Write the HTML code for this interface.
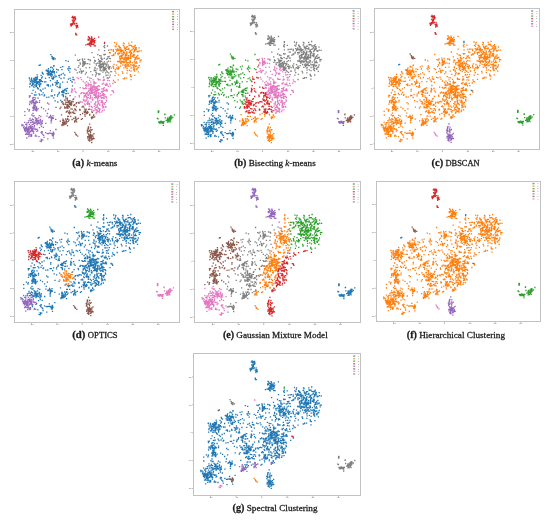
<!DOCTYPE html>
<html><head><meta charset="utf-8"><style>
html,body{margin:0;padding:0;background:#fff;width:550px;height:521px;overflow:hidden}
svg{position:absolute;left:0;top:0}
.tk{font-family:"Liberation Sans",sans-serif;font-size:2.4px;fill:#666}
.lg{font-family:"Liberation Sans",sans-serif;font-size:2.1px;fill:#7a7a7a}
.cap{font-family:"Liberation Serif",serif;font-size:8.9px;fill:#1a1a1a;stroke:#1a1a1a;stroke-width:0.26px}
</style></head><body>
<svg width="550" height="521" viewBox="0 0 550 521">
<g id="pa">
<rect x="14.5" y="9.5" width="165" height="140" fill="none" stroke="#c2c2c2" stroke-width="1"/>
<line x1="32.2" y1="150" x2="32.2" y2="151" stroke="#999" stroke-width="0.6"/>
<text x="32.2" y="152.3" class="tk" text-anchor="middle">−20</text>
<line x1="57.6" y1="150" x2="57.6" y2="151" stroke="#999" stroke-width="0.6"/>
<text x="57.6" y="152.3" class="tk" text-anchor="middle">−10</text>
<line x1="83.0" y1="150" x2="83.0" y2="151" stroke="#999" stroke-width="0.6"/>
<text x="83.0" y="152.3" class="tk" text-anchor="middle">0</text>
<line x1="108.3" y1="150" x2="108.3" y2="151" stroke="#999" stroke-width="0.6"/>
<text x="108.3" y="152.3" class="tk" text-anchor="middle">10</text>
<line x1="133.7" y1="150" x2="133.7" y2="151" stroke="#999" stroke-width="0.6"/>
<text x="133.7" y="152.3" class="tk" text-anchor="middle">20</text>
<line x1="159.0" y1="150" x2="159.0" y2="151" stroke="#999" stroke-width="0.6"/>
<text x="159.0" y="152.3" class="tk" text-anchor="middle">30</text>
<line x1="13" y1="32.6" x2="14" y2="32.6" stroke="#999" stroke-width="0.6"/>
<text x="12.7" y="33.3" class="tk" text-anchor="end">20</text>
<line x1="13" y1="60.5" x2="14" y2="60.5" stroke="#999" stroke-width="0.6"/>
<text x="12.7" y="61.2" class="tk" text-anchor="end">10</text>
<line x1="13" y1="88.4" x2="14" y2="88.4" stroke="#999" stroke-width="0.6"/>
<text x="12.7" y="89.1" class="tk" text-anchor="end">0</text>
<line x1="13" y1="116.3" x2="14" y2="116.3" stroke="#999" stroke-width="0.6"/>
<text x="12.7" y="117.0" class="tk" text-anchor="end">−10</text>
<line x1="13" y1="144.2" x2="14" y2="144.2" stroke="#999" stroke-width="0.6"/>
<text x="12.7" y="144.9" class="tk" text-anchor="end">−20</text>
<path stroke="#1f77b4" stroke-width="1.3" stroke-linecap="square" d="M40.2 65.0h0M39.2 65.4h0M53.8 57.7h0M53.0 57.9h0M53.8 58.9h0M53.5 58.0h0M52.9 59.0h0M53.6 59.5h0M52.2 58.3h0M51.8 56.4h0M55.3 58.9h0M53.5 59.1h0M50.8 54.7h0M53.1 57.8h0M52.1 56.7h0M52.7 57.9h0M39.9 83.2h0M35.9 86.7h0M34.0 81.2h0M29.7 86.8h0M39.2 84.9h0M38.2 82.6h0M36.6 81.6h0M35.2 82.4h0M41.0 83.9h0M35.7 80.6h0M33.7 86.9h0M37.6 82.5h0M34.7 79.1h0M35.7 84.8h0M34.6 81.6h0M35.2 82.6h0M30.5 81.6h0M33.0 84.8h0M33.3 83.9h0M41.1 81.4h0M33.9 82.8h0M35.9 79.4h0M37.5 88.1h0M35.0 81.7h0M32.4 83.2h0M31.7 79.1h0M40.3 79.7h0M39.6 86.7h0M36.8 83.9h0M42.5 81.7h0M33.9 78.4h0M36.0 86.5h0M39.2 79.6h0M33.0 80.8h0M36.9 81.7h0M36.6 83.1h0M34.9 82.2h0M36.6 82.0h0M37.6 87.7h0M37.9 82.4h0M30.2 83.4h0M29.3 78.2h0M38.8 84.3h0M35.4 77.4h0M34.6 80.3h0M38.1 88.8h0M36.6 80.0h0M31.9 82.1h0M35.3 79.0h0M36.3 79.0h0M39.7 85.3h0M39.6 80.9h0M37.7 81.9h0M34.6 81.3h0M31.5 78.1h0M38.6 81.7h0M36.6 85.2h0M30.0 80.0h0M36.5 83.4h0M34.6 85.2h0M36.6 78.8h0M32.7 84.6h0M37.5 76.8h0M40.5 84.0h0M40.5 81.2h0M34.9 79.0h0M44.5 81.8h0M41.3 80.4h0M36.5 77.5h0M34.6 85.1h0M31.6 85.4h0M37.1 79.3h0M34.2 81.0h0M35.7 80.7h0M33.1 81.4h0M48.6 71.2h0M50.5 75.5h0M47.6 73.7h0M49.3 71.8h0M52.3 72.7h0M53.6 72.2h0M51.4 73.3h0M49.1 74.9h0M50.3 74.9h0M50.5 71.6h0M50.4 73.8h0M52.5 71.9h0M50.5 70.3h0M51.9 71.6h0M47.0 73.6h0M52.8 70.7h0M48.4 72.3h0M48.4 74.5h0M49.0 72.3h0M51.8 72.2h0M51.5 71.8h0M48.2 70.1h0M54.3 73.1h0M51.1 73.7h0M50.9 73.8h0M54.4 71.7h0M47.5 71.7h0M47.9 75.2h0M52.3 75.1h0M51.9 78.3h0M48.5 68.7h0M51.8 74.9h0M52.2 74.6h0M50.1 74.0h0M56.2 83.8h0M53.6 76.9h0M48.8 73.0h0M53.4 78.8h0M53.5 78.4h0M52.7 79.1h0M56.7 82.9h0M55.0 77.2h0M53.0 78.9h0M51.6 76.6h0M62.9 90.5h0M64.9 89.5h0M61.6 92.1h0M62.7 92.6h0M63.4 92.2h0M64.5 89.9h0M63.0 91.6h0M63.2 92.7h0M61.8 91.6h0M64.0 92.8h0M62.1 94.8h0M66.0 90.7h0M63.4 95.4h0M64.0 92.7h0M62.7 91.8h0M62.7 91.7h0M64.1 90.9h0M48.2 84.7h0M68.7 70.3h0M72.1 82.1h0M60.3 87.6h0M69.0 66.6h0M60.0 85.8h0M65.8 93.6h0M39.7 82.5h0M44.6 95.0h0M52.7 85.0h0M66.1 88.8h0M62.0 69.6h0M47.1 85.0h0M59.6 75.3h0M43.4 74.1h0M70.2 68.7h0M54.0 65.7h0M34.8 95.1h0M39.1 93.8h0M34.1 87.1h0M45.9 81.9h0M30.0 84.3h0M53.8 97.8h0M54.3 72.6h0M73.0 79.4h0M70.0 78.4h0M32.0 85.8h0M57.1 82.0h0M36.1 94.9h0M60.7 100.4h0M50.4 80.7h0M42.3 72.3h0M68.2 93.4h0M48.8 97.2h0M51.9 89.8h0M41.3 91.0h0M53.4 69.4h0M50.7 67.6h0M61.0 78.5h0M69.8 72.1h0M53.7 66.0h0M46.8 97.4h0M37.4 77.8h0M43.2 92.9h0M72.5 85.9h0M51.2 95.9h0M37.4 83.3h0M59.9 86.7h0M32.6 84.0h0M33.1 90.4h0M41.6 78.0h0M66.4 93.6h0M68.9 68.1h0M42.4 76.8h0M56.6 72.1h0M34.4 94.9h0M67.4 82.1h0M54.9 75.1h0M60.2 84.0h0M36.5 86.5h0M68.3 61.4h0M57.5 96.1h0M45.1 88.2h0M67.8 68.9h0M57.5 83.8h0M37.2 74.9h0M63.0 94.6h0M70.7 80.4h0M72.0 81.6h0M35.5 92.2h0M56.2 76.3h0M55.8 85.1h0M59.0 87.5h0M58.8 75.4h0M64.8 75.0h0M51.7 91.4h0M59.3 92.4h0M47.2 71.1h0M64.0 78.0h0M43.0 89.2h0M60.8 67.4h0M40.3 90.0h0M65.6 96.4h0M52.6 67.8h0M59.0 93.6h0M38.1 98.1h0M62.6 82.2h0M53.3 77.6h0M41.1 75.3h0M31.7 80.5h0M33.6 79.2h0M65.9 60.6h0M62.7 66.7h0M39.8 95.1h0M45.5 78.3h0M61.3 74.5h0M38.4 88.9h0M57.2 86.7h0M57.8 102.0h0M51.1 67.1h0M67.4 88.3h0M55.2 100.9h0M57.9 94.6h0M64.9 89.4h0M48.4 86.0h0M57.2 80.6h0M46.2 70.5h0M50.5 85.8h0M29.5 77.9h0M73.8 79.5h0M46.8 70.2h0M54.6 95.0h0M49.3 77.6h0M68.4 79.1h0M58.5 82.6h0M42.0 94.6h0M55.2 82.4h0M32.0 93.3h0M52.5 84.1h0M37.8 82.8h0M73.0 77.3h0M56.6 69.4h0M63.4 96.7h0M63.2 73.5h0M58.2 70.0h0M53.2 71.3h0M44.1 95.8h0M59.3 77.2h0M52.4 95.9h0M50.1 73.3h0M42.5 73.3h0M66.6 91.0h0"/>
<path stroke="#ff7f0e" stroke-width="1.3" stroke-linecap="square" d="M110.5 61.4h0M110.4 52.8h0M115.3 69.6h0M126.8 53.0h0M121.3 50.7h0M124.6 48.2h0M121.1 49.1h0M127.3 57.7h0M134.6 49.7h0M123.8 59.8h0M125.7 54.6h0M133.4 54.6h0M121.9 50.5h0M127.9 57.2h0M121.0 51.9h0M128.7 58.4h0M124.0 58.6h0M128.8 48.5h0M125.3 57.7h0M124.2 47.0h0M125.4 59.1h0M132.9 46.8h0M137.0 51.3h0M130.4 61.1h0M130.5 56.6h0M121.9 58.6h0M123.7 45.4h0M137.9 58.9h0M133.8 52.2h0M132.4 62.6h0M132.8 55.9h0M121.7 55.2h0M117.7 48.9h0M126.9 51.8h0M125.9 55.5h0M134.3 61.4h0M126.4 61.0h0M123.4 54.6h0M130.2 50.8h0M125.4 50.5h0M127.0 62.8h0M121.3 58.2h0M120.4 47.6h0M118.2 67.7h0M141.3 60.2h0M121.5 61.9h0M124.0 62.7h0M128.0 58.6h0M130.0 52.0h0M123.5 43.1h0M123.3 45.4h0M125.2 49.0h0M126.8 60.0h0M117.0 50.2h0M120.1 62.2h0M137.1 63.1h0M123.9 67.8h0M116.4 68.1h0M119.5 57.8h0M124.8 57.3h0M116.6 51.2h0M129.1 58.2h0M133.8 57.1h0M141.2 50.9h0M118.1 66.8h0M120.1 60.6h0M125.7 48.4h0M123.9 52.5h0M123.0 62.3h0M130.3 52.0h0M120.3 58.6h0M125.5 64.4h0M125.9 55.1h0M120.6 49.4h0M119.7 53.4h0M123.4 62.2h0M123.6 54.9h0M118.3 69.2h0M129.4 70.3h0M131.2 68.0h0M124.5 62.0h0M133.7 69.6h0M128.8 62.4h0M134.3 51.3h0M128.8 49.6h0M121.7 51.6h0M125.2 57.6h0M129.1 45.2h0M139.1 65.6h0M130.9 53.6h0M125.5 60.8h0M128.8 43.1h0M131.0 79.6h0M114.0 64.4h0M128.6 55.6h0M135.1 47.1h0M127.2 68.1h0M124.8 53.1h0M126.9 52.9h0M136.3 49.2h0M131.9 46.5h0M130.5 55.6h0M119.1 52.9h0M136.3 47.6h0M119.2 67.9h0M126.9 68.7h0M128.3 49.4h0M125.7 66.3h0M132.3 56.5h0M126.5 55.6h0M122.3 71.8h0M126.2 47.5h0M123.0 62.2h0M130.4 55.4h0M121.7 56.7h0M115.1 46.1h0M131.4 52.6h0M128.6 66.2h0M130.4 56.6h0M140.1 61.8h0M123.8 62.3h0M128.8 49.6h0M126.6 55.1h0M113.2 55.1h0M124.3 53.0h0M115.3 53.6h0M125.9 57.3h0M118.7 61.5h0M118.1 54.7h0M134.7 51.0h0M122.8 65.0h0M123.6 54.1h0M127.6 64.8h0M111.6 49.9h0M119.5 47.8h0M120.5 49.8h0M128.1 49.4h0M126.9 59.6h0M121.3 57.5h0M136.9 59.0h0M122.0 55.9h0M120.1 58.6h0M131.8 50.0h0M124.8 65.3h0M122.9 58.0h0M119.4 50.0h0M122.8 73.3h0M123.5 52.4h0M122.5 55.2h0M130.3 57.9h0M139.3 58.1h0M135.4 58.6h0M130.0 45.3h0M125.3 55.9h0M131.8 53.5h0M123.3 54.5h0M124.7 59.6h0M118.0 49.3h0M128.0 57.6h0M123.7 52.0h0M120.8 56.0h0M133.7 48.3h0M135.9 63.0h0M123.2 62.5h0M116.7 43.1h0M117.9 53.3h0M124.1 52.5h0M129.3 45.5h0M121.9 53.3h0M118.7 45.8h0M119.7 56.4h0M129.9 60.8h0M119.8 50.3h0M120.2 59.9h0M113.1 66.1h0M123.0 50.4h0M128.3 64.5h0M128.3 64.6h0M127.0 66.0h0M134.1 55.7h0M135.3 57.7h0M126.7 49.3h0M124.3 62.5h0M117.7 61.5h0M128.4 58.6h0M112.0 55.7h0M130.3 50.6h0M130.4 51.3h0M131.7 42.2h0M130.6 54.6h0M136.3 65.8h0M134.2 70.5h0M133.9 66.1h0M134.7 65.7h0M136.9 69.8h0M134.1 64.6h0M136.9 68.8h0M136.4 68.9h0M133.8 66.9h0M133.1 65.1h0M136.6 66.2h0M138.6 67.3h0M134.2 68.4h0M137.8 67.9h0M133.3 67.7h0M114.6 42.7h0M118.2 79.9h0M115.1 75.6h0M134.7 59.9h0M129.8 66.2h0M121.3 63.1h0M119.2 61.9h0M135.6 48.5h0M127.5 46.9h0M130.3 74.7h0M127.0 73.2h0M130.4 76.1h0M110.2 49.9h0M122.3 50.8h0M138.1 51.5h0M133.0 49.2h0M135.8 49.9h0M115.0 71.3h0M126.6 46.9h0M131.1 71.2h0M115.9 49.3h0M113.4 51.4h0M120.2 62.2h0M119.0 46.4h0M132.1 65.5h0M126.5 53.8h0M115.4 52.7h0M137.8 55.5h0M126.7 78.1h0M131.0 45.3h0M126.2 62.2h0M130.3 62.5h0M126.7 58.3h0M125.6 57.9h0M128.3 59.7h0M131.4 76.5h0M120.5 51.5h0M113.8 55.3h0M135.3 45.3h0M116.6 65.1h0M123.3 78.8h0M118.4 68.0h0M113.5 80.3h0M134.3 69.1h0M130.7 55.5h0M113.7 54.4h0M139.4 50.8h0M125.1 65.8h0M123.0 61.5h0M137.5 51.9h0M134.2 54.6h0M130.7 58.4h0M111.3 68.2h0M133.8 54.3h0M120.8 63.7h0M115.9 73.1h0M126.5 58.7h0M140.0 60.1h0M136.7 57.0h0M120.5 49.4h0M136.3 61.6h0M113.4 50.0h0M134.8 75.4h0M130.6 57.7h0M135.5 66.6h0M139.1 47.8h0M120.4 66.1h0M136.7 56.5h0M134.3 46.4h0M125.6 67.1h0M127.3 65.2h0M118.3 50.5h0M135.7 57.8h0M124.8 78.0h0M113.6 68.4h0M138.4 71.8h0M129.4 63.1h0M139.1 65.4h0M127.1 63.0h0M111.5 71.7h0M135.3 59.3h0M116.0 46.9h0M118.4 74.8h0M121.8 61.3h0M116.5 44.7h0M129.1 52.5h0M127.0 54.8h0M121.5 58.2h0M127.3 62.6h0M130.8 64.7h0M119.0 53.1h0M125.8 64.5h0M113.3 67.1h0M121.1 49.4h0M128.3 57.1h0M134.3 46.5h0M117.5 68.8h0M119.6 46.8h0M134.9 63.0h0M138.2 58.1h0M127.3 70.7h0M134.7 71.1h0M124.1 43.7h0M124.7 78.5h0M115.3 82.3h0"/>
<path stroke="#2ca02c" stroke-width="1.3" stroke-linecap="square" d="M162.7 121.9h0M161.0 121.2h0M161.0 122.3h0M160.2 121.9h0M164.1 121.6h0M159.7 121.9h0M163.0 123.4h0M161.7 121.9h0M160.6 122.9h0M159.9 123.1h0M163.4 122.3h0M162.2 122.7h0M163.6 121.7h0M163.0 122.1h0M160.1 122.3h0M160.9 121.8h0M158.8 121.8h0M163.4 123.4h0M162.2 122.9h0M160.5 122.2h0M161.7 121.7h0M159.8 122.3h0M160.8 121.7h0M161.8 122.1h0M162.8 122.3h0M160.8 122.4h0M161.0 121.9h0M160.6 122.7h0M162.2 123.0h0M158.7 122.1h0M160.6 122.4h0M160.6 122.0h0M162.4 122.4h0M159.5 123.0h0M170.3 117.2h0M169.9 117.4h0M170.8 117.2h0M167.7 120.6h0M168.2 120.9h0M169.5 119.1h0M165.3 117.9h0M167.8 117.9h0M170.6 119.8h0M169.3 118.6h0M168.9 119.6h0M167.9 120.0h0M168.8 121.9h0M170.0 120.1h0M168.9 119.9h0M169.4 120.0h0M170.7 118.1h0M167.5 120.1h0M171.6 116.2h0M170.0 121.0h0M171.4 117.8h0M170.6 121.8h0M170.3 119.1h0M167.8 118.7h0M167.5 122.1h0M169.6 118.5h0M166.2 120.5h0M167.5 119.0h0M171.6 118.6h0M174.4 114.9h0M167.6 119.9h0M163.4 125.3h0M169.8 120.4h0M170.7 118.7h0M170.1 119.5h0M170.6 116.0h0M167.4 119.3h0M172.8 117.4h0M169.4 117.2h0M169.3 118.9h0M169.2 119.1h0M169.7 118.2h0M158.7 112.2h0M158.3 111.9h0M158.3 112.6h0M158.3 112.2h0M158.3 110.8h0M158.8 111.1h0M158.1 118.8h0M157.4 118.4h0M165.0 114.2h0M164.8 114.7h0"/>
<path stroke="#d62728" stroke-width="1.3" stroke-linecap="square" d="M75.0 18.5h0M74.7 17.0h0M74.5 16.9h0M75.1 19.9h0M74.4 17.3h0M75.6 18.6h0M75.1 16.9h0M75.0 19.0h0M73.4 17.5h0M72.7 16.5h0M72.8 17.8h0M73.5 18.5h0M75.2 17.9h0M72.0 17.4h0M75.0 18.3h0M73.2 17.5h0M70.8 23.9h0M72.5 23.9h0M71.6 25.3h0M71.2 24.5h0M71.7 24.6h0M70.6 24.7h0M72.7 23.4h0M72.3 24.7h0M71.1 26.2h0M72.2 23.6h0M71.7 25.0h0M71.5 25.1h0M71.6 25.1h0M72.8 24.1h0M74.1 21.3h0M74.3 20.1h0M73.0 21.4h0M74.3 24.0h0M72.3 20.2h0M75.3 19.1h0M73.1 21.6h0M74.9 23.4h0M73.4 21.2h0M72.7 24.2h0M73.2 21.3h0M74.1 21.8h0M73.8 20.1h0M73.8 21.2h0M74.8 23.3h0M73.3 22.9h0M76.5 26.7h0M77.1 26.6h0M75.9 25.5h0M76.7 23.4h0M77.6 25.3h0M76.4 27.9h0M76.9 25.1h0M77.4 26.7h0M77.3 25.9h0M77.9 27.1h0M76.0 34.9h0M75.7 33.5h0M75.9 33.7h0M76.8 34.9h0M91.9 40.5h0M91.5 36.9h0M89.5 43.0h0M87.5 44.3h0M88.2 44.0h0M90.0 44.1h0M92.0 38.1h0M94.2 45.8h0M91.6 41.4h0M91.4 39.5h0M93.9 40.7h0M91.6 40.0h0M90.5 38.8h0M94.2 41.7h0M93.7 42.1h0M90.3 41.2h0M90.6 42.1h0M91.0 41.3h0M89.0 40.0h0M95.0 40.3h0M89.6 42.9h0M94.5 38.3h0M91.3 40.4h0M88.2 44.0h0M91.7 42.3h0M90.2 43.2h0M90.6 41.7h0M89.5 38.9h0M94.4 40.8h0M92.3 42.0h0M90.8 40.8h0M93.0 41.3h0M91.4 42.1h0M94.1 43.8h0M92.5 40.6h0M89.0 44.5h0M93.7 41.7h0M92.8 44.1h0M93.4 44.4h0M90.8 46.0h0M89.2 44.3h0M92.7 44.3h0M95.5 45.9h0M89.4 37.7h0M93.4 39.4h0M91.7 44.2h0M88.4 36.6h0M92.2 42.2h0M90.8 42.9h0M88.6 36.8h0M91.0 38.9h0M85.9 44.8h0M91.4 44.4h0M88.2 40.1h0M88.1 39.2h0M92.3 39.7h0M92.9 44.1h0M98.7 37.2h0M94.7 42.4h0M91.6 37.0h0M90.0 45.7h0M91.3 43.1h0M104.5 43.3h0M104.6 42.3h0"/>
<path stroke="#9467bd" stroke-width="1.3" stroke-linecap="square" d="M33.4 100.6h0M35.0 102.4h0M34.1 102.3h0M31.7 100.8h0M32.9 101.5h0M34.1 102.6h0M30.1 102.8h0M30.1 101.4h0M32.8 98.5h0M33.7 102.9h0M33.1 101.8h0M32.6 100.7h0M32.8 101.5h0M33.7 100.2h0M34.1 102.9h0M33.2 101.8h0M34.9 99.3h0M34.7 103.1h0M34.2 103.4h0M31.9 102.1h0M35.1 103.5h0M34.0 99.6h0M34.9 105.0h0M36.0 103.1h0M29.6 104.5h0M33.1 97.6h0M34.4 99.7h0M30.3 101.4h0M36.7 101.9h0M34.2 106.1h0M37.5 102.4h0M32.9 100.1h0M31.8 103.5h0M34.5 102.9h0M36.0 101.1h0M35.9 110.2h0M36.7 110.9h0M36.5 108.2h0M36.4 106.8h0M34.0 109.9h0M35.9 109.4h0M34.0 108.1h0M35.3 107.1h0M33.3 108.1h0M37.1 109.5h0M25.9 129.4h0M31.1 120.1h0M27.7 131.3h0M30.8 135.2h0M32.5 130.5h0M29.4 132.1h0M26.2 129.3h0M31.6 136.0h0M27.6 129.3h0M29.0 134.0h0M28.1 134.4h0M24.5 128.8h0M27.5 132.1h0M32.2 124.3h0M24.7 130.6h0M25.7 124.3h0M32.2 131.1h0M30.1 127.8h0M32.1 128.6h0M32.4 126.4h0M25.0 130.1h0M25.5 131.7h0M29.2 126.3h0M28.5 128.3h0M31.7 127.3h0M26.5 133.5h0M36.7 136.2h0M28.4 130.2h0M34.0 129.0h0M24.5 129.8h0M29.9 126.6h0M21.9 124.6h0M30.7 126.9h0M27.7 130.2h0M30.6 128.3h0M30.1 126.4h0M26.8 126.0h0M32.5 129.3h0M25.4 128.3h0M27.4 131.8h0M22.1 125.9h0M26.8 138.0h0M31.8 129.1h0M30.9 136.4h0M27.3 128.2h0M32.8 131.1h0M30.8 127.7h0M35.5 135.2h0M30.4 131.8h0M27.5 130.9h0M30.8 128.3h0M25.4 128.3h0M25.9 128.3h0M29.2 133.2h0M35.7 129.5h0M23.6 127.7h0M28.5 122.7h0M29.5 124.3h0M29.3 129.1h0M27.0 129.2h0M26.2 127.4h0M35.2 136.1h0M33.2 131.8h0M25.6 134.3h0M28.0 129.2h0M27.1 129.8h0M26.5 129.2h0M24.1 128.2h0M36.9 129.2h0M27.3 131.2h0M30.9 125.7h0M27.4 132.5h0M29.2 129.9h0M34.1 127.2h0M28.5 127.7h0M33.9 122.9h0M25.7 127.7h0M30.7 131.5h0M33.5 124.1h0M31.1 128.5h0M25.7 131.3h0M24.7 122.4h0M26.8 124.4h0M25.7 130.7h0M29.4 134.8h0M36.7 119.6h0M35.6 120.9h0M34.7 123.6h0M35.8 118.8h0M38.5 122.5h0M37.8 122.9h0M38.4 122.8h0M39.6 123.5h0M37.9 123.5h0M34.2 122.4h0M36.6 123.1h0M34.4 125.9h0M37.3 120.3h0M33.7 122.1h0M36.9 121.3h0M37.3 121.4h0M38.2 121.3h0M37.0 124.6h0M42.3 120.7h0M36.2 121.0h0M38.7 120.4h0M36.1 122.6h0M49.9 116.9h0M50.6 115.5h0M49.3 117.5h0M51.5 117.8h0M48.8 117.5h0M52.4 118.7h0M51.2 117.0h0M52.2 117.3h0M49.7 117.1h0M53.3 118.3h0M52.9 117.5h0M52.6 117.3h0M51.1 121.0h0M52.4 117.4h0M51.2 118.4h0M53.7 132.9h0M50.1 133.2h0M52.2 133.6h0M53.8 133.9h0M53.2 132.2h0M53.3 136.0h0M53.1 133.8h0M52.4 135.6h0M51.1 133.4h0M52.8 134.4h0M51.7 133.9h0M51.9 133.7h0M41.8 131.7h0M41.9 133.3h0M41.1 132.4h0M42.4 131.8h0M42.1 131.8h0M42.8 134.5h0M42.7 139.9h0M41.7 140.3h0M41.2 141.7h0M40.1 141.2h0M41.1 141.6h0M41.3 139.5h0M40.8 116.5h0M29.2 130.0h0M47.4 113.5h0M28.7 131.2h0M48.9 104.2h0M27.5 109.2h0M47.8 138.9h0M53.5 138.2h0M24.9 115.4h0M35.9 101.6h0M37.7 130.5h0M46.9 116.1h0M28.5 120.9h0M40.9 124.8h0M39.6 100.7h0M33.9 97.3h0M47.6 103.0h0M28.5 128.3h0M33.4 115.8h0M32.3 130.7h0M43.6 108.8h0M47.2 133.6h0M45.8 123.4h0M30.1 101.6h0M34.5 125.7h0M43.7 135.3h0M33.4 131.2h0M33.8 105.0h0M48.4 133.5h0M31.8 129.7h0M50.4 130.7h0M38.2 108.6h0M48.8 133.3h0M41.5 107.5h0M45.7 132.6h0M41.5 126.4h0M33.1 116.1h0M43.3 127.3h0M39.0 136.7h0M51.3 133.3h0M27.1 134.3h0M51.4 119.7h0M39.5 102.3h0M32.7 128.1h0M51.5 120.6h0M35.2 105.6h0M31.4 120.3h0M34.1 122.5h0M33.5 133.3h0M31.6 134.7h0M35.0 128.9h0M30.4 95.8h0M29.4 95.9h0M39.5 127.6h0M32.9 107.9h0M32.0 122.4h0M34.3 107.5h0M54.0 133.9h0M33.7 131.6h0M39.3 115.6h0M26.9 129.8h0M23.1 125.2h0M27.9 132.6h0M40.9 121.9h0M35.8 110.3h0M52.6 133.9h0M48.5 109.2h0M45.6 110.9h0M24.1 126.3h0M28.9 136.5h0M29.1 126.4h0M51.2 122.9h0M36.9 131.3h0M24.8 111.7h0M29.8 120.1h0M35.9 120.4h0M27.0 122.8h0M53.7 134.7h0M36.6 106.9h0M31.0 130.6h0M35.5 97.9h0M31.3 129.8h0M44.1 137.3h0M31.2 134.5h0M29.5 97.1h0M53.0 115.6h0M34.1 115.9h0M33.6 119.9h0M42.2 122.1h0M32.5 118.9h0M30.0 118.3h0M39.9 121.1h0M30.5 122.5h0M29.0 110.9h0M32.4 121.7h0M35.7 122.9h0M39.3 123.0h0M41.2 123.8h0M33.0 113.4h0M38.7 117.9h0M41.1 122.4h0M33.5 108.7h0M40.5 120.0h0M33.0 107.4h0M29.0 111.2h0M33.0 110.4h0M29.4 109.7h0M34.2 108.1h0M31.9 115.0h0M42.2 123.6h0M35.1 108.8h0M32.9 119.7h0M35.1 117.6h0M40.4 119.4h0M33.4 107.0h0M36.9 118.5h0"/>
<path stroke="#8c564b" stroke-width="1.3" stroke-linecap="square" d="M64.5 123.9h0M64.1 123.5h0M63.0 119.1h0M65.7 123.9h0M64.3 122.8h0M66.0 121.9h0M62.7 122.4h0M66.3 120.3h0M66.3 121.6h0M61.9 124.8h0M63.8 120.5h0M63.3 124.3h0M66.3 122.0h0M64.8 123.9h0M62.8 123.3h0M64.0 121.8h0M63.1 122.8h0M64.1 121.7h0M63.2 124.6h0M64.4 124.2h0M66.3 123.7h0M68.3 121.3h0M65.6 122.2h0M67.5 125.6h0M60.3 121.1h0M65.3 124.0h0M70.5 104.9h0M69.6 107.2h0M67.9 108.4h0M60.9 107.1h0M64.8 108.2h0M67.4 102.3h0M69.3 102.2h0M65.2 100.1h0M68.0 106.7h0M71.4 104.7h0M71.5 105.2h0M67.8 106.9h0M71.5 104.0h0M67.3 104.6h0M68.4 102.3h0M71.4 103.8h0M69.6 102.5h0M69.3 106.4h0M66.8 111.5h0M69.3 110.8h0M71.2 103.0h0M66.9 106.5h0M68.3 105.3h0M67.2 99.4h0M67.4 98.1h0M69.3 102.8h0M65.8 104.4h0M69.0 100.6h0M62.5 101.7h0M61.6 102.0h0M73.2 101.8h0M70.2 100.8h0M69.1 104.1h0M67.9 106.9h0M73.7 105.7h0M68.5 102.0h0M70.0 104.3h0M70.8 105.0h0M73.7 98.8h0M67.2 107.9h0M67.0 102.6h0M67.3 100.7h0M68.5 112.9h0M71.8 101.6h0M65.3 103.8h0M71.3 102.5h0M65.9 107.9h0M70.9 103.9h0M64.5 100.2h0M65.9 98.0h0M70.5 103.1h0M69.7 111.1h0M71.9 101.5h0M70.9 108.8h0M65.7 102.1h0M82.6 113.5h0M85.6 112.0h0M88.0 112.7h0M84.5 112.7h0M84.2 111.7h0M85.9 111.9h0M84.9 114.6h0M86.5 113.5h0M86.1 113.1h0M87.2 112.5h0M87.6 111.4h0M85.1 110.9h0M91.7 118.6h0M93.2 117.7h0M92.0 117.9h0M91.4 117.3h0M92.1 116.8h0M76.4 119.5h0M75.4 118.3h0M74.6 121.7h0M74.6 121.4h0M76.9 119.1h0M74.8 120.8h0M78.3 118.4h0M75.9 120.8h0M76.6 121.9h0M75.5 120.2h0M74.7 122.0h0M75.3 116.9h0M88.0 130.0h0M92.1 129.6h0M88.2 131.6h0M91.4 130.2h0M90.3 131.5h0M87.6 130.5h0M88.3 128.3h0M90.7 127.3h0M90.6 132.4h0M88.0 128.7h0M87.8 131.4h0M89.7 131.0h0M90.2 129.1h0M88.7 126.9h0M89.7 130.7h0M87.4 132.9h0M89.6 124.2h0M88.3 127.2h0M90.4 135.8h0M87.2 130.5h0M90.5 138.1h0M92.0 139.9h0M89.2 140.5h0M89.3 137.9h0M92.9 138.8h0M89.3 136.0h0M90.1 137.3h0M92.9 134.8h0M91.7 138.6h0M91.9 138.3h0M93.5 138.4h0M92.4 138.5h0M94.0 133.6h0M93.1 136.9h0M90.4 135.5h0M87.7 136.6h0M89.8 138.4h0M88.4 140.2h0M91.4 136.9h0M89.7 135.8h0M89.0 136.3h0M90.9 137.0h0M88.5 136.9h0M89.4 137.7h0M94.1 138.6h0M90.4 134.2h0M88.5 134.0h0M92.2 135.9h0M91.0 136.1h0M91.1 140.2h0M89.8 136.7h0M89.6 139.1h0M89.2 135.1h0M88.6 134.6h0M91.7 142.5h0M89.2 139.3h0M91.3 135.2h0M90.5 136.9h0M89.7 141.2h0M87.7 138.1h0M75.6 133.8h0M76.5 135.2h0M76.2 134.7h0M74.8 132.4h0M77.8 136.1h0M74.7 109.0h0M72.9 112.5h0M79.0 103.3h0M87.4 113.0h0M78.3 102.5h0M80.1 110.0h0M80.4 114.6h0M74.9 113.3h0M67.6 108.0h0M74.9 105.1h0M67.1 122.2h0M73.6 113.0h0M65.7 119.0h0M85.3 110.7h0M89.8 114.4h0M72.3 112.1h0M69.0 120.0h0M62.0 125.6h0M67.7 118.6h0M84.5 109.2h0M67.4 111.1h0M63.3 103.1h0M89.7 115.0h0M72.3 109.2h0M67.7 116.5h0M73.7 118.5h0M71.8 103.8h0M76.4 106.6h0M67.5 119.3h0M56.0 107.4h0M69.5 113.8h0M61.5 114.8h0M63.7 104.6h0M73.9 110.9h0M86.1 112.7h0M82.4 118.7h0M68.7 112.4h0M64.8 122.7h0M63.8 125.1h0M62.7 103.8h0M70.7 116.4h0M88.5 109.4h0M74.3 104.6h0M70.8 112.9h0M79.7 110.2h0M75.8 117.4h0M72.1 119.5h0M62.5 124.6h0M62.8 120.5h0M64.7 106.8h0M64.8 107.4h0M86.1 113.0h0M89.7 109.3h0M76.5 102.7h0M76.0 110.7h0M60.0 108.5h0M55.9 129.5h0M81.4 119.4h0M70.0 95.7h0M80.0 102.1h0M66.2 112.1h0M75.6 109.3h0M79.7 109.3h0M73.1 99.5h0M55.8 119.3h0M76.1 103.6h0M91.8 111.8h0M87.1 113.3h0M66.9 106.0h0M70.0 112.7h0M85.1 116.2h0M68.4 116.4h0M83.1 106.2h0M86.0 109.5h0M83.8 107.1h0M85.8 110.0h0M82.2 107.0h0M86.1 109.1h0M92.4 112.3h0M94.7 116.9h0M93.7 115.7h0M93.6 115.0h0M92.7 117.0h0"/>
<path stroke="#e377c2" stroke-width="1.3" stroke-linecap="square" d="M113.0 91.0h0M112.0 90.7h0M98.0 78.7h0M102.7 84.2h0M96.9 88.4h0M91.9 91.8h0M94.0 87.0h0M92.9 87.8h0M94.4 89.8h0M96.4 91.1h0M90.1 90.5h0M95.8 90.6h0M96.1 88.3h0M91.5 91.7h0M91.3 84.6h0M96.1 87.9h0M93.0 86.3h0M90.7 86.9h0M92.9 90.4h0M88.4 91.2h0M91.0 87.1h0M95.3 89.4h0M90.2 93.7h0M91.7 90.1h0M94.2 92.7h0M92.7 91.8h0M92.0 92.1h0M92.0 88.7h0M98.1 90.3h0M94.0 94.6h0M94.6 87.7h0M95.4 86.8h0M96.3 92.3h0M92.4 88.1h0M94.1 89.6h0M91.5 90.8h0M89.0 88.5h0M92.8 88.9h0M94.4 86.7h0M95.1 89.1h0M92.2 86.4h0M91.0 90.3h0M91.5 89.7h0M96.2 91.9h0M97.3 88.8h0M91.2 91.9h0M94.4 92.1h0M93.7 92.3h0M95.7 91.2h0M95.4 96.0h0M93.9 94.9h0M98.1 90.1h0M102.2 92.7h0M98.0 92.8h0M91.3 106.5h0M90.9 85.2h0M88.7 91.4h0M104.5 94.7h0M97.8 86.9h0M94.6 97.7h0M102.5 88.9h0M95.9 95.4h0M87.0 93.3h0M91.2 78.4h0M95.9 96.9h0M90.2 84.8h0M100.8 95.1h0M98.2 102.5h0M89.8 98.6h0M91.3 93.0h0M92.2 93.4h0M98.8 94.2h0M91.8 91.6h0M94.5 87.6h0M89.9 93.1h0M89.5 92.6h0M89.3 106.3h0M99.9 96.3h0M92.3 107.5h0M94.4 92.8h0M94.3 95.4h0M100.4 93.3h0M104.2 87.7h0M96.4 86.9h0M102.6 91.3h0M92.3 99.4h0M99.5 86.2h0M90.7 84.4h0M93.4 92.7h0M90.7 89.0h0M90.5 88.6h0M95.5 103.2h0M82.0 92.7h0M90.3 96.6h0M87.4 92.5h0M86.9 97.9h0M93.2 92.4h0M94.7 91.8h0M84.1 97.2h0M94.2 92.4h0M98.0 101.3h0M86.6 88.4h0M101.1 102.6h0M88.6 85.8h0M89.1 90.2h0M83.9 93.6h0M85.6 85.6h0M97.7 89.0h0M92.2 97.5h0M97.1 91.2h0M92.9 88.1h0M102.2 97.6h0M86.6 93.4h0M96.5 96.5h0M102.7 102.3h0M89.7 92.8h0M85.6 95.0h0M93.5 110.8h0M93.2 79.9h0M88.9 94.1h0M85.7 87.8h0M90.6 95.6h0M91.7 87.7h0M97.0 89.9h0M89.9 84.5h0M88.3 97.6h0M83.7 92.9h0M96.6 91.0h0M93.9 86.2h0M99.8 100.5h0M93.9 82.1h0M86.9 99.7h0M102.0 95.3h0M99.5 89.5h0M91.6 93.4h0M95.0 83.5h0M97.8 101.9h0M86.3 84.7h0M94.6 89.2h0M114.2 81.8h0M89.5 108.8h0M94.2 81.6h0M94.0 83.8h0M95.0 108.4h0M83.7 100.6h0M95.6 105.0h0M82.9 87.8h0M100.2 79.8h0M83.6 88.6h0M75.1 96.8h0M84.4 100.3h0M100.1 109.2h0M100.8 97.2h0M99.9 104.9h0M98.2 98.1h0M96.0 82.8h0M83.2 81.5h0M74.4 79.8h0M88.8 104.1h0M91.2 109.6h0M76.1 92.5h0M102.3 100.8h0M91.2 102.1h0M77.2 77.9h0M88.1 83.1h0M105.8 90.9h0M85.3 104.8h0M92.8 100.2h0M74.6 89.0h0M75.1 91.3h0M88.4 84.3h0M106.0 85.3h0M98.4 85.7h0M94.4 104.0h0M72.0 92.2h0M99.1 79.7h0M99.6 110.5h0M91.0 88.5h0M72.1 89.8h0M109.3 80.6h0M89.4 106.4h0M99.5 109.9h0M89.7 78.2h0M81.5 79.6h0M98.7 95.5h0M71.8 90.7h0M104.5 104.3h0M103.9 79.5h0M88.1 103.0h0M88.2 101.2h0M85.6 95.9h0M71.9 88.8h0M93.9 82.9h0M89.7 80.3h0M98.1 108.1h0M78.6 78.5h0M106.8 83.5h0M93.8 85.6h0M94.5 82.9h0M90.4 84.3h0M90.8 82.1h0M80.7 77.7h0M105.6 84.8h0M101.9 88.9h0M72.6 90.0h0M86.7 85.7h0M84.9 88.6h0M96.2 93.2h0M86.2 100.5h0M104.4 90.7h0M92.8 86.2h0M87.4 104.3h0M71.4 92.0h0M84.7 95.7h0M86.9 86.0h0M96.3 112.3h0M104.0 103.1h0M103.6 83.2h0M79.4 96.8h0M80.2 87.6h0M103.4 98.1h0M85.2 101.6h0M75.0 82.9h0M98.3 79.8h0M86.6 81.6h0M89.6 104.6h0M106.8 84.9h0M85.1 83.0h0M104.4 80.0h0M79.2 95.5h0M84.4 93.4h0M88.4 95.4h0M83.3 99.2h0M97.6 98.8h0M93.1 99.1h0M87.3 94.9h0M87.8 97.5h0M98.4 108.1h0M84.6 100.2h0M90.4 95.4h0M87.7 97.5h0M95.0 94.1h0M98.5 96.6h0M85.9 93.8h0M97.0 107.2h0M80.9 101.8h0M87.0 103.2h0M84.7 104.0h0M87.8 101.8h0M89.5 103.6h0M80.9 93.5h0M98.1 96.9h0M86.4 96.7h0M91.9 110.0h0M87.3 98.1h0M86.3 92.9h0M81.3 93.3h0M82.3 102.2h0M83.6 93.1h0M95.5 94.7h0M84.3 96.0h0M97.5 95.9h0M95.4 97.9h0M90.4 98.0h0M106.2 89.7h0M103.5 88.6h0M97.1 86.6h0M102.3 106.1h0M103.8 107.5h0M98.5 89.7h0M106.6 97.8h0M101.9 111.8h0M105.6 106.5h0M101.5 91.4h0M103.9 96.9h0M103.2 91.1h0M106.7 89.3h0M94.9 110.2h0M102.3 102.4h0M96.4 94.2h0M96.2 97.6h0M102.3 106.2h0M103.2 94.8h0M97.7 107.2h0M107.2 91.1h0M98.8 92.7h0M107.2 85.0h0M106.0 107.3h0M97.6 104.7h0M98.2 103.4h0M99.0 111.7h0M99.5 108.7h0M101.3 95.6h0M107.1 90.3h0M105.4 102.6h0M99.1 109.0h0M104.2 110.0h0M99.2 103.9h0M94.2 106.4h0M98.0 111.5h0M105.2 96.9h0M95.9 107.7h0M96.1 113.5h0M96.7 110.0h0M99.8 112.3h0M97.1 112.0h0M97.2 97.8h0M102.1 101.0h0M102.7 105.2h0M102.6 107.9h0M99.8 105.2h0M106.3 100.1h0M106.0 96.7h0M97.4 110.4h0M95.8 102.0h0M101.7 102.1h0M102.6 103.8h0M95.8 96.5h0M97.8 100.5h0M102.3 110.3h0M104.1 98.6h0M102.8 94.2h0M101.6 100.7h0M101.5 98.3h0M96.0 109.7h0M106.5 101.2h0M103.6 95.4h0M97.0 105.8h0M103.6 106.4h0M109.8 83.8h0M103.2 80.5h0M110.9 94.9h0M105.2 84.5h0M103.8 89.5h0M107.6 80.3h0M112.9 83.5h0M106.9 90.4h0M113.6 92.6h0M108.3 86.3h0M104.9 94.8h0M102.2 83.9h0M103.6 93.7h0M110.4 86.0h0M113.2 91.6h0"/>
<path stroke="#7f7f7f" stroke-width="1.3" stroke-linecap="square" d="M85.0 63.0h0M83.3 61.8h0M83.8 62.3h0M83.6 65.2h0M84.5 64.4h0M84.5 63.7h0M83.7 63.2h0M85.1 62.0h0M85.9 63.7h0M82.8 62.9h0M82.9 63.9h0M82.8 65.3h0M82.7 60.2h0M82.8 60.6h0M83.9 65.2h0M84.9 61.6h0M82.8 66.3h0M84.4 63.6h0M105.6 72.9h0M106.6 64.9h0M103.0 66.6h0M99.3 60.7h0M101.8 61.1h0M101.4 64.7h0M101.2 63.8h0M103.3 68.0h0M99.8 61.6h0M95.4 61.2h0M103.7 64.6h0M97.8 63.1h0M101.7 66.2h0M99.4 63.5h0M94.7 60.4h0M107.8 56.8h0M100.3 65.2h0M100.2 61.6h0M101.4 64.4h0M101.3 57.9h0M101.1 61.4h0M99.5 65.2h0M104.1 67.5h0M99.7 67.6h0M106.1 68.4h0M106.9 63.9h0M101.0 67.3h0M96.4 65.1h0M99.6 63.1h0M95.0 61.3h0M101.5 67.5h0M105.4 64.1h0M100.9 61.5h0M103.2 63.5h0M103.9 70.5h0M101.5 59.2h0M98.4 59.3h0M97.1 68.9h0M102.5 59.1h0M104.1 68.8h0M100.3 62.1h0M100.3 65.4h0M104.1 68.5h0M106.2 68.5h0M109.3 69.2h0M96.2 63.7h0M104.5 61.9h0M107.2 62.1h0M99.0 74.6h0M106.1 66.1h0M107.3 72.0h0M104.7 47.5h0M100.1 61.4h0M98.7 66.0h0M108.5 61.2h0M101.1 56.0h0M104.2 67.6h0M100.0 70.1h0M100.9 58.2h0M103.9 70.0h0M100.3 66.9h0M99.9 74.2h0M102.9 63.7h0M106.4 70.8h0M108.8 66.9h0M100.4 60.9h0M105.4 68.6h0M109.4 67.5h0M107.9 75.1h0M103.9 54.3h0M97.8 54.6h0M110.3 58.7h0M108.7 68.7h0M110.8 71.6h0M102.7 63.2h0M103.5 65.8h0M100.7 64.4h0M104.3 58.3h0M104.0 70.4h0M102.9 70.0h0M96.0 72.3h0M100.4 68.9h0M103.9 46.6h0M99.7 66.1h0M110.1 66.6h0M104.3 54.8h0M109.6 77.2h0M103.3 63.1h0M95.8 70.7h0M108.8 68.4h0M98.7 73.9h0M97.6 63.1h0M104.4 70.7h0M105.0 67.3h0M99.7 55.6h0M109.1 56.4h0M75.3 55.1h0M84.7 59.1h0M104.6 45.4h0M83.0 61.3h0M107.9 67.0h0M95.0 67.5h0M86.1 67.8h0M88.5 59.7h0M94.5 70.6h0M80.4 64.1h0M106.1 75.1h0M74.8 69.2h0M102.9 72.2h0M101.2 70.9h0M104.8 63.5h0M99.7 73.9h0M107.5 46.0h0M94.2 70.2h0M96.9 73.4h0M108.4 65.2h0M86.4 72.5h0M82.4 58.8h0M78.2 67.3h0M79.4 72.0h0M87.7 63.7h0M108.7 72.9h0M90.3 60.5h0M110.3 75.1h0M107.4 58.6h0M100.2 65.7h0M85.4 74.2h0M80.3 69.2h0M108.5 50.2h0M105.4 54.4h0M93.9 57.4h0M96.1 74.5h0M79.8 59.7h0M95.0 68.5h0M90.8 71.7h0M95.6 76.1h0M76.2 70.2h0M92.0 52.7h0M104.6 50.6h0M105.0 69.5h0M78.8 60.7h0M95.0 68.2h0M106.5 59.3h0M81.8 72.9h0M94.2 62.8h0M105.7 69.4h0M92.5 74.9h0M87.8 77.2h0M81.4 73.1h0M85.1 63.1h0M108.2 57.1h0M81.1 71.0h0M105.3 64.1h0M109.5 52.7h0M82.8 71.3h0M90.1 59.9h0M89.6 67.7h0M88.2 59.4h0M80.1 62.9h0M81.4 71.7h0M109.5 58.3h0M77.5 60.2h0M106.1 75.5h0M100.0 65.7h0M100.0 74.2h0M79.0 65.6h0M77.3 72.9h0M99.0 61.6h0M89.8 64.1h0M83.5 70.8h0M98.8 49.8h0M102.4 64.6h0M103.6 77.1h0M107.3 78.0h0M108.4 78.2h0"/>
<rect x="172.1" y="10.9" width="2" height="1.4" fill="#1f77b4" fill-opacity="0.75"/>
<text x="177.5" y="12.3" class="lg" text-anchor="middle">0</text>
<rect x="172.1" y="13.4" width="2" height="1.4" fill="#ff7f0e" fill-opacity="0.75"/>
<text x="177.5" y="14.9" class="lg" text-anchor="middle">1</text>
<rect x="172.1" y="16.0" width="2" height="1.4" fill="#2ca02c" fill-opacity="0.75"/>
<text x="177.5" y="17.4" class="lg" text-anchor="middle">2</text>
<rect x="172.1" y="18.6" width="2" height="1.4" fill="#d62728" fill-opacity="0.75"/>
<text x="177.5" y="20.0" class="lg" text-anchor="middle">3</text>
<rect x="172.1" y="21.1" width="2" height="1.4" fill="#9467bd" fill-opacity="0.75"/>
<text x="177.5" y="22.5" class="lg" text-anchor="middle">4</text>
<rect x="172.1" y="23.7" width="2" height="1.4" fill="#8c564b" fill-opacity="0.75"/>
<text x="177.5" y="25.1" class="lg" text-anchor="middle">5</text>
<rect x="172.1" y="26.2" width="2" height="1.4" fill="#e377c2" fill-opacity="0.75"/>
<text x="177.5" y="27.6" class="lg" text-anchor="middle">6</text>
<rect x="172.1" y="28.7" width="2" height="1.4" fill="#7f7f7f" fill-opacity="0.75"/>
<text x="177.5" y="30.2" class="lg" text-anchor="middle">7</text>
</g>
<g id="pb">
<rect x="194.5" y="8.5" width="166" height="141" fill="none" stroke="#c2c2c2" stroke-width="1"/>
<line x1="211.5" y1="150" x2="211.5" y2="151" stroke="#999" stroke-width="0.6"/>
<text x="211.5" y="152.3" class="tk" text-anchor="middle">−20</text>
<line x1="237.0" y1="150" x2="237.0" y2="151" stroke="#999" stroke-width="0.6"/>
<text x="237.0" y="152.3" class="tk" text-anchor="middle">−10</text>
<line x1="262.5" y1="150" x2="262.5" y2="151" stroke="#999" stroke-width="0.6"/>
<text x="262.5" y="152.3" class="tk" text-anchor="middle">0</text>
<line x1="288.0" y1="150" x2="288.0" y2="151" stroke="#999" stroke-width="0.6"/>
<text x="288.0" y="152.3" class="tk" text-anchor="middle">10</text>
<line x1="313.5" y1="150" x2="313.5" y2="151" stroke="#999" stroke-width="0.6"/>
<text x="313.5" y="152.3" class="tk" text-anchor="middle">20</text>
<line x1="339.0" y1="150" x2="339.0" y2="151" stroke="#999" stroke-width="0.6"/>
<text x="339.0" y="152.3" class="tk" text-anchor="middle">30</text>
<line x1="193" y1="31.7" x2="194" y2="31.7" stroke="#999" stroke-width="0.6"/>
<text x="192.7" y="32.4" class="tk" text-anchor="end">20</text>
<line x1="193" y1="59.6" x2="194" y2="59.6" stroke="#999" stroke-width="0.6"/>
<text x="192.7" y="60.3" class="tk" text-anchor="end">10</text>
<line x1="193" y1="87.5" x2="194" y2="87.5" stroke="#999" stroke-width="0.6"/>
<text x="192.7" y="88.2" class="tk" text-anchor="end">0</text>
<line x1="193" y1="115.4" x2="194" y2="115.4" stroke="#999" stroke-width="0.6"/>
<text x="192.7" y="116.1" class="tk" text-anchor="end">−10</text>
<line x1="193" y1="143.3" x2="194" y2="143.3" stroke="#999" stroke-width="0.6"/>
<text x="192.7" y="144.0" class="tk" text-anchor="end">−20</text>
<path stroke="#1f77b4" stroke-width="1.3" stroke-linecap="square" d="M212.8 100.3h0M214.5 102.2h0M213.6 102.1h0M211.2 100.5h0M212.4 101.3h0M213.6 102.4h0M209.6 102.6h0M209.6 101.2h0M212.2 98.3h0M213.2 102.7h0M212.6 101.6h0M212.0 100.5h0M212.3 101.3h0M213.2 100.0h0M213.6 102.7h0M212.6 101.6h0M214.4 99.1h0M214.1 102.9h0M213.7 103.2h0M211.3 101.9h0M214.6 103.3h0M213.5 99.4h0M214.3 104.8h0M215.5 102.9h0M209.1 104.3h0M212.6 97.4h0M213.9 99.4h0M209.7 101.2h0M216.2 101.7h0M213.7 105.9h0M217.0 102.2h0M212.4 99.9h0M211.2 103.3h0M214.0 102.7h0M215.5 100.9h0M215.4 110.1h0M216.2 110.8h0M216.0 108.0h0M215.9 106.6h0M213.5 109.8h0M215.4 109.3h0M213.4 107.9h0M214.8 106.9h0M212.8 108.0h0M216.6 109.4h0M205.4 129.4h0M210.5 120.1h0M207.2 131.3h0M210.3 135.3h0M212.0 130.5h0M208.8 132.2h0M205.6 129.3h0M211.1 136.1h0M207.1 129.3h0M208.4 134.0h0M207.5 134.5h0M204.0 128.8h0M206.9 132.1h0M211.6 124.3h0M204.2 130.6h0M205.1 124.3h0M211.6 131.2h0M209.5 127.9h0M211.6 128.7h0M211.8 126.4h0M204.4 130.2h0M205.0 131.8h0M208.7 126.3h0M207.9 128.3h0M211.2 127.3h0M206.0 133.6h0M216.2 136.3h0M207.9 130.2h0M213.5 129.0h0M203.9 129.9h0M209.4 126.6h0M201.4 124.6h0M210.2 126.9h0M207.1 130.2h0M210.0 128.3h0M209.6 126.4h0M206.3 126.0h0M212.0 129.4h0M204.8 128.3h0M206.8 131.9h0M201.6 125.9h0M206.2 138.1h0M211.3 129.1h0M210.4 136.5h0M206.8 128.2h0M212.3 131.2h0M210.2 127.7h0M215.0 135.3h0M209.8 131.8h0M206.9 130.9h0M210.3 128.3h0M204.8 128.3h0M205.4 128.3h0M208.6 133.3h0M215.2 129.5h0M203.1 127.8h0M208.0 122.7h0M209.0 124.3h0M208.8 129.1h0M206.5 129.2h0M205.6 127.4h0M214.7 136.2h0M212.7 131.9h0M205.1 134.4h0M207.4 129.2h0M206.5 129.8h0M206.0 129.2h0M203.5 128.2h0M216.4 129.2h0M206.7 131.3h0M210.4 125.7h0M206.9 132.6h0M208.7 129.9h0M213.6 127.2h0M208.0 127.7h0M213.3 122.8h0M205.1 127.7h0M210.2 131.5h0M213.0 124.1h0M210.5 128.5h0M205.1 131.3h0M204.1 122.4h0M206.2 124.4h0M205.2 130.7h0M208.9 134.9h0M216.2 119.6h0M215.1 120.8h0M214.2 123.5h0M215.3 118.7h0M218.0 122.4h0M217.3 122.9h0M217.9 122.7h0M219.1 123.5h0M217.4 123.5h0M213.7 122.3h0M216.1 123.1h0M213.9 125.9h0M216.8 120.2h0M213.2 122.1h0M216.4 121.2h0M216.8 121.4h0M217.7 121.2h0M216.5 124.6h0M221.8 120.6h0M215.7 121.0h0M218.2 120.4h0M215.6 122.6h0M229.5 116.8h0M230.2 115.4h0M228.8 117.5h0M231.1 117.7h0M228.4 117.4h0M232.0 118.6h0M230.8 116.9h0M231.8 117.3h0M229.2 117.0h0M232.9 118.2h0M232.5 117.4h0M232.2 117.2h0M230.6 120.9h0M231.9 117.4h0M230.7 118.3h0M233.2 133.0h0M229.7 133.2h0M231.8 133.7h0M233.4 134.0h0M232.7 132.3h0M232.8 136.1h0M232.7 133.9h0M232.0 135.7h0M230.7 133.4h0M232.3 134.5h0M231.2 133.9h0M231.4 133.7h0M221.3 131.8h0M221.4 133.4h0M220.6 132.5h0M222.0 131.8h0M221.6 131.8h0M222.3 134.5h0M222.2 140.1h0M221.2 140.4h0M220.7 141.8h0M219.6 141.3h0M220.6 141.7h0M220.8 139.6h0M220.3 116.4h0M208.7 130.0h0M226.9 113.3h0M208.1 131.2h0M228.5 104.0h0M206.9 109.1h0M227.4 139.0h0M233.1 138.3h0M204.3 115.3h0M215.4 101.4h0M217.2 130.5h0M226.5 116.0h0M208.0 120.9h0M220.4 124.8h0M219.1 100.4h0M213.4 97.1h0M227.1 102.8h0M207.9 128.4h0M212.9 115.8h0M211.7 130.8h0M223.1 108.6h0M226.8 133.6h0M225.3 123.4h0M209.5 101.4h0M213.9 125.7h0M223.2 135.4h0M212.8 131.3h0M213.3 104.8h0M228.0 133.6h0M211.3 129.7h0M230.0 130.7h0M217.7 108.5h0M228.4 133.3h0M221.0 107.4h0M225.2 132.7h0M235.6 107.2h0M221.0 126.4h0M212.6 116.0h0M222.8 127.3h0M218.5 136.8h0M230.8 133.3h0M206.5 134.3h0M231.0 119.6h0M219.0 102.1h0M212.2 128.1h0M231.0 120.5h0M214.7 105.4h0M210.9 120.2h0M213.5 122.5h0M212.9 133.4h0M211.1 134.7h0M214.5 128.9h0M208.8 95.6h0M219.0 127.6h0M212.3 107.7h0M211.5 122.4h0M213.8 107.4h0M233.5 134.0h0M213.2 131.6h0M218.8 115.5h0M206.3 129.9h0M202.5 125.2h0M235.4 129.6h0M207.4 132.7h0M220.4 121.9h0M215.3 110.2h0M232.2 134.0h0M228.0 109.1h0M225.2 110.8h0M203.5 126.3h0M208.3 136.6h0M208.5 126.4h0M230.8 122.9h0M216.4 131.3h0M204.2 111.6h0M209.3 120.1h0M215.4 120.3h0M206.4 122.8h0M235.4 119.2h0M233.3 134.8h0M216.1 106.7h0M210.4 130.7h0M215.0 97.7h0M210.8 129.8h0M223.7 137.4h0M210.7 134.6h0M209.0 96.9h0M232.6 115.5h0M213.6 115.8h0M213.1 119.8h0M221.7 122.1h0M211.9 118.8h0M209.5 118.2h0M219.4 121.1h0M209.9 122.5h0M208.5 110.8h0M211.9 121.7h0M215.2 122.9h0M218.8 123.0h0M220.7 123.8h0M212.5 113.3h0M218.2 117.8h0M220.6 122.3h0M213.0 108.6h0M220.0 119.9h0M212.5 107.3h0M208.4 111.1h0M212.5 110.3h0M208.9 109.6h0M213.7 108.0h0M211.4 114.9h0M221.7 123.6h0M214.6 108.7h0M212.4 119.7h0M214.6 117.6h0M219.9 119.3h0M212.8 106.8h0M216.4 118.5h0"/>
<path stroke="#ff7f0e" stroke-width="1.3" stroke-linecap="square" d="M244.2 123.9h0M243.7 123.5h0M242.6 119.0h0M245.3 123.9h0M243.9 122.8h0M245.6 121.9h0M242.3 122.3h0M245.9 120.3h0M245.9 121.6h0M241.5 124.8h0M243.4 120.4h0M242.9 124.2h0M245.9 121.9h0M244.4 123.9h0M242.4 123.3h0M243.6 121.7h0M242.7 122.8h0M243.7 121.7h0M242.8 124.6h0M244.0 124.2h0M245.9 123.7h0M248.0 121.3h0M245.2 122.1h0M247.2 125.6h0M239.9 121.0h0M244.9 124.0h0M262.3 113.4h0M264.6 114.5h0M266.2 113.4h0M271.5 118.6h0M272.9 117.6h0M271.8 117.9h0M271.2 117.2h0M271.8 116.8h0M256.0 119.5h0M255.1 118.2h0M254.2 121.7h0M254.3 121.3h0M256.6 119.0h0M254.5 120.7h0M258.0 118.3h0M255.5 120.7h0M256.3 121.9h0M255.2 120.1h0M254.4 122.0h0M255.0 116.8h0M267.7 130.1h0M271.8 129.6h0M267.9 131.7h0M271.1 130.2h0M270.0 131.5h0M267.3 130.5h0M268.0 128.4h0M270.4 127.3h0M270.3 132.5h0M267.7 128.7h0M267.5 131.4h0M269.4 131.0h0M269.9 129.1h0M268.4 126.9h0M269.5 130.7h0M267.1 132.9h0M269.3 124.2h0M268.0 127.2h0M270.1 135.9h0M266.9 130.5h0M270.2 138.2h0M271.7 140.1h0M269.0 140.6h0M269.1 138.0h0M272.6 138.9h0M269.0 136.1h0M269.9 137.4h0M272.6 134.9h0M271.4 138.7h0M271.6 138.4h0M273.2 138.5h0M272.1 138.6h0M273.7 133.7h0M272.8 137.0h0M270.2 135.5h0M267.5 136.7h0M269.5 138.5h0M268.1 140.4h0M271.1 137.0h0M269.4 135.9h0M268.7 136.4h0M270.7 137.1h0M268.2 137.0h0M269.1 137.8h0M273.8 138.7h0M270.1 134.2h0M268.2 134.1h0M271.9 136.0h0M270.8 136.2h0M270.8 140.3h0M269.5 136.8h0M269.3 139.2h0M268.9 135.2h0M268.3 134.7h0M271.4 142.6h0M268.9 139.4h0M271.1 135.3h0M270.2 137.0h0M269.5 141.3h0M267.4 138.2h0M255.3 133.9h0M256.2 135.2h0M255.9 134.8h0M254.5 132.5h0M257.4 136.2h0M260.0 114.5h0M246.7 122.2h0M245.3 118.9h0M269.5 114.3h0M248.7 120.0h0M241.6 125.6h0M247.3 118.6h0M269.5 114.9h0M247.4 116.4h0M253.4 118.5h0M247.1 119.2h0M249.1 113.7h0M241.1 114.7h0M262.1 118.6h0M244.4 122.7h0M243.4 125.1h0M250.4 116.3h0M255.4 117.3h0M251.7 119.4h0M242.1 124.6h0M242.4 120.5h0M261.1 119.4h0M266.8 113.2h0M264.8 116.1h0M248.1 116.3h0M275.9 113.4h0M274.5 116.9h0M273.5 115.6h0M273.3 114.9h0M272.4 117.0h0"/>
<path stroke="#2ca02c" stroke-width="1.3" stroke-linecap="square" d="M219.7 64.5h0M218.7 64.9h0M233.3 57.1h0M232.5 57.3h0M233.3 58.3h0M233.1 57.4h0M232.5 58.4h0M233.2 59.0h0M231.7 57.8h0M231.3 55.8h0M234.9 58.4h0M233.0 58.5h0M230.4 54.1h0M232.7 57.2h0M231.6 56.1h0M232.3 57.3h0M219.5 82.9h0M215.4 86.3h0M213.5 80.8h0M209.2 86.5h0M218.7 84.6h0M217.7 82.2h0M216.1 81.2h0M214.7 82.1h0M220.6 83.5h0M215.2 80.2h0M213.2 86.6h0M217.1 82.1h0M214.2 78.7h0M215.2 84.4h0M214.1 81.2h0M214.6 82.2h0M210.0 81.2h0M212.5 84.5h0M212.8 83.6h0M220.6 81.0h0M213.3 82.5h0M215.4 79.0h0M217.0 87.8h0M214.5 81.3h0M211.8 82.8h0M211.1 78.7h0M219.8 79.3h0M219.1 86.3h0M216.3 83.5h0M222.1 81.3h0M213.4 78.0h0M215.5 86.2h0M218.7 79.2h0M212.5 80.4h0M216.4 81.3h0M216.1 82.8h0M214.4 81.8h0M216.1 81.7h0M217.1 87.3h0M217.4 82.1h0M209.6 83.0h0M208.7 77.8h0M218.3 84.0h0M214.9 76.9h0M214.1 79.9h0M217.6 88.5h0M216.1 79.6h0M211.4 81.7h0M214.8 78.6h0M215.8 78.6h0M219.2 85.0h0M219.1 80.5h0M217.2 81.5h0M214.1 80.9h0M211.0 77.7h0M218.1 81.3h0M216.1 84.8h0M209.5 79.6h0M216.0 83.0h0M214.1 84.9h0M216.1 78.4h0M212.2 84.2h0M217.0 76.4h0M220.0 83.6h0M220.0 80.8h0M214.4 78.6h0M224.1 81.4h0M220.8 80.0h0M216.0 77.1h0M214.1 84.8h0M211.1 85.0h0M216.5 78.9h0M213.7 80.6h0M215.2 80.3h0M212.6 81.0h0M228.1 70.7h0M230.1 75.1h0M227.1 73.3h0M228.9 71.3h0M231.9 72.3h0M233.2 71.7h0M230.9 72.8h0M228.6 74.5h0M229.8 74.5h0M230.1 71.1h0M230.0 73.4h0M232.1 71.5h0M230.1 69.8h0M231.5 71.1h0M226.5 73.2h0M232.4 70.2h0M228.0 71.8h0M227.9 74.1h0M228.5 71.8h0M231.3 71.8h0M231.0 71.3h0M227.7 69.6h0M233.9 72.7h0M230.7 73.2h0M230.5 73.4h0M234.0 71.2h0M227.0 71.3h0M227.5 74.8h0M231.8 74.7h0M231.4 77.9h0M228.0 68.2h0M231.3 74.5h0M231.7 74.2h0M229.7 73.5h0M235.8 83.4h0M233.1 76.5h0M228.3 72.6h0M233.0 78.4h0M233.1 78.0h0M232.3 78.7h0M236.3 82.6h0M234.6 76.8h0M232.6 78.5h0M231.2 76.2h0M240.5 107.0h0M244.8 99.9h0M242.1 101.5h0M241.2 101.8h0M244.1 100.0h0M245.5 97.8h0M242.5 90.2h0M244.5 89.2h0M241.2 91.8h0M242.3 92.3h0M243.0 91.9h0M244.1 89.5h0M242.6 91.3h0M242.8 92.4h0M241.4 91.3h0M243.7 92.5h0M241.7 94.6h0M245.6 90.4h0M243.0 95.1h0M243.6 92.4h0M242.3 91.5h0M242.3 91.5h0M255.0 54.5h0M243.7 90.6h0M227.7 84.3h0M248.3 69.8h0M239.9 87.3h0M248.6 66.1h0M239.6 85.5h0M245.5 93.3h0M219.2 82.1h0M224.1 94.7h0M232.3 84.7h0M254.5 68.7h0M245.7 88.5h0M241.6 69.1h0M226.7 84.7h0M239.2 74.8h0M222.9 73.6h0M249.9 68.2h0M233.5 65.2h0M214.3 94.8h0M218.6 93.5h0M213.6 86.7h0M225.5 81.5h0M209.5 84.0h0M233.3 97.6h0M233.9 72.2h0M249.7 77.9h0M211.5 85.5h0M236.7 81.7h0M215.6 94.6h0M240.2 100.1h0M230.0 80.3h0M221.8 71.8h0M228.4 97.0h0M231.4 89.5h0M220.8 90.7h0M232.9 68.9h0M242.9 102.9h0M230.3 67.1h0M240.6 78.1h0M249.4 71.6h0M233.3 65.5h0M226.4 97.2h0M216.9 77.4h0M222.7 92.6h0M230.8 95.7h0M216.9 82.9h0M239.5 86.4h0M212.1 83.6h0M212.6 90.1h0M221.1 77.6h0M243.3 104.4h0M246.0 93.4h0M248.5 67.6h0M222.0 76.4h0M236.2 71.6h0M213.8 94.7h0M242.3 103.6h0M247.0 81.7h0M234.5 74.6h0M239.8 83.6h0M216.0 86.2h0M247.9 60.8h0M237.1 95.9h0M224.7 87.8h0M247.4 68.5h0M237.1 83.4h0M216.7 74.5h0M242.6 94.3h0M250.3 80.0h0M215.0 91.9h0M235.8 75.9h0M235.3 84.7h0M238.6 87.2h0M238.4 75.0h0M244.4 74.6h0M231.3 91.1h0M238.9 92.1h0M226.7 70.6h0M243.7 77.6h0M222.5 88.9h0M240.4 66.9h0M219.8 89.7h0M245.2 96.1h0M209.9 95.5h0M232.1 67.3h0M238.6 93.3h0M217.6 97.8h0M242.2 81.8h0M232.8 77.2h0M220.6 74.9h0M211.2 80.2h0M213.1 78.8h0M245.6 60.1h0M242.3 66.2h0M219.3 94.8h0M225.0 77.9h0M240.9 74.0h0M217.9 88.6h0M239.6 108.3h0M236.8 86.4h0M237.4 101.8h0M230.7 66.6h0M247.0 88.0h0M234.8 100.7h0M237.4 94.4h0M244.5 89.1h0M228.0 85.6h0M236.8 80.3h0M225.8 70.1h0M230.1 85.5h0M209.0 77.5h0M226.3 69.7h0M234.2 94.8h0M228.9 77.2h0M248.1 78.7h0M238.0 82.2h0M221.5 94.4h0M257.2 59.7h0M234.8 82.0h0M211.5 93.0h0M232.1 83.7h0M217.3 82.4h0M236.2 69.0h0M243.0 96.5h0M242.8 73.0h0M237.8 69.5h0M232.8 70.8h0M223.6 95.6h0M238.9 76.8h0M232.0 95.7h0M229.6 72.8h0M222.0 72.8h0M246.3 90.7h0"/>
<path stroke="#d62728" stroke-width="1.3" stroke-linecap="square" d="M250.1 104.7h0M249.2 107.0h0M247.5 108.2h0M244.4 108.0h0M247.0 102.1h0M248.9 102.0h0M247.7 106.5h0M251.0 104.5h0M251.1 105.0h0M247.4 106.8h0M251.1 103.8h0M247.0 104.4h0M248.0 102.1h0M251.0 103.7h0M249.2 102.3h0M248.9 106.2h0M246.4 111.4h0M248.9 110.6h0M250.8 102.8h0M246.5 106.3h0M247.9 105.1h0M246.8 99.1h0M247.0 97.8h0M248.9 102.6h0M245.4 104.2h0M248.6 100.3h0M252.9 101.6h0M249.8 100.5h0M248.7 103.9h0M247.5 106.8h0M253.4 105.6h0M248.1 101.8h0M249.6 104.1h0M250.4 104.8h0M253.3 98.6h0M246.8 107.8h0M246.6 102.4h0M246.9 100.5h0M248.1 112.8h0M251.4 101.4h0M244.9 103.6h0M251.0 102.3h0M245.5 107.8h0M250.5 103.7h0M250.2 102.9h0M249.3 110.9h0M251.5 101.2h0M250.5 108.6h0M245.3 101.9h0M271.0 106.3h0M269.5 98.4h0M269.0 106.2h0M272.1 107.4h0M261.7 92.4h0M266.6 97.7h0M263.8 97.0h0M263.6 93.3h0M266.3 93.1h0M265.3 94.7h0M273.2 110.7h0M268.0 97.4h0M263.4 92.7h0M266.6 99.5h0M265.3 111.9h0M267.7 112.6h0M264.2 112.6h0M263.9 111.5h0M265.6 111.8h0M265.8 113.0h0M266.9 112.4h0M267.4 111.3h0M264.8 110.8h0M269.3 108.7h0M254.3 108.9h0M252.6 112.3h0M263.4 100.3h0M262.6 87.5h0M251.8 81.7h0M263.3 88.3h0M258.6 103.1h0M254.7 96.5h0M264.1 100.1h0M267.1 112.9h0M258.0 102.3h0M259.8 109.9h0M254.6 113.2h0M247.2 107.9h0M254.6 104.9h0M254.0 79.4h0M268.5 103.9h0M270.9 109.5h0M255.8 92.2h0M252.6 79.0h0M253.3 112.9h0M270.9 101.9h0M256.8 77.5h0M265.0 110.5h0M265.0 104.6h0M247.8 93.1h0M254.2 88.6h0M251.9 112.0h0M254.7 91.0h0M264.2 109.1h0M247.0 111.0h0M251.9 109.0h0M251.6 91.9h0M251.5 103.6h0M256.0 106.4h0M252.2 85.6h0M257.9 66.8h0M251.8 89.5h0M269.1 106.3h0M253.6 110.7h0M265.8 112.6h0M251.5 90.4h0M248.3 112.3h0M267.8 102.8h0M267.9 101.0h0M265.3 95.6h0M251.5 88.5h0M268.2 109.3h0M253.9 104.4h0M255.9 69.7h0M250.4 112.8h0M251.6 81.2h0M259.4 110.1h0M258.2 78.0h0M258.4 60.2h0M252.2 89.7h0M244.3 106.7h0M244.4 107.3h0M265.8 112.9h0M269.4 109.2h0M265.9 100.3h0M256.2 102.6h0M267.1 104.1h0M255.7 110.6h0M251.1 91.7h0M264.4 95.5h0M249.6 95.4h0M259.1 96.5h0M253.5 79.1h0M259.7 101.9h0M245.8 111.9h0M255.2 109.2h0M259.8 87.2h0M259.4 109.2h0M252.8 99.3h0M252.6 76.9h0M264.9 101.4h0M254.6 82.5h0M258.7 65.1h0M256.9 72.4h0M269.3 104.4h0M255.8 103.4h0M271.5 111.7h0M246.5 105.8h0M249.6 112.6h0M258.9 95.2h0M264.1 93.1h0M263.0 99.0h0M267.0 94.6h0M262.8 106.0h0M267.5 97.3h0M264.3 99.9h0M267.4 97.2h0M265.6 93.5h0M260.6 101.6h0M266.7 103.0h0M265.7 109.4h0M263.5 106.9h0M264.4 103.8h0M267.5 101.6h0M269.3 103.4h0M260.6 93.2h0M266.1 96.4h0M271.6 109.9h0M267.0 97.9h0M266.0 92.6h0M261.0 93.0h0M265.5 109.9h0M262.0 102.0h0M263.2 92.8h0M261.9 106.8h0M263.9 95.7h0M265.8 108.9h0M272.1 112.2h0"/>
<path stroke="#9467bd" stroke-width="1.3" stroke-linecap="square" d="M342.7 121.8h0M341.1 121.2h0M341.0 122.3h0M340.2 121.9h0M344.1 121.6h0M339.7 121.8h0M343.1 123.4h0M341.8 121.9h0M340.6 122.8h0M339.9 123.1h0M343.4 122.3h0M342.2 122.7h0M343.6 121.7h0M343.0 122.1h0M340.1 122.3h0M340.9 121.7h0M338.9 121.7h0M343.5 123.3h0M342.2 122.9h0M340.5 122.2h0M341.7 121.7h0M339.8 122.3h0M340.8 121.7h0M341.8 122.1h0M342.8 122.3h0M340.8 122.3h0M341.0 121.9h0M340.7 122.7h0M342.2 123.0h0M338.7 122.0h0M340.6 122.4h0M340.6 122.0h0M342.4 122.4h0M339.5 123.0h0M338.8 112.0h0M338.3 111.8h0M338.3 112.5h0M338.4 112.1h0M338.3 110.7h0M338.8 111.0h0M338.2 118.8h0M337.4 118.4h0"/>
<path stroke="#8c564b" stroke-width="1.3" stroke-linecap="square" d="M350.4 117.1h0M350.0 117.3h0M350.9 117.1h0M347.7 120.6h0M348.3 120.9h0M349.6 119.1h0M345.3 117.8h0M347.8 117.8h0M350.6 119.7h0M349.4 118.6h0M348.9 119.6h0M348.0 120.0h0M348.9 121.9h0M350.1 120.1h0M349.0 119.9h0M349.4 120.0h0M350.8 118.0h0M347.6 120.0h0M351.6 116.1h0M350.1 120.9h0M351.4 117.7h0M350.7 121.8h0M350.4 119.0h0M347.8 118.7h0M347.6 122.1h0M349.7 118.5h0M346.3 120.5h0M347.6 118.9h0M351.7 118.5h0M354.4 114.8h0M347.6 119.8h0M343.4 125.3h0M349.8 120.4h0M350.7 118.6h0M350.2 119.4h0M350.6 115.9h0M347.4 119.2h0M352.9 117.3h0M349.5 117.1h0M349.4 118.9h0M349.3 119.1h0M349.8 118.1h0M345.0 114.1h0M344.8 114.6h0"/>
<path stroke="#e377c2" stroke-width="1.3" stroke-linecap="square" d="M292.8 90.7h0M291.8 90.4h0M264.7 62.5h0M262.9 61.3h0M263.5 61.7h0M263.3 64.6h0M264.2 63.8h0M264.1 63.2h0M263.4 62.6h0M264.8 61.4h0M265.6 63.1h0M262.5 62.3h0M262.6 63.3h0M262.5 64.8h0M262.4 59.7h0M262.5 60.1h0M263.6 64.7h0M264.6 61.1h0M262.5 65.7h0M264.1 63.1h0M285.4 72.5h0M279.5 67.1h0M276.8 68.5h0M278.7 74.2h0M277.8 78.3h0M279.7 69.6h0M282.5 83.9h0M279.7 73.8h0M287.7 74.7h0M282.6 69.5h0M275.7 71.8h0M280.2 68.4h0M289.4 76.7h0M275.6 70.3h0M278.4 73.4h0M276.6 88.1h0M271.7 91.6h0M273.8 86.7h0M272.6 87.5h0M274.1 89.5h0M276.1 90.8h0M269.8 90.2h0M275.5 90.3h0M275.8 87.9h0M271.3 91.4h0M271.0 84.2h0M275.8 87.5h0M272.7 86.0h0M270.4 86.6h0M272.6 90.1h0M268.1 90.9h0M270.7 86.8h0M275.0 89.0h0M269.9 93.5h0M271.5 89.8h0M273.9 92.5h0M272.4 91.5h0M271.7 91.8h0M271.7 88.4h0M277.8 89.9h0M273.7 94.4h0M274.3 87.3h0M275.2 86.5h0M276.1 92.0h0M272.1 87.8h0M273.9 89.2h0M271.2 90.5h0M268.7 88.2h0M272.5 88.6h0M274.2 86.4h0M274.8 88.8h0M272.0 86.1h0M270.7 90.0h0M271.2 89.4h0M275.9 91.6h0M277.1 88.5h0M270.9 91.6h0M274.2 91.8h0M273.5 92.0h0M275.4 90.9h0M275.1 95.7h0M273.6 94.6h0M277.8 89.8h0M281.9 92.4h0M277.8 92.5h0M270.6 84.8h0M268.4 91.1h0M284.3 94.5h0M277.5 86.6h0M274.3 97.5h0M282.3 88.6h0M275.7 95.1h0M266.7 93.0h0M270.9 78.0h0M275.7 96.6h0M269.9 84.4h0M280.5 94.9h0M278.0 102.3h0M271.0 92.7h0M271.9 93.1h0M278.5 93.9h0M271.5 91.3h0M274.2 87.3h0M269.6 92.8h0M269.2 92.3h0M279.7 96.0h0M274.1 92.6h0M274.0 95.1h0M280.1 93.0h0M284.0 87.4h0M276.2 86.6h0M282.4 91.0h0M272.0 99.1h0M279.3 85.9h0M270.4 84.0h0M273.1 92.5h0M270.4 88.7h0M270.2 88.3h0M275.3 103.0h0M270.0 96.3h0M267.1 92.2h0M272.9 92.1h0M274.4 91.5h0M273.9 92.1h0M277.8 101.1h0M266.3 88.0h0M280.9 102.4h0M268.3 85.4h0M268.8 89.9h0M265.3 85.2h0M277.4 88.7h0M272.0 97.2h0M276.8 90.9h0M272.6 87.7h0M282.0 97.4h0M276.3 96.2h0M282.5 102.1h0M269.4 92.5h0M272.9 79.5h0M268.6 93.9h0M265.4 87.5h0M270.3 95.3h0M271.4 87.3h0M276.7 89.6h0M269.6 84.1h0M276.3 90.7h0M273.7 85.9h0M279.6 100.3h0M273.7 81.7h0M281.8 95.1h0M279.2 89.2h0M271.3 93.1h0M274.7 83.2h0M277.5 101.7h0M266.0 84.3h0M274.3 88.9h0M294.0 81.4h0M264.4 58.6h0M262.7 60.7h0M273.9 81.2h0M273.8 83.4h0M274.8 108.2h0M274.7 67.0h0M265.8 67.4h0M275.4 104.8h0M268.2 59.1h0M274.2 70.1h0M280.0 79.4h0M260.1 63.6h0M285.9 74.7h0M279.8 109.1h0M280.6 96.9h0M282.7 71.8h0M279.6 104.7h0M278.0 97.9h0M281.0 70.5h0M275.8 82.5h0M262.8 81.1h0M282.1 100.6h0M267.8 82.8h0M279.5 73.5h0M285.6 90.6h0M272.5 100.0h0M273.9 69.7h0M276.7 72.9h0M268.1 84.0h0M285.8 84.9h0M266.1 72.1h0M262.1 58.3h0M278.2 85.4h0M274.2 103.9h0M278.8 79.3h0M279.3 110.4h0M270.7 88.2h0M259.1 71.5h0M289.1 80.2h0M267.4 63.2h0M279.2 109.7h0M269.4 77.8h0M261.2 79.2h0M278.5 95.2h0M293.3 79.9h0M284.3 104.1h0M283.6 79.1h0M265.1 73.8h0M260.0 68.7h0M273.6 82.6h0M275.9 74.1h0M269.4 79.9h0M259.4 59.1h0M274.7 68.0h0M270.5 71.3h0M275.3 75.6h0M277.8 108.0h0M286.6 83.1h0M274.7 67.7h0M273.6 85.2h0M274.2 82.5h0M270.1 83.9h0M270.6 81.8h0M260.4 77.3h0M285.3 84.5h0M281.7 88.6h0M261.5 72.5h0M266.4 85.3h0M272.2 74.4h0M264.6 88.3h0M275.9 93.0h0M267.5 76.8h0M261.1 72.6h0M264.8 62.6h0M284.2 90.4h0M272.6 85.8h0M260.8 70.5h0M262.5 70.8h0M266.6 85.6h0M276.0 112.2h0M283.8 103.0h0M269.3 67.2h0M267.9 58.9h0M283.4 82.8h0M259.8 62.3h0M261.1 71.3h0M285.9 75.1h0M279.7 73.7h0M283.2 97.9h0M269.5 63.5h0M278.0 79.4h0M266.3 81.3h0M263.2 70.4h0M286.6 84.6h0M264.8 82.6h0M284.1 79.6h0M283.3 76.7h0M268.1 95.1h0M277.3 98.6h0M272.8 98.8h0M278.1 107.9h0M270.1 95.1h0M274.8 93.8h0M278.2 96.4h0M276.7 107.0h0M277.8 96.7h0M275.3 94.4h0M277.3 95.6h0M275.2 97.6h0M270.1 97.7h0M286.0 89.4h0M283.3 88.3h0M276.9 86.2h0M282.1 105.9h0M283.6 107.4h0M278.3 89.4h0M286.4 97.6h0M281.6 111.6h0M285.3 106.3h0M281.3 91.1h0M283.6 96.7h0M283.0 90.8h0M286.5 89.0h0M274.6 110.1h0M282.1 102.2h0M276.2 94.0h0M275.9 97.4h0M282.1 106.0h0M283.0 94.5h0M277.4 107.0h0M287.0 90.8h0M278.6 92.4h0M287.0 84.6h0M285.8 107.2h0M277.4 104.6h0M277.9 103.2h0M278.8 111.6h0M279.2 108.5h0M281.0 95.3h0M286.9 90.0h0M285.1 102.4h0M278.9 108.9h0M284.0 109.9h0M279.0 103.7h0M274.0 106.2h0M277.7 111.4h0M285.0 96.7h0M275.7 107.6h0M276.5 109.9h0M279.6 112.2h0M276.8 111.9h0M276.9 97.6h0M281.9 100.8h0M282.5 105.0h0M282.4 107.7h0M279.5 105.0h0M286.1 99.9h0M285.8 96.5h0M277.1 110.3h0M275.5 101.8h0M281.5 101.9h0M282.4 103.6h0M275.5 96.3h0M277.6 100.3h0M282.1 110.2h0M283.9 98.4h0M282.6 94.0h0M281.4 100.5h0M281.3 98.0h0M275.7 109.6h0M286.3 101.0h0M283.3 95.1h0M276.7 105.7h0M283.4 106.3h0M289.6 83.5h0M283.0 80.1h0M290.7 94.7h0M285.0 84.1h0M283.5 89.2h0M287.4 79.9h0M292.7 83.1h0M286.7 90.1h0M295.1 81.9h0M287.1 77.5h0M293.4 92.3h0M288.1 85.9h0M284.6 94.5h0M288.2 77.8h0M282.0 83.5h0M283.4 93.4h0M290.2 85.7h0M293.0 91.3h0"/>
<path stroke="#7f7f7f" stroke-width="1.3" stroke-linecap="square" d="M254.7 17.6h0M254.3 16.1h0M254.1 15.9h0M254.7 19.0h0M254.1 16.4h0M255.3 17.7h0M254.8 16.0h0M254.6 18.1h0M253.1 16.6h0M252.4 15.5h0M252.5 16.9h0M253.1 17.6h0M254.9 17.0h0M251.6 16.5h0M254.6 17.4h0M252.8 16.6h0M250.5 23.1h0M252.1 23.1h0M251.2 24.4h0M250.8 23.6h0M251.3 23.8h0M250.3 23.8h0M252.3 22.5h0M251.9 23.8h0M250.7 25.3h0M251.9 22.8h0M251.3 24.2h0M251.1 24.3h0M251.2 24.3h0M252.4 23.2h0M253.7 20.4h0M253.9 19.2h0M252.6 20.5h0M253.9 23.1h0M251.9 19.3h0M254.9 18.2h0M252.7 20.7h0M254.6 22.5h0M253.0 20.3h0M252.3 23.3h0M252.9 20.4h0M253.8 20.9h0M253.5 19.2h0M253.4 20.3h0M254.5 22.4h0M253.0 22.0h0M256.2 25.8h0M256.8 25.8h0M255.5 24.6h0M256.3 22.6h0M257.2 24.4h0M256.1 27.1h0M256.5 24.2h0M257.0 25.8h0M257.0 25.0h0M257.6 26.2h0M255.7 34.1h0M255.4 32.7h0M255.6 32.9h0M256.5 34.1h0M271.6 39.8h0M271.2 36.1h0M269.2 42.3h0M267.2 43.6h0M267.9 43.3h0M269.7 43.4h0M271.7 37.3h0M274.0 45.1h0M271.3 40.6h0M271.1 38.8h0M273.7 39.9h0M271.3 39.3h0M270.2 38.0h0M274.0 40.9h0M273.4 41.4h0M270.1 40.5h0M270.3 41.4h0M270.7 40.6h0M268.7 39.2h0M274.8 39.6h0M269.3 42.2h0M274.3 37.6h0M271.0 39.7h0M267.9 43.3h0M271.4 41.5h0M269.9 42.5h0M270.4 41.0h0M269.2 38.2h0M274.1 40.0h0M272.0 41.3h0M270.6 40.0h0M272.7 40.6h0M271.1 41.4h0M273.8 43.1h0M272.2 39.9h0M268.7 43.8h0M273.4 41.0h0M272.5 43.4h0M273.1 43.7h0M270.5 45.3h0M268.9 43.6h0M272.4 43.6h0M275.2 45.2h0M269.1 36.9h0M273.1 38.7h0M271.4 43.5h0M268.1 35.9h0M272.0 41.5h0M270.5 42.2h0M268.3 36.0h0M270.8 38.2h0M265.6 44.1h0M271.1 43.7h0M267.9 39.4h0M267.8 38.5h0M272.0 38.9h0M272.6 43.4h0M278.5 36.5h0M274.5 41.7h0M271.3 36.2h0M269.7 45.0h0M271.1 42.4h0M284.3 42.6h0M284.4 41.6h0M286.3 64.4h0M282.7 66.0h0M279.1 60.2h0M281.6 60.6h0M281.2 64.2h0M290.3 60.9h0M280.9 63.3h0M283.1 67.5h0M279.5 61.0h0M275.1 60.6h0M283.4 64.0h0M277.5 62.6h0M281.5 65.6h0M279.1 63.0h0M274.5 59.8h0M287.6 56.2h0M280.1 64.6h0M280.0 61.0h0M281.2 63.9h0M281.1 57.3h0M280.8 60.9h0M279.3 64.7h0M283.8 67.0h0M285.9 67.9h0M286.7 63.4h0M280.7 66.8h0M276.2 64.6h0M279.4 62.6h0M274.7 60.8h0M281.3 67.0h0M285.2 63.6h0M280.7 61.0h0M282.9 63.0h0M283.7 70.0h0M281.3 58.6h0M278.1 58.8h0M282.3 58.6h0M283.9 68.3h0M280.0 61.5h0M280.1 64.9h0M283.8 68.0h0M286.0 68.0h0M289.1 68.7h0M276.0 63.2h0M284.3 61.4h0M287.0 61.6h0M285.9 65.6h0M287.1 71.5h0M284.4 46.9h0M279.8 60.9h0M278.5 65.5h0M288.3 60.7h0M280.9 55.4h0M284.0 67.1h0M280.7 57.6h0M283.7 69.5h0M280.0 66.4h0M282.7 63.2h0M286.2 70.3h0M288.6 66.4h0M280.2 60.3h0M285.2 68.2h0M289.2 67.0h0M283.6 53.7h0M277.6 54.0h0M290.1 58.1h0M288.5 68.2h0M290.7 71.1h0M282.4 62.7h0M283.3 65.3h0M280.5 63.9h0M290.2 52.1h0M284.1 57.7h0M283.7 70.0h0M283.7 46.0h0M279.5 65.6h0M289.9 66.1h0M284.1 54.2h0M283.0 62.5h0M295.1 69.1h0M288.6 67.9h0M277.3 62.6h0M284.2 70.3h0M284.8 66.8h0M279.5 55.0h0M306.7 52.4h0M301.2 50.0h0M304.4 47.6h0M301.0 48.5h0M307.1 57.1h0M314.5 49.1h0M303.7 59.2h0M305.5 54.0h0M313.3 53.9h0M301.8 49.8h0M307.8 56.7h0M300.9 51.2h0M308.6 57.8h0M303.8 58.0h0M308.7 47.9h0M305.2 57.1h0M304.1 46.4h0M305.3 58.5h0M312.8 46.2h0M316.9 50.6h0M310.3 60.6h0M310.4 56.0h0M301.7 58.0h0M303.5 44.8h0M317.8 58.3h0M313.7 51.5h0M312.3 62.1h0M312.7 55.3h0M301.6 54.6h0M297.6 48.2h0M306.8 51.2h0M305.7 54.9h0M314.2 60.8h0M306.2 60.5h0M303.3 53.9h0M310.1 50.1h0M305.3 49.8h0M306.9 62.2h0M301.2 57.6h0M300.2 46.9h0M298.1 67.2h0M321.2 59.6h0M301.4 61.4h0M303.9 62.1h0M307.9 58.1h0M309.9 51.3h0M303.4 42.4h0M303.2 44.8h0M305.1 48.4h0M306.7 59.4h0M296.9 49.5h0M299.9 61.7h0M317.0 62.5h0M303.8 67.3h0M296.3 67.6h0M299.4 57.2h0M304.6 56.7h0M296.5 50.5h0M309.0 57.6h0M313.7 56.5h0M321.1 50.3h0M297.9 66.2h0M299.9 60.0h0M305.6 47.7h0M303.8 51.9h0M302.9 61.8h0M310.2 51.4h0M300.2 58.1h0M305.4 63.9h0M305.8 54.5h0M300.5 48.8h0M299.6 52.8h0M303.3 61.7h0M303.4 54.3h0M298.2 68.7h0M309.3 69.8h0M311.1 67.5h0M304.4 61.5h0M313.6 69.1h0M308.7 61.8h0M314.2 50.6h0M308.7 48.9h0M301.6 50.9h0M305.1 57.0h0M309.0 44.5h0M319.0 65.1h0M310.8 53.0h0M305.4 60.3h0M308.7 42.4h0M310.9 79.2h0M293.8 63.8h0M308.4 55.0h0M315.0 46.4h0M307.1 67.6h0M304.7 52.5h0M306.8 52.3h0M316.2 48.6h0M311.8 45.8h0M310.4 55.0h0M288.9 55.8h0M299.0 52.3h0M316.2 46.9h0M299.0 67.4h0M306.8 68.2h0M308.1 48.8h0M305.6 65.7h0M312.2 55.9h0M306.3 55.0h0M302.2 71.4h0M306.1 46.8h0M302.9 61.7h0M310.2 54.8h0M301.6 56.1h0M294.9 45.4h0M311.3 52.0h0M308.5 65.7h0M310.3 56.0h0M320.1 61.2h0M303.7 61.7h0M308.7 49.0h0M306.5 54.5h0M293.0 54.5h0M304.1 52.3h0M295.1 53.0h0M305.7 56.7h0M298.5 60.9h0M298.0 54.1h0M314.6 50.3h0M302.6 64.5h0M303.5 53.5h0M307.5 64.3h0M291.4 49.2h0M299.4 47.2h0M300.4 49.1h0M308.0 48.7h0M306.8 59.1h0M301.2 56.9h0M316.8 58.4h0M301.8 55.3h0M300.0 58.0h0M311.7 49.3h0M304.6 64.8h0M302.7 57.4h0M299.3 49.3h0M302.6 72.9h0M303.4 51.7h0M302.4 54.6h0M310.2 57.3h0M319.2 57.5h0M315.3 58.0h0M309.9 44.6h0M305.2 55.3h0M311.7 52.8h0M303.2 53.9h0M304.5 59.0h0M297.8 48.6h0M307.9 57.0h0M303.6 51.4h0M300.6 55.4h0M313.6 47.6h0M315.8 62.5h0M303.1 62.0h0M296.6 42.3h0M297.7 52.7h0M303.9 51.8h0M309.2 44.8h0M301.8 52.6h0M298.6 45.2h0M299.5 55.8h0M309.8 60.3h0M299.6 49.7h0M300.1 59.4h0M292.9 65.5h0M302.9 49.7h0M308.2 63.9h0M308.2 64.1h0M306.9 65.5h0M314.0 55.1h0M315.3 57.2h0M306.6 48.7h0M304.1 61.9h0M297.6 60.9h0M308.2 58.0h0M291.8 55.1h0M310.2 49.9h0M310.3 50.7h0M311.6 41.5h0M310.5 54.0h0M316.3 65.3h0M314.1 70.1h0M313.8 65.6h0M314.6 65.1h0M316.8 69.3h0M314.0 64.1h0M316.8 68.3h0M316.3 68.4h0M313.7 66.4h0M313.0 64.6h0M316.5 65.7h0M318.5 66.8h0M314.1 67.9h0M317.8 67.4h0M313.2 67.2h0M294.5 42.0h0M298.0 79.5h0M284.4 44.7h0M294.9 75.2h0M287.7 66.4h0M314.6 59.4h0M309.6 65.7h0M301.1 62.5h0M299.1 61.4h0M315.5 47.8h0M307.4 46.2h0M310.2 74.3h0M306.9 72.8h0M310.3 75.6h0M290.0 49.3h0M302.2 50.2h0M318.0 50.9h0M312.9 48.5h0M315.7 49.3h0M294.9 70.8h0M306.5 46.2h0M284.6 63.0h0M311.0 70.7h0M295.7 48.6h0M293.2 50.7h0M300.1 61.6h0M298.8 45.7h0M312.0 65.0h0M306.4 53.2h0M295.2 52.1h0M287.3 45.3h0M317.7 54.9h0M288.2 64.7h0M306.5 77.6h0M310.9 44.6h0M306.1 61.7h0M310.2 61.9h0M306.6 57.7h0M305.5 57.4h0M308.2 59.1h0M311.3 76.1h0M300.3 50.9h0M288.5 72.4h0M293.6 54.7h0M315.2 44.6h0M270.0 60.0h0M296.5 64.6h0M290.1 74.7h0M303.2 78.4h0M298.2 67.5h0M287.2 58.1h0M314.2 68.6h0M310.6 54.9h0M293.6 53.8h0M319.3 50.2h0M305.0 65.2h0M302.9 61.0h0M317.4 51.3h0M280.0 65.2h0M314.1 54.0h0M310.6 57.8h0M291.1 67.7h0M313.8 53.7h0M288.2 49.5h0M300.7 63.2h0M295.7 72.7h0M285.2 53.8h0M273.7 56.8h0M306.4 58.2h0M319.9 59.5h0M316.6 56.4h0M300.3 48.8h0M316.2 61.1h0M293.2 49.4h0M271.8 52.1h0M314.7 75.0h0M284.4 49.9h0M284.8 69.0h0M310.5 57.1h0M286.3 58.7h0M315.5 66.1h0M319.0 47.1h0M300.2 65.6h0M273.9 62.3h0M316.6 55.9h0M314.2 45.7h0M285.5 68.9h0M305.5 66.6h0M307.1 64.7h0M298.1 49.8h0M315.6 57.2h0M288.0 56.5h0M304.7 77.6h0M293.4 67.9h0M318.3 71.3h0M309.2 62.6h0M319.0 64.9h0M285.0 63.6h0M306.9 62.5h0M289.3 52.1h0M291.3 71.2h0M315.2 58.8h0M295.8 46.2h0M269.8 59.3h0M298.3 74.3h0M301.7 60.8h0M296.3 44.0h0M309.0 51.9h0M306.8 54.2h0M289.3 57.8h0M301.4 57.6h0M307.2 62.0h0M310.7 64.2h0M298.9 52.5h0M279.7 65.2h0M305.7 64.0h0M293.1 66.6h0M300.9 48.8h0M308.2 56.5h0M314.2 45.8h0M297.4 68.3h0M278.7 61.0h0M299.4 46.1h0M314.8 62.5h0M278.6 49.1h0M318.1 57.5h0M307.1 70.2h0M282.2 64.0h0M314.6 70.6h0M303.9 43.0h0M304.5 78.1h0"/>
<rect x="352.6" y="10.2" width="2" height="1.4" fill="#1f77b4" fill-opacity="0.75"/>
<text x="358.0" y="11.7" class="lg" text-anchor="middle">0</text>
<rect x="352.6" y="12.8" width="2" height="1.4" fill="#ff7f0e" fill-opacity="0.75"/>
<text x="358.0" y="14.2" class="lg" text-anchor="middle">1</text>
<rect x="352.6" y="15.3" width="2" height="1.4" fill="#2ca02c" fill-opacity="0.75"/>
<text x="358.0" y="16.8" class="lg" text-anchor="middle">2</text>
<rect x="352.6" y="17.9" width="2" height="1.4" fill="#d62728" fill-opacity="0.75"/>
<text x="358.0" y="19.3" class="lg" text-anchor="middle">3</text>
<rect x="352.6" y="20.4" width="2" height="1.4" fill="#9467bd" fill-opacity="0.75"/>
<text x="358.0" y="21.9" class="lg" text-anchor="middle">4</text>
<rect x="352.6" y="22.9" width="2" height="1.4" fill="#8c564b" fill-opacity="0.75"/>
<text x="358.0" y="24.4" class="lg" text-anchor="middle">5</text>
<rect x="352.6" y="25.5" width="2" height="1.4" fill="#e377c2" fill-opacity="0.75"/>
<text x="358.0" y="26.9" class="lg" text-anchor="middle">6</text>
<rect x="352.6" y="28.1" width="2" height="1.4" fill="#7f7f7f" fill-opacity="0.75"/>
<text x="358.0" y="29.5" class="lg" text-anchor="middle">7</text>
</g>
<g id="pc">
<rect x="374.5" y="8.5" width="165" height="141" fill="none" stroke="#c2c2c2" stroke-width="1"/>
<line x1="391.4" y1="150" x2="391.4" y2="151" stroke="#999" stroke-width="0.6"/>
<text x="391.4" y="152.3" class="tk" text-anchor="middle">−20</text>
<line x1="416.8" y1="150" x2="416.8" y2="151" stroke="#999" stroke-width="0.6"/>
<text x="416.8" y="152.3" class="tk" text-anchor="middle">−10</text>
<line x1="442.3" y1="150" x2="442.3" y2="151" stroke="#999" stroke-width="0.6"/>
<text x="442.3" y="152.3" class="tk" text-anchor="middle">0</text>
<line x1="467.8" y1="150" x2="467.8" y2="151" stroke="#999" stroke-width="0.6"/>
<text x="467.8" y="152.3" class="tk" text-anchor="middle">10</text>
<line x1="493.2" y1="150" x2="493.2" y2="151" stroke="#999" stroke-width="0.6"/>
<text x="493.2" y="152.3" class="tk" text-anchor="middle">20</text>
<line x1="518.6" y1="150" x2="518.6" y2="151" stroke="#999" stroke-width="0.6"/>
<text x="518.6" y="152.3" class="tk" text-anchor="middle">30</text>
<line x1="373" y1="32.2" x2="374" y2="32.2" stroke="#999" stroke-width="0.6"/>
<text x="372.7" y="32.9" class="tk" text-anchor="end">20</text>
<line x1="373" y1="60.1" x2="374" y2="60.1" stroke="#999" stroke-width="0.6"/>
<text x="372.7" y="60.8" class="tk" text-anchor="end">10</text>
<line x1="373" y1="88.0" x2="374" y2="88.0" stroke="#999" stroke-width="0.6"/>
<text x="372.7" y="88.7" class="tk" text-anchor="end">0</text>
<line x1="373" y1="115.9" x2="374" y2="115.9" stroke="#999" stroke-width="0.6"/>
<text x="372.7" y="116.6" class="tk" text-anchor="end">−10</text>
<line x1="373" y1="143.8" x2="374" y2="143.8" stroke="#999" stroke-width="0.6"/>
<text x="372.7" y="144.5" class="tk" text-anchor="end">−20</text>
<path stroke="#1f77b4" stroke-width="1.3" stroke-linecap="square" d="M463.9 42.5h0M464.0 41.5h0M399.6 64.4h0M398.6 64.8h0M472.3 90.6h0M471.3 90.3h0"/>
<path stroke="#ff7f0e" stroke-width="1.3" stroke-linecap="square" d="M451.3 39.8h0M450.9 36.1h0M448.8 42.2h0M446.8 43.5h0M447.6 43.3h0M449.4 43.3h0M451.4 37.3h0M453.6 45.0h0M451.0 40.6h0M450.8 38.8h0M453.3 39.9h0M451.0 39.2h0M449.8 38.0h0M453.6 40.9h0M453.0 41.3h0M449.7 40.5h0M450.0 41.3h0M450.3 40.5h0M448.3 39.2h0M454.4 39.6h0M449.0 42.2h0M453.9 37.5h0M450.7 39.7h0M447.6 43.2h0M451.1 41.5h0M449.6 42.5h0M450.0 40.9h0M448.9 38.1h0M453.8 40.0h0M451.7 41.2h0M450.2 40.0h0M452.4 40.5h0M450.8 41.4h0M453.5 43.1h0M451.9 39.8h0M448.3 43.8h0M453.0 40.9h0M452.2 43.3h0M452.8 43.7h0M450.2 45.2h0M448.6 43.5h0M452.1 43.6h0M454.9 45.2h0M448.8 36.9h0M452.7 38.7h0M451.1 43.5h0M447.8 35.8h0M451.6 41.4h0M450.1 42.2h0M448.0 35.9h0M450.4 38.1h0M445.2 44.0h0M450.8 43.6h0M447.5 39.4h0M447.5 38.5h0M451.7 38.9h0M452.2 43.4h0M458.1 36.4h0M454.1 41.6h0M451.0 36.2h0M449.4 45.0h0M450.7 42.3h0M399.3 82.8h0M395.3 86.2h0M393.4 80.7h0M389.1 86.4h0M398.6 84.5h0M397.6 82.1h0M396.0 81.1h0M394.6 82.0h0M400.4 83.4h0M395.1 80.1h0M393.1 86.4h0M397.0 82.0h0M394.1 78.6h0M395.1 84.3h0M394.0 81.1h0M394.5 82.1h0M389.9 81.1h0M392.4 84.4h0M392.7 83.5h0M400.5 80.9h0M393.3 82.4h0M395.3 78.9h0M396.9 87.6h0M394.4 81.2h0M391.7 82.7h0M391.1 78.6h0M399.7 79.2h0M399.0 86.2h0M396.2 83.4h0M401.9 81.2h0M393.3 77.9h0M395.4 86.1h0M398.6 79.1h0M392.4 80.3h0M396.3 81.2h0M396.0 82.7h0M394.3 81.7h0M396.0 81.6h0M397.0 87.2h0M397.3 82.0h0M389.6 82.9h0M388.7 77.7h0M398.2 83.8h0M394.8 76.8h0M394.0 79.8h0M397.5 88.3h0M396.0 79.5h0M391.3 81.6h0M394.7 78.5h0M395.7 78.5h0M399.1 84.9h0M399.0 80.4h0M397.0 81.4h0M394.0 80.8h0M390.9 77.6h0M398.0 81.2h0M396.0 84.7h0M389.4 79.5h0M395.9 82.9h0M394.0 84.8h0M396.0 78.3h0M392.1 84.1h0M396.9 76.3h0M399.9 83.5h0M399.9 80.7h0M394.3 78.5h0M403.9 81.3h0M400.7 79.9h0M395.9 77.0h0M394.0 84.7h0M391.0 84.9h0M396.4 78.8h0M393.6 80.5h0M395.1 80.2h0M392.5 80.9h0M407.9 70.6h0M409.9 75.0h0M406.9 73.2h0M408.7 71.2h0M411.7 72.2h0M413.0 71.6h0M410.8 72.7h0M408.5 74.4h0M409.7 74.4h0M409.9 71.0h0M409.8 73.3h0M411.9 71.4h0M409.9 69.8h0M411.3 71.0h0M406.4 73.1h0M412.2 70.2h0M407.8 71.7h0M407.7 74.0h0M408.4 71.8h0M411.2 71.7h0M410.9 71.3h0M407.6 69.5h0M413.7 72.6h0M410.5 73.1h0M410.3 73.3h0M413.8 71.1h0M406.9 71.2h0M407.3 74.7h0M411.7 74.6h0M411.2 77.8h0M407.9 68.2h0M411.2 74.4h0M411.6 74.1h0M409.5 73.4h0M415.6 83.3h0M413.0 76.4h0M408.1 72.5h0M412.8 78.3h0M412.9 77.9h0M412.1 78.6h0M416.1 82.5h0M414.4 76.7h0M412.4 78.4h0M411.0 76.1h0M392.8 100.2h0M394.4 102.1h0M393.5 101.9h0M391.1 100.4h0M392.3 101.2h0M393.5 102.3h0M389.5 102.4h0M389.5 101.1h0M392.2 98.1h0M393.1 102.6h0M392.5 101.5h0M392.0 100.3h0M392.2 101.2h0M393.1 99.9h0M393.5 102.6h0M392.5 101.4h0M394.3 99.0h0M394.1 102.8h0M393.6 103.1h0M391.3 101.8h0M394.5 103.2h0M393.4 99.3h0M394.2 104.6h0M395.4 102.8h0M389.0 104.2h0M392.5 97.2h0M393.8 99.3h0M389.7 101.0h0M396.1 101.6h0M393.6 105.8h0M396.9 102.1h0M392.3 99.8h0M391.2 103.2h0M393.9 102.5h0M395.4 100.8h0M395.3 110.0h0M396.1 110.6h0M395.9 107.9h0M395.8 106.5h0M393.4 109.7h0M395.3 109.1h0M393.4 107.8h0M394.7 106.8h0M392.7 107.8h0M396.5 109.3h0M385.3 129.2h0M390.5 119.9h0M387.1 131.1h0M390.2 135.1h0M391.9 130.4h0M388.7 132.0h0M385.6 129.2h0M391.0 136.0h0M387.0 129.1h0M388.4 133.9h0M387.5 134.3h0M383.9 128.7h0M386.8 132.0h0M391.6 124.2h0M384.1 130.4h0M385.1 124.1h0M391.5 131.0h0M389.5 127.7h0M391.5 128.5h0M391.8 126.2h0M384.4 130.0h0M384.9 131.6h0M388.6 126.2h0M387.9 128.1h0M391.1 127.1h0M385.9 133.4h0M396.1 136.1h0M387.8 130.0h0M393.4 128.9h0M383.9 129.7h0M389.3 126.5h0M381.3 124.4h0M390.1 126.7h0M387.1 130.0h0M390.0 128.2h0M389.5 126.3h0M386.2 125.8h0M391.9 129.2h0M384.8 128.1h0M386.8 131.7h0M381.5 125.8h0M386.2 137.9h0M391.2 128.9h0M390.3 136.3h0M386.7 128.1h0M392.2 131.0h0M390.2 127.6h0M394.9 135.1h0M389.8 131.6h0M386.9 130.8h0M390.2 128.1h0M384.8 128.2h0M385.3 128.1h0M388.6 133.1h0M395.1 129.4h0M383.0 127.6h0M387.9 122.5h0M388.9 124.2h0M388.7 128.9h0M386.4 129.1h0M385.5 127.2h0M394.6 136.0h0M392.6 131.7h0M385.0 134.2h0M387.4 129.1h0M386.5 129.6h0M385.9 129.0h0M383.5 128.0h0M396.3 129.1h0M386.7 131.1h0M390.3 125.5h0M386.8 132.4h0M388.6 129.7h0M393.5 127.0h0M387.9 127.5h0M393.3 122.7h0M385.1 127.5h0M390.1 131.4h0M392.9 123.9h0M390.5 128.3h0M385.1 131.1h0M384.1 122.2h0M386.2 124.2h0M385.1 130.6h0M388.8 134.7h0M396.1 119.4h0M395.0 120.7h0M394.1 123.4h0M395.2 118.5h0M397.9 122.3h0M397.2 122.7h0M397.8 122.6h0M399.0 123.3h0M397.3 123.3h0M393.6 122.2h0M396.0 122.9h0M393.8 125.8h0M396.7 120.1h0M393.1 121.9h0M396.3 121.1h0M396.7 121.2h0M397.6 121.1h0M396.4 124.5h0M401.6 120.5h0M395.6 120.8h0M398.1 120.2h0M395.5 122.4h0M409.3 116.7h0M410.0 115.3h0M408.7 117.3h0M410.9 117.6h0M408.2 117.2h0M411.8 118.5h0M410.6 116.7h0M411.6 117.1h0M409.1 116.8h0M412.7 118.1h0M412.3 117.2h0M412.0 117.1h0M410.5 120.8h0M411.8 117.2h0M410.6 118.2h0M413.1 132.8h0M409.5 133.1h0M411.6 133.5h0M413.2 133.8h0M412.6 132.1h0M412.6 135.9h0M412.5 133.7h0M411.8 135.5h0M410.5 133.3h0M412.2 134.3h0M411.1 133.8h0M411.3 133.5h0M401.2 131.6h0M401.3 133.2h0M400.5 132.3h0M401.8 131.6h0M401.4 131.7h0M402.2 134.4h0M402.1 139.9h0M401.1 140.2h0M400.6 141.6h0M399.4 141.2h0M400.5 141.5h0M400.6 139.4h0M423.9 123.8h0M423.5 123.3h0M422.4 118.9h0M425.1 123.7h0M423.7 122.6h0M425.4 121.7h0M422.1 122.2h0M425.7 120.1h0M425.7 121.4h0M421.3 124.6h0M423.2 120.3h0M422.7 124.1h0M425.7 121.8h0M424.2 123.7h0M422.2 123.1h0M423.3 121.6h0M422.5 122.6h0M423.5 121.5h0M422.6 124.4h0M423.8 124.0h0M425.7 123.5h0M427.7 121.1h0M424.9 122.0h0M426.9 125.4h0M419.7 120.9h0M424.7 123.8h0M429.9 104.6h0M429.0 106.9h0M427.3 108.1h0M420.3 106.8h0M424.2 107.9h0M426.8 102.0h0M428.7 101.9h0M424.6 99.8h0M427.4 106.4h0M430.8 104.3h0M430.9 104.9h0M427.2 106.6h0M430.9 103.7h0M426.7 104.3h0M427.8 101.9h0M430.8 103.5h0M429.0 102.2h0M428.6 106.1h0M426.2 111.3h0M428.7 110.5h0M430.6 102.7h0M426.3 106.2h0M427.7 105.0h0M426.6 99.0h0M426.8 97.7h0M428.7 102.5h0M425.2 104.1h0M428.4 100.2h0M421.9 101.4h0M421.0 101.7h0M432.6 101.4h0M429.6 100.4h0M428.5 103.8h0M427.3 106.6h0M433.1 105.4h0M427.9 101.7h0M429.4 104.0h0M430.2 104.7h0M433.1 98.5h0M426.6 107.6h0M426.4 102.3h0M426.6 100.4h0M427.9 112.6h0M431.2 101.3h0M424.7 103.5h0M430.7 102.2h0M425.3 107.6h0M430.3 103.6h0M423.9 99.8h0M425.3 97.7h0M429.9 102.8h0M429.0 110.8h0M431.3 101.1h0M430.3 108.5h0M425.1 101.7h0M422.3 90.1h0M424.3 89.1h0M421.0 91.7h0M422.1 92.2h0M422.8 91.7h0M423.9 89.4h0M422.4 91.1h0M422.6 92.3h0M421.2 91.2h0M423.4 92.4h0M421.5 94.4h0M425.4 90.2h0M422.8 95.0h0M423.4 92.3h0M422.1 91.4h0M422.1 91.3h0M444.4 62.4h0M442.6 61.2h0M443.2 61.7h0M443.0 64.6h0M443.8 63.8h0M443.8 63.1h0M443.1 62.5h0M444.4 61.4h0M445.3 63.1h0M442.2 62.3h0M442.3 63.2h0M442.2 64.7h0M442.1 59.6h0M442.2 60.0h0M443.2 64.6h0M444.3 61.0h0M442.2 65.7h0M443.8 63.0h0M465.0 72.4h0M465.9 64.3h0M462.3 66.0h0M458.7 60.1h0M461.2 60.5h0M460.8 64.1h0M469.9 60.8h0M460.5 63.2h0M462.7 67.5h0M459.1 60.9h0M454.8 60.6h0M463.0 64.0h0M457.1 62.5h0M461.1 65.6h0M458.7 62.9h0M454.1 59.8h0M467.1 56.1h0M459.7 64.6h0M459.6 61.0h0M460.8 63.8h0M460.7 57.2h0M460.4 60.8h0M458.9 64.6h0M463.4 66.9h0M459.1 67.0h0M465.5 67.8h0M466.3 63.3h0M460.3 66.7h0M455.8 64.5h0M459.0 62.5h0M454.4 60.7h0M460.9 66.9h0M464.8 63.5h0M460.3 60.9h0M462.5 62.9h0M463.3 69.9h0M460.9 58.6h0M457.7 58.7h0M456.5 68.4h0M461.9 58.5h0M463.5 68.2h0M459.6 61.4h0M459.7 64.8h0M463.4 67.9h0M465.6 67.9h0M468.6 68.6h0M455.6 63.1h0M463.9 61.3h0M466.6 61.5h0M458.3 74.1h0M465.5 65.5h0M466.7 71.4h0M464.0 46.8h0M459.5 60.8h0M458.1 65.4h0M467.9 60.6h0M457.4 78.2h0M460.5 55.4h0M463.6 67.0h0M459.3 69.5h0M460.3 57.5h0M463.3 69.4h0M459.6 66.3h0M462.1 83.8h0M459.3 73.7h0M462.3 63.1h0M465.7 70.3h0M468.2 66.3h0M459.8 60.2h0M464.8 68.1h0M468.8 66.9h0M467.3 74.6h0M463.2 53.6h0M457.2 53.9h0M469.7 58.1h0M468.0 68.1h0M470.2 71.0h0M462.0 62.6h0M462.9 65.2h0M460.1 63.8h0M469.7 52.1h0M463.7 57.7h0M463.3 69.9h0M462.2 69.4h0M455.3 71.7h0M459.8 68.4h0M463.3 45.9h0M459.1 65.5h0M469.5 66.0h0M463.7 54.1h0M468.9 76.6h0M462.6 62.5h0M455.2 70.2h0M474.7 69.0h0M468.2 67.8h0M458.1 73.4h0M456.9 62.5h0M463.8 70.2h0M464.4 66.7h0M459.1 55.0h0M486.1 52.3h0M480.7 50.0h0M483.9 47.5h0M480.5 48.4h0M486.6 57.0h0M493.9 49.0h0M483.2 59.1h0M485.0 53.9h0M492.7 53.9h0M481.3 49.8h0M487.2 56.6h0M480.4 51.2h0M488.0 57.7h0M483.3 57.9h0M488.2 47.8h0M484.7 57.0h0M483.6 46.3h0M484.8 58.5h0M492.2 46.1h0M496.4 50.6h0M489.7 60.5h0M489.8 55.9h0M481.3 57.9h0M483.0 44.7h0M497.2 58.3h0M493.2 51.5h0M491.8 62.0h0M492.1 55.2h0M481.1 54.6h0M477.1 48.2h0M486.3 51.1h0M485.2 54.8h0M493.6 60.8h0M485.7 60.4h0M482.8 53.9h0M489.5 50.1h0M484.8 49.8h0M486.4 62.2h0M480.7 57.6h0M479.8 46.8h0M477.6 67.1h0M500.6 59.6h0M480.9 61.3h0M483.4 62.1h0M487.4 58.0h0M489.4 51.3h0M482.9 42.4h0M482.7 44.7h0M484.6 48.3h0M486.1 59.3h0M476.4 49.5h0M479.5 61.6h0M496.4 62.4h0M483.3 67.2h0M475.8 67.5h0M478.9 57.1h0M484.1 56.6h0M476.0 50.5h0M488.5 57.5h0M493.2 56.4h0M500.5 50.2h0M477.5 66.2h0M479.5 59.9h0M485.1 47.7h0M483.3 51.8h0M482.4 61.7h0M489.7 51.3h0M479.7 58.0h0M484.9 63.8h0M485.3 54.5h0M480.0 48.7h0M479.1 52.7h0M482.8 61.6h0M482.9 54.3h0M477.7 68.6h0M488.7 69.8h0M490.6 67.4h0M483.9 61.4h0M493.0 69.0h0M488.2 61.8h0M493.7 50.6h0M488.2 48.9h0M481.1 50.9h0M484.6 57.0h0M488.5 44.5h0M498.5 65.0h0M490.3 52.9h0M484.9 60.2h0M488.2 42.4h0M490.4 79.1h0M473.4 63.8h0M487.9 54.9h0M494.5 46.3h0M486.6 67.5h0M484.2 52.5h0M486.3 52.2h0M495.7 48.5h0M491.2 45.8h0M489.9 55.0h0M468.5 55.8h0M478.5 52.2h0M495.6 46.8h0M478.5 67.4h0M486.3 68.2h0M487.6 48.7h0M485.1 65.7h0M491.7 55.8h0M485.8 54.9h0M481.7 71.3h0M485.5 46.7h0M482.4 61.6h0M489.7 54.7h0M481.1 56.0h0M474.5 45.4h0M490.8 52.0h0M488.0 65.6h0M489.8 56.0h0M499.5 61.2h0M483.2 61.7h0M488.2 48.9h0M486.0 54.5h0M472.6 54.4h0M483.6 52.3h0M474.7 53.0h0M485.2 56.6h0M478.0 60.9h0M477.5 54.0h0M494.1 50.2h0M482.1 64.4h0M483.0 53.4h0M487.0 64.2h0M471.0 49.2h0M478.9 47.1h0M479.9 49.1h0M487.5 48.7h0M486.3 59.0h0M480.7 56.8h0M496.2 58.4h0M481.3 55.3h0M479.5 58.0h0M491.1 49.3h0M484.1 64.7h0M482.2 57.3h0M478.8 49.3h0M482.1 72.8h0M482.9 51.7h0M481.9 54.5h0M489.7 57.3h0M498.7 57.5h0M494.8 58.0h0M489.4 44.5h0M484.7 55.3h0M491.1 52.8h0M482.7 53.8h0M484.0 59.0h0M477.4 48.5h0M487.4 56.9h0M483.1 51.3h0M480.2 55.3h0M493.1 47.5h0M495.2 62.4h0M482.6 61.9h0M476.1 42.3h0M477.2 52.6h0M483.4 51.8h0M488.7 44.7h0M481.3 52.6h0M478.1 45.1h0M479.1 55.7h0M489.3 60.2h0M479.1 49.6h0M479.6 59.3h0M472.5 65.5h0M482.4 49.7h0M487.7 63.9h0M487.7 64.0h0M486.4 65.4h0M493.5 55.0h0M494.7 57.1h0M486.1 48.6h0M483.7 61.9h0M477.1 60.9h0M487.7 58.0h0M471.4 55.0h0M489.6 49.8h0M489.8 50.6h0M491.1 41.4h0M489.9 54.0h0M495.7 65.2h0M493.6 70.0h0M493.3 65.5h0M494.1 65.1h0M496.3 69.2h0M493.4 64.0h0M496.3 68.3h0M495.7 68.3h0M493.2 66.3h0M492.4 64.5h0M496.0 65.6h0M497.9 66.7h0M493.5 67.8h0M497.2 67.3h0M492.7 67.2h0M456.3 88.0h0M451.3 91.4h0M453.4 86.6h0M452.2 87.4h0M453.8 89.4h0M455.7 90.7h0M449.5 90.0h0M455.2 90.1h0M455.5 87.8h0M450.9 91.2h0M450.6 84.1h0M455.5 87.4h0M452.4 85.9h0M450.1 86.4h0M452.3 90.0h0M447.8 90.8h0M450.4 86.6h0M454.7 88.9h0M449.6 93.3h0M451.1 89.7h0M453.6 92.3h0M452.1 91.4h0M451.4 91.7h0M451.3 88.3h0M457.5 89.8h0M453.4 94.3h0M453.9 87.2h0M454.8 86.4h0M455.7 91.9h0M451.8 87.7h0M453.5 89.1h0M450.9 90.4h0M448.4 88.1h0M452.2 88.5h0M453.8 86.3h0M454.5 88.7h0M451.6 86.0h0M450.4 89.9h0M450.9 89.2h0M455.5 91.5h0M456.7 88.4h0M450.6 91.4h0M453.8 91.7h0M453.1 91.8h0M455.0 90.7h0M454.8 95.6h0M453.3 94.5h0M457.4 89.7h0M461.5 92.3h0M457.4 92.4h0M450.6 106.2h0M450.3 84.7h0M448.1 90.9h0M463.9 94.3h0M457.1 86.5h0M453.9 97.4h0M461.9 88.5h0M455.3 95.0h0M446.4 92.9h0M450.6 77.9h0M455.3 96.5h0M449.6 84.3h0M460.1 94.7h0M457.6 102.2h0M449.1 98.3h0M450.7 92.6h0M451.5 93.0h0M458.1 93.8h0M451.2 91.2h0M453.9 87.2h0M449.2 92.7h0M448.9 92.2h0M448.6 106.0h0M459.3 95.9h0M451.7 107.2h0M453.8 92.4h0M453.7 95.0h0M459.8 92.9h0M463.5 87.3h0M455.8 86.5h0M462.0 90.9h0M451.7 99.0h0M458.9 85.8h0M450.1 83.9h0M452.8 92.3h0M450.1 88.6h0M449.9 88.1h0M454.9 102.9h0M441.4 92.2h0M449.7 96.2h0M446.8 92.0h0M446.3 97.5h0M452.5 92.0h0M454.0 91.4h0M443.5 96.9h0M453.6 92.0h0M457.4 100.9h0M446.0 87.9h0M460.5 102.2h0M447.9 85.3h0M448.5 89.8h0M443.3 93.2h0M445.0 85.1h0M457.0 88.6h0M451.6 97.1h0M456.5 90.8h0M452.2 87.6h0M461.6 97.2h0M445.9 93.0h0M455.9 96.1h0M462.1 101.9h0M449.0 92.4h0M445.0 94.6h0M452.8 110.6h0M452.5 79.4h0M448.3 93.7h0M445.1 87.4h0M450.0 95.2h0M451.1 87.2h0M456.3 89.5h0M449.3 84.0h0M447.7 97.2h0M443.1 92.5h0M455.9 90.5h0M453.3 85.7h0M459.2 100.2h0M453.3 81.6h0M446.2 99.3h0M461.4 94.9h0M458.9 89.0h0M451.0 93.0h0M454.3 83.1h0M457.2 101.6h0M445.7 84.2h0M453.9 88.7h0M442.0 113.3h0M445.0 111.7h0M447.3 112.5h0M443.9 112.4h0M443.6 111.4h0M445.3 111.6h0M444.3 114.3h0M445.8 113.3h0M445.4 112.9h0M446.5 112.3h0M447.0 111.2h0M444.5 110.6h0M451.1 118.4h0M452.6 117.5h0M451.4 117.7h0M450.8 117.0h0M451.4 116.6h0M435.7 119.3h0M434.8 118.1h0M433.9 121.5h0M434.0 121.2h0M436.3 118.9h0M434.2 120.6h0M437.7 118.2h0M435.2 120.6h0M436.0 121.7h0M434.9 120.0h0M434.1 121.8h0M434.7 116.7h0M434.7 54.4h0M474.0 42.0h0M473.5 81.3h0M448.9 108.5h0M477.5 79.4h0M444.1 58.5h0M400.2 116.2h0M464.0 44.7h0M474.4 75.1h0M442.4 60.7h0M453.5 81.1h0M467.2 66.4h0M388.6 129.9h0M453.4 83.3h0M423.5 90.5h0M407.6 84.2h0M428.0 69.7h0M454.4 108.1h0M454.4 66.9h0M494.0 59.3h0M489.1 65.6h0M434.1 108.7h0M406.8 113.2h0M388.1 131.1h0M432.3 112.2h0M445.5 67.3h0M480.6 62.4h0M443.0 100.2h0M408.3 103.8h0M478.6 61.3h0M455.0 104.7h0M447.9 59.0h0M453.8 70.0h0M442.3 87.4h0M459.6 79.3h0M431.5 81.6h0M386.9 108.9h0M419.7 87.1h0M495.0 47.7h0M407.2 138.8h0M428.4 66.0h0M443.0 88.2h0M486.9 46.1h0M438.3 103.0h0M439.8 63.5h0M419.4 85.4h0M434.4 96.4h0M412.9 138.2h0M384.3 115.1h0M465.5 74.6h0M425.2 93.2h0M489.7 74.2h0M486.3 72.7h0M395.3 101.2h0M399.1 82.0h0M397.1 130.4h0M443.8 99.9h0M489.8 75.6h0M459.4 109.0h0M460.2 96.8h0M469.6 49.2h0M406.3 115.9h0M404.0 94.6h0M412.1 84.6h0M434.2 68.6h0M446.8 112.7h0M481.7 50.1h0M437.7 102.2h0M387.9 120.7h0M425.5 88.4h0M421.4 69.0h0M406.5 84.6h0M400.3 124.6h0M497.4 50.8h0M492.4 48.5h0M462.3 71.7h0M459.2 104.6h0M419.0 74.7h0M457.6 97.8h0M439.5 109.7h0M439.7 114.3h0M402.8 73.6h0M460.6 70.4h0M455.4 82.4h0M399.0 100.3h0M495.2 49.2h0M442.5 81.0h0M429.6 68.1h0M413.4 65.1h0M393.3 97.0h0M434.3 113.0h0M427.0 107.7h0M434.3 104.8h0M394.2 94.7h0M398.5 93.4h0M433.7 79.3h0M448.1 103.8h0M450.5 109.4h0M393.5 86.6h0M474.4 70.7h0M405.3 81.4h0M389.4 83.9h0M426.5 122.0h0M407.0 102.7h0M413.2 97.5h0M413.7 72.1h0M486.0 46.2h0M387.9 128.2h0M464.2 62.9h0M490.4 70.6h0M475.2 48.6h0M435.5 92.1h0M432.4 78.9h0M429.4 77.8h0M472.7 50.7h0M433.0 112.7h0M391.4 85.3h0M479.6 61.6h0M461.7 100.5h0M450.5 101.7h0M436.6 77.4h0M425.1 118.8h0M447.5 82.7h0M416.5 81.6h0M392.8 115.6h0M444.7 110.4h0M478.3 45.7h0M395.5 94.5h0M391.7 130.6h0M402.9 108.5h0M459.1 73.4h0M406.6 133.4h0M420.0 100.0h0M449.2 114.1h0M465.2 90.4h0M444.7 104.5h0M405.2 123.2h0M491.5 64.9h0M452.1 99.9h0M389.5 101.3h0M409.8 80.2h0M401.6 71.7h0M485.9 53.1h0M427.6 93.0h0M434.0 88.5h0M431.7 111.9h0M434.5 90.9h0M474.7 52.0h0M428.4 119.8h0M421.4 125.5h0M466.8 45.2h0M427.0 118.4h0M443.9 109.0h0M453.6 69.7h0M408.2 96.8h0M497.2 54.8h0M411.2 89.4h0M456.3 72.8h0M393.9 125.5h0M400.7 90.6h0M447.8 83.9h0M467.8 64.6h0M403.1 135.2h0M392.8 131.1h0M426.8 110.9h0M465.4 84.8h0M445.8 72.0h0M412.7 68.8h0M486.0 77.5h0M393.2 104.7h0M422.7 102.7h0M490.4 44.5h0M407.8 133.4h0M441.8 58.2h0M449.1 114.8h0M457.8 85.3h0M391.2 129.5h0M453.8 103.7h0M431.7 108.9h0M410.1 67.0h0M485.6 61.6h0M427.1 116.2h0M420.4 78.0h0M489.6 61.9h0M409.8 130.6h0M431.3 91.8h0M397.6 108.3h0M458.5 79.2h0M429.2 71.5h0M458.9 110.2h0M413.1 65.4h0M408.2 133.2h0M433.1 118.3h0M400.9 107.2h0M486.1 57.7h0M431.2 103.5h0M406.2 97.0h0M396.8 77.3h0M435.7 106.3h0M485.0 57.3h0M402.6 92.5h0M431.9 85.5h0M437.6 66.7h0M487.7 59.1h0M426.8 119.1h0M450.4 88.1h0M405.1 132.5h0M438.8 71.4h0M431.5 89.4h0M490.7 76.0h0M415.4 107.1h0M428.9 113.5h0M468.7 80.1h0M410.6 95.5h0M396.8 82.8h0M419.3 86.3h0M479.8 50.8h0M447.0 63.1h0M392.0 83.5h0M392.5 90.0h0M468.1 72.3h0M401.0 77.5h0M400.9 126.2h0M392.5 115.8h0M420.9 114.6h0M473.1 54.6h0M448.8 106.1h0M423.1 104.2h0M494.6 44.6h0M449.7 59.9h0M476.0 64.5h0M469.6 74.6h0M458.9 109.6h0M433.3 110.6h0M449.0 77.7h0M482.7 78.3h0M440.9 79.1h0M425.8 93.2h0M402.7 127.1h0M445.4 112.4h0M398.4 136.6h0M477.7 67.4h0M458.1 95.1h0M472.9 79.8h0M410.7 133.2h0M431.2 90.3h0M463.9 104.0h0M441.8 118.5h0M428.3 67.5h0M466.8 58.0h0M386.5 134.2h0M493.7 68.5h0M428.0 112.1h0M424.1 122.5h0M490.1 54.9h0M463.2 79.0h0M401.8 76.3h0M447.5 102.6h0M423.2 125.0h0M447.6 100.9h0M410.8 119.4h0M416.0 71.5h0M398.9 101.9h0M473.1 53.7h0M445.0 95.5h0M393.8 94.6h0M498.8 50.1h0M422.0 103.5h0M484.5 65.2h0M430.1 116.2h0M482.4 60.9h0M496.9 51.2h0M459.6 65.1h0M493.6 54.0h0M490.0 57.7h0M392.1 128.0h0M470.7 67.6h0M493.2 53.6h0M426.8 81.6h0M444.8 73.7h0M410.8 120.4h0M414.3 74.5h0M439.7 68.7h0M467.8 49.5h0M419.6 83.5h0M431.3 88.3h0M480.2 63.1h0M475.3 72.6h0M464.8 53.7h0M453.3 56.8h0M395.9 86.1h0M427.7 60.8h0M416.9 95.8h0M453.2 82.5h0M485.8 58.1h0M404.5 87.7h0M455.5 74.0h0M499.4 59.4h0M447.8 109.2h0M427.2 68.4h0M449.1 79.8h0M439.1 59.0h0M496.1 56.4h0M394.6 105.3h0M479.8 48.7h0M454.4 67.9h0M390.8 120.1h0M416.9 83.3h0M396.6 74.4h0M450.2 71.2h0M495.7 61.0h0M422.4 94.2h0M454.9 75.6h0M433.6 104.3h0M435.6 69.6h0M430.1 79.9h0M430.2 112.7h0M393.5 122.4h0M431.3 81.1h0M394.9 91.8h0M472.7 49.3h0M415.6 75.8h0M415.2 84.6h0M451.4 52.0h0M494.2 74.9h0M457.4 107.8h0M418.4 87.0h0M418.2 74.9h0M439.1 110.0h0M392.8 133.2h0M464.0 49.9h0M424.2 74.5h0M435.1 117.1h0M391.0 134.6h0M438.0 77.9h0M464.4 68.9h0M466.1 83.0h0M438.1 60.1h0M431.5 119.3h0M490.0 57.0h0M454.4 67.6h0M411.1 91.0h0M453.2 85.1h0M453.8 82.4h0M418.7 92.0h0M465.8 58.6h0M494.9 66.0h0M498.5 47.0h0M449.7 83.8h0M450.2 81.6h0M440.1 77.2h0M406.6 70.5h0M423.4 77.5h0M402.4 88.8h0M394.4 128.7h0M420.2 66.8h0M399.7 89.5h0M464.9 84.4h0M461.3 88.5h0M441.2 72.4h0M431.9 89.6h0M421.9 124.4h0M422.1 120.3h0M424.1 106.5h0M479.8 65.5h0M453.6 62.2h0M425.0 96.0h0M496.0 55.8h0M389.8 95.4h0M493.7 45.7h0M424.1 107.1h0M446.0 85.2h0M445.5 112.7h0M388.8 95.5h0M398.9 127.4h0M392.3 107.6h0M465.1 68.8h0M451.8 74.3h0M411.9 67.2h0M391.4 122.2h0M444.3 88.2h0M455.6 92.8h0M418.4 93.2h0M397.5 97.7h0M485.0 66.5h0M447.2 76.7h0M422.0 81.7h0M412.7 77.1h0M400.5 74.8h0M486.6 64.6h0M393.7 107.2h0M440.8 72.5h0M391.1 80.1h0M413.3 133.8h0M393.1 131.5h0M477.7 49.7h0M444.5 62.5h0M393.0 78.7h0M425.3 60.0h0M422.1 66.1h0M495.0 57.1h0M449.0 109.1h0M399.2 94.7h0M404.9 77.8h0M445.5 100.1h0M420.7 73.9h0M463.8 90.3h0M467.6 56.4h0M398.7 115.3h0M484.2 77.5h0M473.0 67.8h0M497.7 71.2h0M386.3 129.7h0M452.2 85.7h0M397.8 88.5h0M435.9 102.4h0M446.8 104.0h0M382.5 125.0h0M488.7 62.5h0M440.5 70.4h0M435.4 110.5h0M419.4 108.2h0M498.5 64.8h0M416.6 86.3h0M464.6 63.5h0M486.4 62.4h0M417.2 101.7h0M468.8 52.0h0M415.2 129.4h0M430.8 91.6h0M410.5 66.5h0M387.3 132.5h0M442.2 70.7h0M400.3 121.7h0M470.8 71.1h0M494.7 58.7h0M444.0 95.3h0M440.8 119.2h0M475.4 46.1h0M446.3 85.5h0M429.4 95.3h0M455.7 112.1h0M395.2 110.0h0M463.4 102.8h0M426.7 87.9h0M412.0 133.8h0M449.4 59.2h0M414.6 100.6h0M477.8 74.3h0M449.0 67.1h0M407.9 108.9h0M405.0 110.6h0M447.6 58.8h0M417.2 94.2h0M383.5 126.1h0M463.0 82.7h0M481.2 60.7h0M438.8 96.4h0M475.8 44.0h0M424.3 89.0h0M407.8 85.5h0M416.6 80.2h0M405.6 70.0h0M488.5 51.9h0M409.9 85.4h0M388.9 77.4h0M388.3 136.4h0M439.5 62.3h0M433.2 79.0h0M486.3 54.1h0M406.2 69.6h0M388.5 126.3h0M439.4 101.8h0M414.0 94.7h0M440.8 71.2h0M408.7 77.1h0M468.8 57.7h0M427.8 78.6h0M410.6 122.7h0M417.8 82.1h0M396.3 131.2h0M425.6 111.8h0M384.2 111.4h0M435.0 109.1h0M401.4 94.2h0M480.9 57.5h0M436.9 59.6h0M439.6 87.1h0M465.4 75.0h0M439.1 109.1h0M414.6 81.9h0M486.7 61.9h0M490.2 64.1h0M391.4 92.9h0M478.4 52.4h0M459.3 65.1h0M485.2 63.9h0M432.5 99.2h0M411.9 83.6h0M389.2 119.9h0M472.7 66.6h0M397.2 82.3h0M480.4 48.7h0M432.4 76.8h0M487.6 56.4h0M459.3 73.6h0M416.0 68.9h0M395.3 120.2h0M386.4 122.6h0M415.2 119.1h0M462.8 97.8h0M444.6 101.3h0M422.8 96.3h0M434.3 82.4h0M413.1 134.6h0M493.7 45.7h0M438.4 65.0h0M396.0 106.6h0M390.4 130.5h0M476.9 68.2h0M394.9 97.6h0M436.6 72.3h0M458.3 61.0h0M422.6 72.9h0M449.2 63.5h0M457.6 79.3h0M446.0 81.2h0M390.7 129.6h0M417.6 69.4h0M412.6 70.7h0M479.0 46.0h0M403.5 137.2h0M442.9 70.3h0M403.5 95.4h0M494.3 62.4h0M449.0 104.3h0M466.2 84.5h0M418.7 76.7h0M390.6 134.4h0M411.8 95.5h0M388.9 96.8h0M458.2 49.1h0M497.6 57.5h0M412.4 115.4h0M409.5 72.7h0M486.6 70.1h0M444.5 82.5h0M461.8 64.0h0M401.9 72.7h0M435.5 103.2h0M494.1 70.5h0M463.7 79.5h0M462.9 76.6h0M451.2 111.5h0M426.0 90.6h0M446.5 113.1h0M426.3 105.7h0M429.4 112.5h0M444.5 116.0h0M483.4 43.0h0M427.8 116.1h0M484.0 78.0h0M438.6 95.1h0M393.5 115.7h0M393.0 119.7h0M401.6 121.9h0M391.9 118.7h0M389.4 118.0h0M399.3 120.9h0M389.9 122.3h0M388.4 110.7h0M391.8 121.5h0M395.1 122.8h0M398.7 122.9h0M400.6 123.6h0M392.4 113.1h0M398.1 117.7h0M400.4 122.2h0M392.9 108.4h0M399.9 119.7h0M392.4 107.1h0M388.4 111.0h0M392.4 110.1h0M388.8 109.4h0M393.6 107.8h0M391.3 114.8h0M401.6 123.4h0M394.5 108.5h0M392.3 119.5h0M394.5 117.4h0M399.8 119.2h0M392.8 106.7h0M396.3 118.3h0M443.8 93.0h0M447.8 95.0h0M442.7 98.9h0M457.0 98.5h0M452.5 98.7h0M446.7 94.5h0M442.5 105.9h0M447.2 97.1h0M457.8 107.8h0M444.0 99.8h0M449.8 95.0h0M447.1 97.1h0M454.4 93.7h0M457.8 96.2h0M445.3 93.4h0M456.3 106.9h0M440.3 101.5h0M446.4 102.9h0M445.4 109.2h0M443.1 106.8h0M444.1 103.7h0M447.1 101.5h0M448.9 103.3h0M440.3 93.1h0M457.4 96.6h0M445.8 96.3h0M451.3 109.7h0M446.7 97.8h0M445.6 92.5h0M440.7 92.9h0M445.2 109.7h0M441.7 101.9h0M442.9 92.7h0M454.9 94.3h0M441.6 106.7h0M443.6 95.6h0M456.9 95.5h0M454.8 97.5h0M449.7 97.6h0M445.4 108.8h0M465.6 89.2h0M462.9 88.2h0M456.5 86.1h0M461.7 105.8h0M463.2 107.2h0M457.9 89.3h0M466.0 97.5h0M461.2 111.5h0M464.9 106.2h0M460.9 91.0h0M463.2 96.5h0M462.6 90.7h0M466.1 88.9h0M454.3 110.0h0M461.7 102.1h0M455.8 93.9h0M455.5 97.2h0M461.7 105.9h0M462.6 94.4h0M457.0 106.9h0M466.6 90.6h0M458.2 92.3h0M466.6 84.5h0M465.4 107.0h0M457.0 104.4h0M457.5 103.1h0M458.4 111.5h0M458.9 108.4h0M460.6 95.2h0M466.5 89.9h0M464.7 102.3h0M458.5 108.7h0M463.6 109.8h0M458.6 103.6h0M453.6 106.1h0M457.3 111.3h0M464.5 96.6h0M455.3 107.4h0M455.5 113.2h0M456.1 109.8h0M459.2 112.1h0M456.4 111.8h0M456.5 97.4h0M461.5 100.6h0M462.1 104.9h0M462.0 107.6h0M459.1 104.9h0M465.7 99.7h0M465.4 96.4h0M451.8 112.0h0M456.8 110.2h0M454.1 116.7h0M455.1 101.6h0M461.1 101.8h0M462.0 103.5h0M455.1 96.1h0M453.1 115.4h0M457.2 100.2h0M452.9 114.8h0M461.7 110.1h0M463.5 98.3h0M462.2 93.9h0M461.0 100.4h0M460.9 97.9h0M455.4 109.4h0M465.9 100.9h0M452.0 116.8h0M462.9 95.0h0M456.3 105.5h0M463.0 106.1h0M469.2 83.4h0M462.6 80.0h0M470.2 94.5h0M464.6 84.0h0M463.1 89.1h0M467.0 79.8h0M472.3 83.0h0M466.2 90.0h0M474.7 81.8h0M466.7 77.4h0M472.9 92.2h0M467.6 85.8h0M464.2 94.4h0M467.8 77.7h0M461.6 83.4h0M463.0 93.3h0M469.8 85.6h0M472.5 91.2h0"/>
<path stroke="#2ca02c" stroke-width="1.3" stroke-linecap="square" d="M522.1 121.7h0M520.4 121.1h0M520.4 122.1h0M519.5 121.7h0M523.4 121.4h0M519.0 121.7h0M522.4 123.3h0M521.1 121.7h0M520.0 122.7h0M519.2 122.9h0M522.7 122.1h0M521.6 122.5h0M522.9 121.5h0M522.4 121.9h0M519.4 122.2h0M520.3 121.6h0M518.2 121.6h0M522.8 123.2h0M521.6 122.8h0M519.8 122.1h0M521.0 121.5h0M519.1 122.2h0M520.1 121.5h0M521.2 122.0h0M522.1 122.1h0M520.1 122.2h0M520.3 121.7h0M520.0 122.5h0M521.6 122.8h0M518.1 121.9h0M520.0 122.2h0M519.9 121.8h0M521.8 122.2h0M518.9 122.8h0M529.7 117.0h0M529.3 117.2h0M530.2 117.0h0M527.0 120.4h0M527.6 120.7h0M528.9 118.9h0M524.7 117.6h0M527.1 117.7h0M529.9 119.6h0M528.7 118.4h0M528.2 119.4h0M527.3 119.8h0M528.2 121.7h0M529.4 119.9h0M528.3 119.7h0M528.7 119.8h0M530.1 117.8h0M526.9 119.9h0M530.9 116.0h0M529.4 120.8h0M530.7 117.6h0M530.0 121.6h0M529.7 118.9h0M527.1 118.5h0M526.9 121.9h0M529.0 118.3h0M525.6 120.3h0M526.9 118.8h0M531.0 118.4h0M533.7 114.6h0M527.0 119.7h0M522.8 125.1h0M529.1 120.2h0M530.0 118.5h0M529.5 119.3h0M529.9 115.8h0M526.7 119.1h0M532.2 117.1h0M528.8 117.0h0M528.7 118.7h0M528.6 118.9h0M529.1 118.0h0M518.1 111.9h0M517.7 111.6h0M517.6 112.4h0M517.7 111.9h0M517.7 110.5h0M518.1 110.9h0M517.5 118.6h0M516.8 118.2h0M524.3 114.0h0M524.1 114.4h0"/>
<path stroke="#d62728" stroke-width="1.3" stroke-linecap="square" d="M434.4 17.6h0M434.1 16.0h0M433.9 15.9h0M434.5 18.9h0M433.8 16.4h0M435.0 17.7h0M434.5 16.0h0M434.4 18.1h0M432.8 16.6h0M432.1 15.5h0M432.2 16.9h0M432.9 17.6h0M434.6 17.0h0M431.4 16.5h0M434.3 17.3h0M432.6 16.6h0M430.2 23.1h0M431.8 23.1h0M431.0 24.4h0M430.5 23.6h0M431.1 23.8h0M430.0 23.8h0M432.1 22.5h0M431.7 23.8h0M430.5 25.3h0M431.6 22.7h0M431.1 24.2h0M430.8 24.2h0M430.9 24.2h0M432.2 23.2h0M433.4 20.4h0M433.7 19.2h0M432.4 20.5h0M433.7 23.1h0M431.7 19.3h0M434.6 18.1h0M432.5 20.7h0M434.3 22.5h0M432.7 20.3h0M432.1 23.3h0M432.6 20.4h0M433.5 20.9h0M433.2 19.2h0M433.2 20.3h0M434.2 22.4h0M432.7 22.0h0M435.9 25.8h0M436.5 25.7h0M435.2 24.6h0M436.1 22.5h0M436.9 24.4h0M435.8 27.1h0M436.2 24.2h0M436.8 25.8h0M436.7 25.0h0M437.3 26.2h0M435.4 34.1h0M435.1 32.7h0M435.3 32.9h0M436.2 34.1h0"/>
<path stroke="#9467bd" stroke-width="1.3" stroke-linecap="square" d="M447.3 129.9h0M451.4 129.5h0M447.6 131.5h0M450.8 130.1h0M449.7 131.3h0M447.0 130.4h0M447.7 128.2h0M450.0 127.2h0M449.9 132.3h0M447.4 128.5h0M447.1 131.2h0M449.1 130.8h0M449.6 129.0h0M448.1 126.7h0M449.1 130.5h0M446.8 132.8h0M449.0 124.0h0M447.7 127.0h0M449.7 135.7h0M446.6 130.4h0M449.9 138.0h0M451.4 139.9h0M448.6 140.4h0M448.7 137.9h0M452.3 138.7h0M448.7 135.9h0M449.5 137.2h0M452.2 134.7h0M451.1 138.5h0M451.2 138.2h0M452.9 138.3h0M451.8 138.4h0M453.3 133.5h0M452.5 136.8h0M449.8 135.4h0M447.1 136.5h0M449.1 138.3h0M447.8 140.2h0M450.8 136.8h0M449.1 135.7h0M448.4 136.2h0M450.3 136.9h0M447.9 136.8h0M448.8 137.6h0M453.5 138.6h0M449.8 134.1h0M447.9 133.9h0M451.5 135.8h0M450.4 136.1h0M450.5 140.1h0M449.1 136.6h0M448.9 139.0h0M448.6 135.0h0M447.9 134.5h0M451.1 142.4h0M448.6 139.2h0M450.7 135.1h0M449.8 136.8h0M449.1 141.2h0M447.1 138.1h0"/>
<path stroke="#8c564b" stroke-width="1.3" stroke-linecap="square" d="M413.2 57.0h0M412.4 57.2h0M413.2 58.2h0M412.9 57.3h0M412.3 58.4h0M413.0 58.9h0M411.6 57.7h0M411.2 55.7h0M414.7 58.3h0M412.9 58.4h0M410.2 54.0h0M412.5 57.1h0M411.5 56.0h0M412.1 57.2h0"/>
<path stroke="#e377c2" stroke-width="1.3" stroke-linecap="square" d="M435.0 133.7h0M435.9 135.1h0M435.6 134.6h0M434.2 132.3h0M437.2 136.1h0"/>
<rect x="531.2" y="10.3" width="2" height="1.4" fill="#1f77b4" fill-opacity="0.75"/>
<text x="536.6" y="11.8" class="lg" text-anchor="middle">−1</text>
<rect x="531.2" y="12.9" width="2" height="1.4" fill="#ff7f0e" fill-opacity="0.75"/>
<text x="536.6" y="14.3" class="lg" text-anchor="middle">0</text>
<rect x="531.2" y="15.4" width="2" height="1.4" fill="#2ca02c" fill-opacity="0.75"/>
<text x="536.6" y="16.9" class="lg" text-anchor="middle">1</text>
<rect x="531.2" y="17.9" width="2" height="1.4" fill="#d62728" fill-opacity="0.75"/>
<text x="536.6" y="19.4" class="lg" text-anchor="middle">2</text>
<rect x="531.2" y="20.5" width="2" height="1.4" fill="#9467bd" fill-opacity="0.75"/>
<text x="536.6" y="21.9" class="lg" text-anchor="middle">3</text>
<rect x="531.2" y="23.1" width="2" height="1.4" fill="#8c564b" fill-opacity="0.75"/>
<text x="536.6" y="24.5" class="lg" text-anchor="middle">4</text>
<rect x="531.2" y="25.6" width="2" height="1.4" fill="#e377c2" fill-opacity="0.75"/>
<text x="536.6" y="27.0" class="lg" text-anchor="middle">5</text>
</g>
<g id="pd">
<rect x="14.5" y="181.5" width="165" height="141" fill="none" stroke="#c2c2c2" stroke-width="1"/>
<line x1="31.4" y1="323" x2="31.4" y2="324" stroke="#999" stroke-width="0.6"/>
<text x="31.4" y="325.3" class="tk" text-anchor="middle">−20</text>
<line x1="56.8" y1="323" x2="56.8" y2="324" stroke="#999" stroke-width="0.6"/>
<text x="56.8" y="325.3" class="tk" text-anchor="middle">−10</text>
<line x1="82.2" y1="323" x2="82.2" y2="324" stroke="#999" stroke-width="0.6"/>
<text x="82.2" y="325.3" class="tk" text-anchor="middle">0</text>
<line x1="107.5" y1="323" x2="107.5" y2="324" stroke="#999" stroke-width="0.6"/>
<text x="107.5" y="325.3" class="tk" text-anchor="middle">10</text>
<line x1="132.8" y1="323" x2="132.8" y2="324" stroke="#999" stroke-width="0.6"/>
<text x="132.8" y="325.3" class="tk" text-anchor="middle">20</text>
<line x1="158.2" y1="323" x2="158.2" y2="324" stroke="#999" stroke-width="0.6"/>
<text x="158.2" y="325.3" class="tk" text-anchor="middle">30</text>
<line x1="13" y1="204.9" x2="14" y2="204.9" stroke="#999" stroke-width="0.6"/>
<text x="12.7" y="205.6" class="tk" text-anchor="end">20</text>
<line x1="13" y1="232.8" x2="14" y2="232.8" stroke="#999" stroke-width="0.6"/>
<text x="12.7" y="233.5" class="tk" text-anchor="end">10</text>
<line x1="13" y1="260.7" x2="14" y2="260.7" stroke="#999" stroke-width="0.6"/>
<text x="12.7" y="261.4" class="tk" text-anchor="end">0</text>
<line x1="13" y1="288.6" x2="14" y2="288.6" stroke="#999" stroke-width="0.6"/>
<text x="12.7" y="289.3" class="tk" text-anchor="end">−10</text>
<line x1="13" y1="316.5" x2="14" y2="316.5" stroke="#999" stroke-width="0.6"/>
<text x="12.7" y="317.2" class="tk" text-anchor="end">−20</text>
<path stroke="#1f77b4" stroke-width="1.3" stroke-linecap="square" d="M75.1 207.1h0M74.7 205.7h0M74.9 205.9h0M75.9 207.1h0M103.6 215.6h0M103.7 214.6h0M39.2 237.5h0M38.2 238.0h0M112.0 263.8h0M111.0 263.5h0M52.8 230.1h0M52.0 230.3h0M52.7 231.3h0M52.5 230.4h0M51.9 231.5h0M52.6 232.0h0M51.2 230.8h0M50.8 228.8h0M54.3 231.4h0M52.4 231.5h0M49.8 227.1h0M52.1 230.2h0M51.0 229.1h0M51.7 230.3h0M47.5 243.8h0M49.5 248.1h0M46.5 246.3h0M48.3 244.4h0M51.3 245.3h0M52.6 244.8h0M50.3 245.9h0M48.1 247.5h0M49.3 247.5h0M49.5 244.2h0M49.4 246.4h0M51.5 244.5h0M49.5 242.9h0M50.9 244.2h0M46.0 246.2h0M51.8 243.3h0M47.4 244.8h0M47.3 247.1h0M48.0 244.9h0M50.7 244.8h0M50.4 244.4h0M47.1 242.7h0M53.3 245.7h0M50.1 246.3h0M49.9 246.4h0M53.4 244.3h0M46.5 244.3h0M46.9 247.8h0M51.2 247.7h0M50.8 251.0h0M47.4 241.3h0M50.7 247.5h0M51.2 247.2h0M49.1 246.6h0M55.2 256.5h0M52.5 249.6h0M47.7 245.6h0M52.4 251.5h0M52.5 251.1h0M51.7 251.8h0M55.7 255.6h0M54.0 249.8h0M52.0 251.6h0M50.6 249.3h0M32.3 273.4h0M34.0 275.3h0M33.1 275.1h0M30.6 273.6h0M31.8 274.4h0M33.0 275.5h0M29.0 275.6h0M29.1 274.3h0M31.7 271.3h0M32.7 275.8h0M32.0 274.6h0M31.5 273.5h0M31.8 274.4h0M32.7 273.1h0M33.0 275.8h0M32.1 274.6h0M33.8 272.2h0M33.6 276.0h0M33.1 276.3h0M30.8 275.0h0M34.0 276.4h0M33.0 272.5h0M33.8 277.8h0M35.0 276.0h0M28.5 277.4h0M32.1 270.4h0M33.4 272.5h0M29.2 274.2h0M35.6 274.8h0M33.1 279.0h0M36.4 275.3h0M31.8 273.0h0M30.7 276.4h0M33.4 275.7h0M34.9 274.0h0M34.9 283.2h0M35.6 283.9h0M35.4 281.1h0M35.4 279.7h0M33.0 282.9h0M34.9 282.3h0M32.9 281.0h0M34.2 280.0h0M32.2 281.0h0M36.0 282.5h0M35.6 292.7h0M34.5 293.9h0M33.6 296.6h0M34.8 291.8h0M37.4 295.5h0M36.8 296.0h0M37.3 295.8h0M38.5 296.6h0M36.8 296.6h0M33.1 295.4h0M35.5 296.2h0M33.3 299.0h0M36.3 293.3h0M32.6 295.2h0M35.9 294.3h0M36.2 294.5h0M37.2 294.3h0M36.0 297.7h0M41.2 293.7h0M35.1 294.1h0M37.6 293.4h0M35.1 295.7h0M48.9 289.9h0M49.6 288.5h0M48.2 290.5h0M50.5 290.8h0M47.8 290.5h0M51.4 291.7h0M50.2 290.0h0M51.2 290.3h0M48.6 290.1h0M52.3 291.3h0M51.9 290.5h0M51.6 290.3h0M50.1 294.0h0M51.4 290.4h0M50.2 291.4h0M52.6 306.1h0M49.1 306.3h0M51.2 306.8h0M52.8 307.0h0M52.2 305.3h0M52.2 309.2h0M52.1 307.0h0M51.4 308.8h0M50.1 306.5h0M51.7 307.6h0M50.7 307.0h0M50.8 306.8h0M40.8 304.8h0M40.8 306.5h0M40.1 305.6h0M41.4 304.9h0M41.0 304.9h0M41.8 307.6h0M41.7 313.2h0M40.6 313.5h0M40.1 314.9h0M39.0 314.4h0M40.0 314.8h0M40.2 312.7h0M63.5 297.0h0M63.1 296.6h0M62.0 292.1h0M64.7 296.9h0M63.3 295.9h0M65.0 295.0h0M61.7 295.4h0M65.3 293.4h0M65.3 294.7h0M60.9 297.9h0M62.8 293.5h0M62.3 297.3h0M65.3 295.0h0M63.8 297.0h0M61.8 296.3h0M62.9 294.8h0M62.1 295.9h0M63.1 294.8h0M62.2 297.6h0M63.4 297.3h0M65.3 296.7h0M67.3 294.3h0M64.5 295.2h0M66.5 298.6h0M59.3 294.1h0M64.3 297.1h0M61.9 263.3h0M63.9 262.3h0M60.6 264.9h0M61.7 265.4h0M62.4 264.9h0M63.5 262.6h0M62.0 264.3h0M62.2 265.4h0M60.8 264.4h0M63.0 265.6h0M61.1 267.6h0M65.0 263.4h0M62.4 268.2h0M63.0 265.4h0M61.7 264.5h0M61.7 264.5h0M84.1 235.5h0M82.3 234.3h0M82.9 234.8h0M82.7 237.7h0M83.5 236.9h0M83.5 236.2h0M82.8 235.7h0M84.1 234.5h0M85.0 236.2h0M81.8 235.4h0M81.9 236.4h0M81.9 237.8h0M81.8 232.7h0M81.8 233.1h0M82.9 237.7h0M83.9 234.1h0M81.8 238.8h0M83.4 236.1h0M104.7 245.5h0M105.6 237.4h0M102.0 239.1h0M98.3 233.2h0M100.9 233.6h0M100.4 237.3h0M109.6 233.9h0M100.2 236.3h0M102.3 240.6h0M98.8 234.0h0M94.4 233.7h0M102.7 237.1h0M96.8 235.6h0M100.8 238.7h0M98.4 236.0h0M93.8 232.9h0M106.8 229.2h0M99.4 237.7h0M99.3 234.1h0M100.5 236.9h0M100.4 230.3h0M100.1 233.9h0M98.6 237.7h0M103.1 240.1h0M98.8 240.2h0M105.2 240.9h0M106.0 236.4h0M100.0 239.8h0M95.5 237.7h0M98.7 235.6h0M94.1 233.8h0M100.6 240.0h0M104.5 236.6h0M100.0 234.0h0M102.2 236.0h0M103.0 243.1h0M100.6 231.7h0M97.4 231.8h0M96.1 241.5h0M101.5 231.6h0M103.2 241.3h0M99.3 234.5h0M99.4 237.9h0M103.1 241.1h0M105.3 241.1h0M108.3 241.8h0M95.3 236.2h0M103.6 234.4h0M106.3 234.6h0M98.0 247.3h0M105.2 238.7h0M106.4 244.6h0M103.7 219.9h0M99.1 233.9h0M97.7 238.5h0M107.6 233.7h0M97.1 251.3h0M100.2 228.5h0M103.3 240.1h0M99.0 242.7h0M100.0 230.6h0M103.0 242.5h0M99.3 239.4h0M101.8 256.9h0M99.0 246.8h0M102.0 236.2h0M105.4 243.4h0M107.9 239.4h0M99.5 233.3h0M104.5 241.2h0M108.5 240.1h0M107.0 247.8h0M102.9 226.7h0M96.9 227.0h0M109.4 231.2h0M107.7 241.2h0M109.9 244.2h0M101.7 235.7h0M102.6 238.3h0M99.8 236.9h0M109.4 225.2h0M103.4 230.8h0M103.0 243.0h0M101.9 242.5h0M95.0 244.9h0M99.5 241.5h0M103.0 219.0h0M98.8 238.7h0M109.2 239.1h0M103.3 227.2h0M108.6 249.8h0M102.3 235.6h0M94.9 243.3h0M114.4 242.1h0M107.9 240.9h0M97.7 246.5h0M96.6 235.6h0M103.4 243.3h0M104.1 239.8h0M98.8 228.1h0M125.9 225.4h0M120.4 223.1h0M123.7 220.6h0M120.2 221.5h0M126.4 230.1h0M133.7 222.1h0M122.9 232.2h0M124.8 227.0h0M132.5 227.0h0M121.0 222.9h0M127.0 229.7h0M120.1 224.3h0M127.8 230.8h0M123.1 231.0h0M127.9 220.9h0M124.4 230.1h0M123.3 219.4h0M124.5 231.6h0M132.0 219.2h0M136.1 223.7h0M129.5 233.6h0M129.6 229.0h0M121.0 231.0h0M122.8 217.8h0M137.0 231.4h0M132.9 224.6h0M131.5 235.1h0M131.9 228.3h0M120.8 227.7h0M116.8 221.2h0M126.0 224.2h0M125.0 227.9h0M133.4 233.9h0M125.5 233.5h0M122.5 227.0h0M129.3 223.2h0M124.5 222.8h0M126.1 235.3h0M120.4 230.7h0M119.5 219.9h0M117.3 240.3h0M140.4 232.7h0M120.6 234.4h0M123.1 235.2h0M127.1 231.1h0M129.1 224.4h0M122.6 215.4h0M122.4 217.8h0M124.3 221.4h0M125.9 232.4h0M116.1 222.5h0M119.2 234.7h0M136.2 235.6h0M123.0 240.4h0M115.5 240.6h0M118.6 230.2h0M123.9 229.7h0M115.7 223.6h0M128.2 230.6h0M132.9 229.5h0M140.3 223.3h0M117.2 239.3h0M119.2 233.0h0M124.8 220.7h0M123.0 224.9h0M122.1 234.8h0M129.4 224.4h0M119.4 231.1h0M124.6 236.9h0M125.0 227.6h0M119.7 221.8h0M118.8 225.8h0M122.5 234.7h0M122.7 227.4h0M117.4 241.8h0M128.5 242.9h0M130.3 240.5h0M123.6 234.5h0M132.8 242.2h0M127.9 234.9h0M133.4 223.7h0M127.9 222.0h0M120.8 224.0h0M124.3 230.1h0M128.2 217.6h0M138.2 238.2h0M130.0 226.0h0M124.6 233.3h0M127.9 215.4h0M130.1 252.3h0M113.1 236.9h0M127.7 228.0h0M134.3 219.4h0M126.3 240.6h0M123.9 225.5h0M126.0 225.3h0M135.4 221.6h0M131.0 218.8h0M129.6 228.1h0M108.2 228.9h0M118.2 225.3h0M135.4 219.9h0M118.2 240.5h0M126.0 241.3h0M127.4 221.8h0M124.8 238.8h0M131.4 228.9h0M125.6 228.0h0M121.4 244.4h0M125.3 219.8h0M122.1 234.7h0M129.5 227.8h0M120.8 229.1h0M114.2 218.4h0M130.5 225.0h0M127.7 238.7h0M129.5 229.1h0M139.3 234.3h0M122.9 234.8h0M127.9 222.0h0M125.7 227.6h0M112.3 227.5h0M123.4 225.4h0M114.4 226.1h0M125.0 229.7h0M117.7 234.0h0M117.2 227.1h0M133.8 223.3h0M121.9 237.5h0M122.7 226.5h0M126.7 237.3h0M110.7 222.2h0M118.6 220.2h0M119.6 222.2h0M127.2 221.8h0M126.0 232.1h0M120.4 229.9h0M136.0 231.5h0M121.0 228.4h0M119.2 231.1h0M130.9 222.4h0M123.9 237.8h0M122.0 230.4h0M118.5 222.4h0M121.9 245.9h0M122.6 224.8h0M121.6 227.6h0M129.4 230.4h0M138.4 230.6h0M134.5 231.1h0M129.1 217.6h0M124.4 228.4h0M130.9 225.9h0M122.4 226.9h0M123.8 232.1h0M117.1 221.6h0M127.1 230.0h0M122.8 224.4h0M119.9 228.4h0M132.8 220.6h0M135.0 235.5h0M122.3 235.0h0M115.8 215.4h0M117.0 225.7h0M123.1 224.9h0M128.4 217.8h0M121.0 225.7h0M117.8 218.2h0M118.8 228.8h0M129.0 233.3h0M118.9 222.7h0M119.3 232.4h0M112.2 238.6h0M122.1 222.8h0M127.4 237.0h0M127.4 237.1h0M126.1 238.5h0M133.2 228.1h0M134.5 230.2h0M125.8 221.7h0M123.4 235.0h0M116.8 234.0h0M127.5 231.1h0M111.1 228.1h0M129.4 222.9h0M129.5 223.7h0M130.8 214.5h0M129.7 227.0h0M135.5 238.3h0M133.3 243.1h0M133.0 238.7h0M133.8 238.2h0M136.0 242.3h0M133.2 237.1h0M136.0 241.4h0M135.5 241.5h0M133.0 239.5h0M132.2 237.6h0M135.7 238.7h0M137.7 239.8h0M133.3 240.9h0M137.0 240.5h0M132.4 240.3h0M95.9 261.1h0M91.0 264.6h0M93.1 259.7h0M91.9 260.5h0M93.4 262.5h0M95.4 263.9h0M89.2 263.2h0M94.8 263.3h0M95.1 261.0h0M90.6 264.4h0M90.3 257.3h0M95.1 260.6h0M92.1 259.0h0M89.7 259.6h0M91.9 263.1h0M87.5 264.0h0M90.0 259.8h0M94.3 262.1h0M89.2 266.5h0M90.8 262.8h0M93.2 265.5h0M91.7 264.6h0M91.1 264.9h0M91.0 261.4h0M97.1 263.0h0M93.0 267.4h0M93.6 260.4h0M94.5 259.5h0M95.4 265.1h0M91.4 260.8h0M93.2 262.3h0M90.5 263.6h0M88.1 261.3h0M91.8 261.6h0M93.5 259.4h0M94.1 261.9h0M91.3 259.1h0M90.0 263.1h0M90.5 262.4h0M95.2 264.7h0M96.4 261.6h0M90.3 264.6h0M93.5 264.9h0M92.8 265.0h0M94.7 263.9h0M94.4 268.8h0M92.9 267.7h0M97.1 262.8h0M101.2 265.5h0M97.1 265.6h0M90.3 279.4h0M90.0 257.9h0M87.7 264.1h0M103.5 267.5h0M96.8 259.7h0M93.6 270.6h0M101.6 261.6h0M95.0 268.2h0M86.0 266.1h0M90.2 251.0h0M95.0 269.7h0M89.2 257.5h0M99.8 267.9h0M97.3 275.4h0M88.8 271.5h0M90.3 265.8h0M91.2 266.2h0M97.8 267.0h0M90.8 264.4h0M93.5 260.4h0M88.9 265.8h0M88.5 265.4h0M88.3 279.2h0M99.0 269.1h0M91.4 280.5h0M93.4 265.6h0M93.3 268.2h0M99.4 266.1h0M103.2 260.4h0M95.5 259.7h0M101.7 264.0h0M91.3 272.2h0M98.6 258.9h0M89.8 257.1h0M92.4 265.5h0M89.7 261.7h0M89.5 261.3h0M94.6 276.1h0M81.0 265.4h0M89.4 269.4h0M86.4 265.2h0M85.9 270.7h0M92.2 265.1h0M93.7 264.6h0M83.1 270.1h0M93.3 265.2h0M97.1 274.1h0M85.6 261.1h0M100.2 275.4h0M87.6 258.5h0M88.1 262.9h0M82.9 266.4h0M84.6 258.3h0M96.7 261.7h0M91.3 270.3h0M96.1 264.0h0M91.9 260.8h0M101.3 270.4h0M85.6 266.2h0M95.6 269.3h0M101.7 275.1h0M88.7 265.6h0M84.6 267.8h0M92.5 283.8h0M92.2 252.5h0M88.0 266.9h0M84.7 260.5h0M89.6 268.4h0M90.8 260.4h0M96.0 262.7h0M88.9 257.2h0M87.3 270.4h0M82.7 265.7h0M95.6 263.7h0M93.0 258.9h0M98.9 273.4h0M93.0 254.7h0M85.9 272.5h0M101.1 268.1h0M98.5 262.2h0M90.6 266.2h0M94.0 256.2h0M96.8 274.8h0M85.3 257.4h0M93.6 261.9h0M81.6 286.5h0M84.6 284.9h0M87.0 285.7h0M83.5 285.6h0M83.2 284.6h0M84.9 284.9h0M83.9 287.5h0M85.5 286.5h0M85.1 286.1h0M86.2 285.5h0M86.7 284.4h0M84.1 283.9h0M90.8 291.6h0M92.2 290.7h0M91.1 290.9h0M90.5 290.3h0M91.1 289.8h0M75.4 292.6h0M74.4 291.3h0M73.6 294.8h0M73.6 294.4h0M76.0 292.1h0M73.8 293.8h0M77.3 291.4h0M74.9 293.8h0M75.6 294.9h0M74.5 293.2h0M73.7 295.1h0M74.4 289.9h0M74.3 227.5h0M113.7 215.0h0M113.2 254.4h0M88.6 281.8h0M117.2 252.5h0M83.8 231.6h0M39.8 289.4h0M103.6 217.8h0M114.1 248.3h0M82.0 233.8h0M93.2 254.3h0M106.9 239.5h0M93.1 256.5h0M63.1 263.6h0M47.2 257.4h0M67.6 242.9h0M94.1 281.3h0M94.0 240.0h0M133.8 232.4h0M128.9 238.7h0M73.7 281.9h0M46.3 286.4h0M71.9 285.4h0M85.2 240.4h0M120.4 235.6h0M82.7 273.4h0M47.9 277.0h0M118.3 234.4h0M94.7 277.9h0M87.5 232.1h0M93.5 243.1h0M81.9 260.6h0M99.3 252.4h0M71.1 254.8h0M26.4 282.1h0M59.3 260.3h0M134.7 220.8h0M46.8 312.1h0M68.0 239.1h0M82.6 261.3h0M126.6 219.2h0M78.0 276.2h0M79.5 236.6h0M59.0 258.5h0M74.1 269.6h0M52.5 311.4h0M23.8 288.4h0M105.2 247.7h0M64.8 266.4h0M129.4 247.3h0M126.1 245.8h0M34.8 274.4h0M36.6 303.6h0M83.4 273.1h0M129.5 248.7h0M99.1 282.2h0M99.9 270.0h0M109.3 222.3h0M45.9 289.1h0M43.6 267.8h0M51.7 257.7h0M73.8 241.8h0M86.4 285.9h0M121.4 223.2h0M77.3 275.4h0M27.4 294.0h0M65.1 261.6h0M61.0 242.1h0M46.1 257.7h0M39.9 297.9h0M137.2 223.9h0M132.1 221.5h0M102.0 244.8h0M98.9 277.8h0M58.6 247.9h0M97.3 271.0h0M79.2 283.0h0M79.4 287.5h0M42.3 246.7h0M100.3 243.5h0M95.1 255.5h0M38.5 273.5h0M134.9 222.3h0M82.2 254.2h0M69.2 241.3h0M52.9 238.2h0M32.9 270.1h0M73.9 286.2h0M73.9 278.0h0M33.8 267.9h0M38.0 266.6h0M73.4 252.5h0M87.8 277.0h0M90.2 282.6h0M33.1 259.8h0M114.1 243.9h0M44.9 254.6h0M28.9 257.0h0M66.1 295.2h0M46.6 275.9h0M52.7 270.7h0M53.3 245.2h0M125.7 219.3h0M103.9 236.0h0M130.2 243.7h0M114.9 221.7h0M75.1 265.3h0M72.0 252.1h0M69.0 251.0h0M112.4 223.8h0M72.6 286.0h0M119.3 234.7h0M101.3 273.7h0M90.2 274.9h0M76.2 250.6h0M64.7 292.0h0M87.1 255.8h0M56.1 254.7h0M32.4 288.8h0M84.3 283.6h0M118.1 218.8h0M35.1 267.7h0M42.5 281.7h0M98.8 246.5h0M46.2 306.7h0M59.6 273.2h0M88.8 287.4h0M104.9 263.6h0M84.3 277.7h0M44.7 296.5h0M131.2 238.0h0M91.8 273.1h0M29.0 274.5h0M49.4 253.4h0M41.2 244.9h0M125.6 226.2h0M67.2 266.2h0M73.6 261.7h0M71.3 285.1h0M74.1 264.1h0M114.4 225.1h0M68.0 293.1h0M61.0 298.7h0M106.5 218.3h0M66.7 291.6h0M83.6 282.2h0M93.2 242.8h0M47.8 270.0h0M136.9 227.9h0M50.8 262.6h0M96.0 245.9h0M33.4 298.8h0M40.2 263.7h0M87.4 257.0h0M107.5 237.7h0M42.7 308.5h0M32.3 304.3h0M66.4 284.1h0M105.0 258.0h0M85.4 245.1h0M52.3 241.9h0M125.8 250.7h0M32.8 277.9h0M130.2 217.6h0M47.4 306.7h0M81.4 231.3h0M88.8 288.0h0M97.5 258.4h0M93.5 276.9h0M49.7 240.1h0M125.3 234.7h0M66.7 289.4h0M60.0 251.1h0M129.4 235.0h0M49.4 303.8h0M71.0 265.0h0M37.1 281.5h0M98.1 252.3h0M68.8 244.6h0M98.6 283.5h0M52.7 238.5h0M47.8 306.4h0M72.7 291.6h0M40.5 280.4h0M125.8 230.8h0M45.8 270.2h0M75.4 279.5h0M124.7 230.4h0M42.1 265.7h0M71.5 258.7h0M77.2 239.9h0M127.4 232.2h0M66.5 292.3h0M90.1 261.2h0M44.6 305.8h0M78.4 244.6h0M71.1 262.6h0M130.5 249.1h0M55.0 280.3h0M68.5 286.7h0M108.4 253.3h0M50.2 268.7h0M58.9 259.5h0M119.6 223.9h0M86.7 236.2h0M32.1 263.2h0M107.8 245.5h0M40.6 250.7h0M40.4 299.5h0M32.0 289.1h0M60.5 287.8h0M112.8 227.7h0M88.4 279.3h0M134.4 217.7h0M89.4 233.0h0M115.7 237.6h0M109.3 247.7h0M98.5 282.8h0M72.9 283.8h0M88.7 250.8h0M122.4 251.4h0M80.6 252.3h0M65.4 266.4h0M42.3 300.4h0M85.1 285.6h0M37.9 309.9h0M117.4 240.6h0M97.8 268.3h0M112.6 252.9h0M50.2 306.4h0M70.8 263.5h0M103.6 277.2h0M81.4 291.7h0M67.9 240.6h0M106.5 231.1h0M26.0 307.4h0M133.4 241.6h0M67.7 285.3h0M63.7 295.8h0M129.8 228.0h0M102.9 252.1h0M41.4 249.4h0M87.2 275.8h0M62.8 298.2h0M87.2 274.0h0M50.4 292.7h0M55.6 244.6h0M38.4 275.1h0M112.8 226.8h0M84.6 268.7h0M33.3 267.7h0M138.5 223.2h0M124.2 238.3h0M69.7 289.4h0M122.1 234.0h0M136.6 224.3h0M99.3 238.3h0M133.3 227.1h0M129.8 230.8h0M110.4 240.8h0M133.0 226.7h0M66.4 254.7h0M84.4 246.8h0M50.4 293.6h0M53.9 247.7h0M79.3 241.8h0M107.5 222.6h0M59.2 256.7h0M70.9 261.5h0M119.9 236.2h0M115.0 245.7h0M104.5 226.8h0M93.0 229.9h0M67.3 233.9h0M56.5 268.9h0M92.9 255.6h0M125.6 231.2h0M44.1 260.9h0M95.2 247.1h0M139.1 232.6h0M87.5 282.4h0M66.8 241.5h0M88.7 252.9h0M78.8 232.1h0M135.8 229.5h0M34.1 278.5h0M119.6 221.8h0M94.0 241.0h0M30.3 293.3h0M56.5 256.5h0M36.1 247.6h0M89.8 244.3h0M135.5 234.1h0M62.0 267.4h0M94.6 248.7h0M75.3 242.8h0M69.7 253.0h0M69.8 285.9h0M33.0 295.6h0M71.0 254.2h0M34.4 265.0h0M112.4 222.4h0M55.2 248.9h0M54.7 257.8h0M91.1 225.1h0M134.0 248.0h0M97.1 281.0h0M58.0 260.2h0M57.8 248.0h0M78.7 283.2h0M32.4 306.5h0M103.7 223.0h0M63.8 247.6h0M74.8 290.4h0M30.5 307.8h0M77.6 251.1h0M104.1 242.1h0M105.8 256.2h0M77.8 233.2h0M71.1 292.5h0M129.7 230.1h0M94.0 240.8h0M50.7 264.1h0M92.9 258.3h0M93.5 255.6h0M58.3 265.1h0M105.5 231.7h0M134.7 239.1h0M138.2 220.1h0M89.4 257.0h0M89.9 254.8h0M79.7 250.3h0M46.1 243.6h0M63.0 250.6h0M42.0 262.0h0M33.9 302.0h0M59.8 239.9h0M39.2 262.7h0M104.6 257.5h0M101.0 261.6h0M80.9 245.5h0M71.6 262.7h0M61.5 297.7h0M61.7 293.5h0M119.5 238.7h0M93.3 235.3h0M64.6 269.2h0M135.8 228.9h0M29.3 268.6h0M133.5 218.7h0M85.7 258.4h0M85.1 285.9h0M28.3 268.7h0M38.5 300.7h0M31.8 280.8h0M104.8 241.9h0M91.5 247.5h0M51.5 240.4h0M30.9 295.5h0M83.9 261.4h0M95.2 266.0h0M58.0 266.4h0M37.0 270.9h0M124.7 239.6h0M86.9 249.9h0M61.6 254.9h0M52.3 250.2h0M40.0 248.0h0M126.4 237.8h0M33.2 280.4h0M80.4 245.6h0M52.9 307.1h0M32.7 304.7h0M117.4 222.8h0M84.1 235.6h0M64.9 233.1h0M61.7 239.3h0M134.8 230.2h0M88.7 282.3h0M38.8 267.9h0M44.5 250.9h0M85.2 273.3h0M60.3 247.1h0M103.5 263.4h0M107.3 229.5h0M38.2 288.6h0M123.9 250.7h0M112.7 240.9h0M137.5 244.4h0M91.9 258.9h0M37.4 261.6h0M75.5 275.6h0M86.4 277.2h0M22.0 298.3h0M128.5 235.6h0M80.1 243.5h0M75.0 283.7h0M59.0 281.4h0M138.2 237.9h0M56.2 259.4h0M104.3 236.6h0M126.2 235.5h0M56.7 274.9h0M108.5 225.1h0M54.8 302.7h0M70.5 264.8h0M50.1 239.6h0M81.8 243.9h0M39.8 295.0h0M110.6 244.2h0M134.4 231.8h0M83.7 268.5h0M80.4 292.4h0M115.1 219.2h0M85.9 258.7h0M69.0 268.5h0M95.3 285.3h0M34.8 283.2h0M103.1 276.0h0M66.4 261.0h0M51.6 307.0h0M89.1 232.4h0M54.2 273.8h0M117.5 247.4h0M88.7 240.3h0M47.4 282.1h0M44.6 283.8h0M87.2 231.9h0M56.8 267.4h0M23.0 299.3h0M102.7 255.8h0M120.9 233.8h0M78.5 269.6h0M115.5 217.0h0M63.9 262.2h0M47.4 258.7h0M56.2 253.3h0M45.2 243.1h0M128.2 224.9h0M49.5 258.5h0M28.5 250.6h0M27.8 309.7h0M79.1 235.4h0M72.8 252.2h0M126.1 227.2h0M45.7 242.7h0M79.0 275.0h0M53.6 267.8h0M80.4 244.3h0M48.3 250.3h0M108.5 230.8h0M67.4 251.7h0M50.2 296.0h0M57.4 255.2h0M35.9 304.4h0M65.2 285.0h0M23.7 284.6h0M74.6 282.3h0M41.0 267.4h0M120.6 230.6h0M76.5 232.7h0M79.2 260.3h0M105.1 248.1h0M78.7 282.3h0M54.2 255.1h0M126.4 235.1h0M129.9 237.3h0M31.0 266.1h0M118.1 225.5h0M99.0 238.2h0M124.9 237.0h0M72.1 272.4h0M51.5 256.8h0M28.7 293.1h0M112.4 239.7h0M120.2 221.8h0M72.0 250.0h0M127.4 229.6h0M99.0 246.8h0M55.6 242.0h0M34.8 293.4h0M25.9 295.9h0M54.8 292.3h0M102.4 271.0h0M84.2 274.5h0M62.4 269.5h0M74.0 255.5h0M52.7 307.9h0M133.4 218.8h0M78.0 238.1h0M35.6 279.8h0M116.6 241.3h0M34.4 270.8h0M76.3 245.5h0M98.0 234.1h0M62.2 246.1h0M88.8 236.6h0M97.3 252.4h0M85.6 254.3h0M57.2 242.6h0M52.2 243.8h0M118.7 219.1h0M43.1 310.5h0M82.5 243.4h0M43.0 268.6h0M134.0 235.5h0M88.6 277.5h0M105.9 257.6h0M58.3 249.8h0M30.1 307.7h0M51.4 268.7h0M28.4 269.9h0M97.9 222.1h0M137.3 230.6h0M52.0 288.6h0M49.0 245.8h0M126.4 243.2h0M84.1 255.7h0M101.5 237.1h0M41.5 245.9h0M75.1 276.4h0M133.8 243.6h0M103.4 252.7h0M102.6 249.8h0M90.8 284.7h0M65.6 263.7h0M86.1 286.3h0M69.0 285.7h0M84.1 289.2h0M123.1 216.0h0M67.4 289.4h0M123.8 251.2h0M78.2 268.3h0M33.1 288.9h0M32.6 292.9h0M41.1 295.2h0M31.4 291.9h0M29.0 291.3h0M38.9 294.2h0M29.4 295.6h0M27.9 283.9h0M31.3 294.7h0M34.6 296.0h0M38.2 296.1h0M40.1 296.8h0M32.0 286.3h0M37.6 290.9h0M40.0 295.4h0M32.4 281.6h0M39.4 293.0h0M32.0 280.3h0M27.9 284.2h0M31.9 283.4h0M28.3 282.6h0M33.1 281.1h0M30.8 288.0h0M41.1 296.7h0M34.0 281.7h0M31.8 292.7h0M34.1 290.6h0M39.3 292.4h0M32.3 279.9h0M35.9 291.5h0M83.5 266.2h0M87.5 268.2h0M82.3 272.1h0M96.6 271.7h0M92.1 271.9h0M86.4 267.7h0M82.2 279.1h0M86.8 270.3h0M97.4 281.0h0M83.7 273.0h0M89.4 268.2h0M86.8 270.3h0M94.1 266.9h0M97.5 269.4h0M84.9 266.5h0M96.0 280.1h0M79.9 274.7h0M86.1 276.1h0M85.0 282.4h0M82.8 280.0h0M83.7 276.9h0M86.8 274.7h0M88.6 276.5h0M79.9 266.3h0M97.1 269.7h0M85.4 269.5h0M90.9 282.9h0M86.3 271.0h0M85.3 265.7h0M80.3 266.0h0M84.8 282.9h0M81.3 275.1h0M82.6 265.8h0M94.6 267.5h0M81.2 279.9h0M83.3 268.8h0M96.6 268.7h0M94.5 270.7h0M89.4 270.8h0M85.1 282.0h0M105.3 262.4h0M102.6 261.4h0M96.2 259.3h0M101.4 279.0h0M102.9 280.4h0M97.6 262.5h0M105.7 270.7h0M100.9 284.7h0M104.6 279.4h0M100.6 264.1h0M102.9 269.7h0M102.3 263.9h0M105.8 262.1h0M93.9 283.2h0M101.3 275.3h0M95.5 267.0h0M95.2 270.4h0M101.4 279.1h0M102.3 267.6h0M96.7 280.1h0M106.3 263.8h0M97.9 265.5h0M106.3 257.7h0M105.1 280.2h0M96.7 277.6h0M97.2 276.3h0M98.1 284.7h0M98.5 281.6h0M100.3 268.4h0M106.2 263.0h0M104.4 275.5h0M98.2 281.9h0M103.3 283.0h0M98.3 276.8h0M93.3 279.3h0M97.0 284.5h0M104.2 269.7h0M95.0 280.6h0M95.2 286.4h0M95.8 283.0h0M98.9 285.3h0M96.1 285.0h0M96.2 270.6h0M101.2 273.8h0M101.7 278.1h0M101.7 280.8h0M98.8 278.1h0M105.4 272.9h0M105.1 269.6h0M91.4 285.2h0M96.4 283.4h0M93.8 289.9h0M94.8 274.8h0M100.8 275.0h0M101.7 276.7h0M94.8 269.3h0M92.8 288.7h0M96.9 273.3h0M92.6 288.0h0M101.4 283.3h0M103.2 271.5h0M101.8 267.0h0M100.7 273.6h0M100.6 271.1h0M95.0 282.6h0M105.6 274.1h0M91.7 290.1h0M102.6 268.2h0M96.0 278.7h0M102.7 279.3h0M108.9 256.5h0M102.2 253.2h0M110.0 267.7h0M104.3 257.2h0M102.8 262.2h0M106.7 253.0h0M112.0 256.2h0M105.9 263.2h0M114.4 255.0h0M106.4 250.6h0M112.7 265.4h0M107.3 259.0h0M103.9 267.6h0M107.5 250.8h0M101.3 256.5h0M102.6 266.5h0M109.5 258.7h0M112.2 264.4h0"/>
<path stroke="#ff7f0e" stroke-width="1.3" stroke-linecap="square" d="M69.5 277.8h0M68.6 280.1h0M66.9 281.3h0M59.9 280.0h0M63.8 281.1h0M66.4 275.2h0M68.3 275.1h0M64.2 273.0h0M67.0 279.6h0M70.4 277.6h0M70.5 278.1h0M66.8 279.8h0M70.5 276.9h0M66.3 277.5h0M67.4 275.1h0M70.4 276.7h0M68.6 275.4h0M68.3 279.3h0M65.8 284.5h0M68.3 283.7h0M70.2 275.9h0M65.9 279.4h0M67.3 278.2h0M66.2 272.2h0M66.4 270.9h0M68.3 275.7h0M64.8 277.3h0M68.0 273.4h0M61.5 274.6h0M60.6 274.9h0M72.2 274.6h0M69.2 273.6h0M68.1 277.0h0M66.9 279.8h0M72.7 278.6h0M67.5 274.9h0M69.0 277.2h0M69.8 277.9h0M72.7 271.6h0M66.2 280.8h0M66.0 275.5h0M66.3 273.6h0M67.5 285.8h0M70.8 274.4h0M64.3 276.7h0M70.3 275.4h0M64.9 280.8h0M69.9 276.8h0M63.5 273.0h0M64.9 270.9h0M69.5 276.0h0M68.7 284.0h0M70.9 274.3h0M69.9 281.7h0M64.7 274.9h0M66.6 280.9h0M62.3 275.9h0M71.3 282.1h0M70.8 276.7h0M62.7 277.4h0M61.6 276.7h0M73.3 277.5h0M63.7 279.7h0M63.7 280.3h0M65.9 278.9h0"/>
<path stroke="#2ca02c" stroke-width="1.3" stroke-linecap="square" d="M90.9 212.8h0M90.5 209.2h0M88.5 215.3h0M86.5 216.6h0M87.3 216.3h0M89.1 216.4h0M91.0 210.4h0M93.3 218.1h0M90.6 213.7h0M90.4 211.8h0M93.0 213.0h0M90.7 212.3h0M89.5 211.0h0M93.3 214.0h0M92.7 214.4h0M89.4 213.5h0M89.6 214.4h0M90.0 213.6h0M88.0 212.3h0M94.1 212.6h0M88.6 215.2h0M93.6 210.6h0M90.3 212.7h0M87.2 216.3h0M90.7 214.6h0M89.3 215.6h0M89.7 214.0h0M88.5 211.2h0M93.4 213.0h0M91.3 214.3h0M89.9 213.0h0M92.0 213.6h0M90.5 214.4h0M93.1 216.1h0M91.5 212.9h0M88.0 216.8h0M92.7 214.0h0M91.8 216.4h0M92.4 216.8h0M89.8 218.3h0M88.3 216.6h0M91.8 216.6h0M94.5 218.2h0M88.5 210.0h0M92.4 211.7h0M90.7 216.6h0M87.5 208.9h0M91.3 214.5h0M89.8 215.2h0M87.6 209.0h0M90.1 211.2h0M84.9 217.1h0M90.4 216.7h0M87.2 212.4h0M87.2 211.5h0M91.3 211.9h0M91.9 216.4h0M97.8 209.5h0M93.8 214.7h0M90.6 209.3h0M89.0 218.1h0M90.4 215.4h0"/>
<path stroke="#d62728" stroke-width="1.3" stroke-linecap="square" d="M38.9 255.9h0M34.8 259.4h0M33.0 253.8h0M28.7 259.5h0M38.1 257.6h0M37.1 255.3h0M35.6 254.2h0M34.2 255.1h0M40.0 256.6h0M34.6 253.3h0M32.7 259.6h0M36.6 255.2h0M33.7 251.7h0M34.6 257.5h0M33.5 254.3h0M34.1 255.3h0M29.4 254.3h0M31.9 257.5h0M32.2 256.6h0M40.0 254.0h0M32.8 255.5h0M34.8 252.1h0M36.4 260.8h0M34.0 254.4h0M31.3 255.9h0M30.6 251.7h0M39.2 252.3h0M38.5 259.4h0M35.7 256.6h0M41.5 254.4h0M32.8 251.0h0M35.0 259.3h0M38.1 252.2h0M31.9 253.5h0M35.8 254.4h0M35.6 255.8h0M33.8 254.8h0M35.5 254.7h0M36.6 260.4h0M36.9 255.1h0M29.1 256.1h0M28.2 250.9h0M37.8 257.0h0M34.3 250.0h0M33.6 253.0h0M37.0 261.5h0M35.6 252.7h0M30.9 254.8h0M34.2 251.6h0M35.2 251.6h0M38.6 258.0h0M38.5 253.6h0M36.6 254.6h0M33.5 254.0h0M30.4 250.8h0M37.6 254.4h0M35.6 257.9h0M28.9 252.7h0M35.4 256.1h0M33.6 257.9h0M35.6 251.4h0M31.7 257.3h0M36.4 249.4h0M39.4 256.7h0M39.4 253.8h0M33.8 251.7h0M43.5 254.4h0M40.3 253.1h0M35.4 250.1h0M33.5 257.8h0M30.6 258.1h0M36.0 251.9h0M33.1 253.6h0M34.7 253.4h0M32.0 254.1h0M38.7 255.1h0M30.9 258.5h0M36.3 250.5h0M36.3 256.0h0M31.6 256.7h0M35.4 259.2h0M30.7 253.2h0M32.6 251.8h0M36.7 255.5h0"/>
<path stroke="#9467bd" stroke-width="1.3" stroke-linecap="square" d="M24.8 302.5h0M30.0 293.2h0M26.7 304.4h0M29.7 308.4h0M31.4 303.6h0M28.3 305.2h0M25.1 302.4h0M30.6 309.2h0M26.5 302.4h0M27.9 307.1h0M27.0 307.6h0M23.4 301.9h0M26.4 305.2h0M31.1 297.4h0M23.6 303.7h0M24.6 297.4h0M31.1 304.2h0M29.0 300.9h0M31.0 301.7h0M31.3 299.5h0M23.9 303.3h0M24.5 304.9h0M28.1 299.4h0M27.4 301.4h0M30.6 300.4h0M25.5 306.7h0M35.7 309.4h0M27.4 303.3h0M33.0 302.1h0M23.4 303.0h0M28.8 299.7h0M20.9 297.7h0M29.7 300.0h0M26.6 303.3h0M29.5 301.4h0M29.0 299.5h0M25.8 299.1h0M31.4 302.5h0M24.3 301.4h0M26.3 304.9h0M21.1 299.0h0M25.7 311.2h0M30.8 302.2h0M29.8 309.6h0M26.2 301.3h0M31.7 304.2h0M29.7 300.8h0M34.5 308.4h0M29.3 304.9h0M26.4 304.0h0M29.7 301.4h0M24.3 301.4h0M24.8 301.4h0M28.1 306.3h0M34.7 302.6h0M22.5 300.8h0M27.4 295.7h0M28.4 297.4h0M28.3 302.2h0M25.9 302.3h0M25.1 300.5h0M34.2 309.3h0M32.2 305.0h0M24.6 307.5h0M26.9 302.3h0M26.0 302.9h0M25.5 302.3h0M23.0 301.3h0M35.8 302.3h0M26.2 304.4h0M29.8 298.8h0M26.3 305.7h0M28.2 303.0h0M33.0 300.2h0M27.4 300.8h0M32.8 295.9h0M24.6 300.8h0M29.7 304.6h0M32.4 297.2h0M30.0 301.6h0M24.6 304.4h0M23.6 295.5h0M25.7 297.5h0M24.7 303.8h0M28.3 308.0h0M28.2 303.1h0M27.6 304.3h0M27.4 301.4h0M31.2 303.9h0M30.8 302.8h0M31.6 301.2h0M25.8 303.0h0M26.9 305.7h0M28.0 299.5h0M29.9 303.7h0M30.2 302.9h0"/>
<path stroke="#8c564b" stroke-width="1.3" stroke-linecap="square" d="M87.0 303.2h0M91.1 302.7h0M87.2 304.8h0M90.4 303.3h0M89.3 304.6h0M86.7 303.6h0M87.3 301.4h0M89.7 300.4h0M89.6 305.6h0M87.1 301.8h0M86.8 304.5h0M88.7 304.1h0M89.2 302.2h0M87.7 300.0h0M88.8 303.8h0M86.4 306.0h0M88.6 297.3h0M87.3 300.3h0M89.4 308.9h0M86.2 303.6h0M89.5 311.3h0M91.1 313.2h0M88.3 313.7h0M88.4 311.1h0M91.9 312.0h0M88.4 309.2h0M89.2 310.5h0M91.9 308.0h0M90.8 311.8h0M90.9 311.5h0M92.5 311.6h0M91.4 311.7h0M93.0 306.8h0M92.1 310.1h0M89.5 308.6h0M86.8 309.8h0M88.8 311.6h0M87.5 313.4h0M90.4 310.1h0M88.8 309.0h0M88.0 309.5h0M90.0 310.2h0M87.6 310.0h0M88.4 310.9h0M93.1 311.8h0M89.4 307.3h0M87.6 307.2h0M91.2 309.0h0M90.1 309.3h0M90.1 313.4h0M88.8 309.9h0M88.6 312.3h0M88.2 308.3h0M87.6 307.8h0M90.8 315.7h0M88.3 312.5h0M90.4 308.4h0M89.5 310.1h0M88.8 314.4h0M86.7 311.3h0M74.7 307.0h0M75.5 308.3h0M75.2 307.9h0M73.8 305.6h0M76.8 309.3h0"/>
<path stroke="#e377c2" stroke-width="1.3" stroke-linecap="square" d="M161.9 294.9h0M160.2 294.3h0M160.2 295.4h0M159.3 294.9h0M163.2 294.7h0M158.8 294.9h0M162.2 296.5h0M160.9 294.9h0M159.8 295.9h0M159.0 296.1h0M162.5 295.4h0M161.4 295.8h0M162.7 294.8h0M162.2 295.1h0M159.3 295.4h0M160.1 294.8h0M158.0 294.8h0M162.6 296.4h0M161.4 296.0h0M159.6 295.3h0M160.8 294.7h0M158.9 295.4h0M159.9 294.8h0M161.0 295.2h0M161.9 295.3h0M160.0 295.4h0M160.2 295.0h0M159.8 295.8h0M161.4 296.1h0M157.9 295.1h0M159.8 295.4h0M159.7 295.1h0M161.6 295.4h0M158.7 296.1h0M169.5 290.2h0M169.1 290.4h0M170.0 290.2h0M166.9 293.7h0M167.4 294.0h0M168.7 292.1h0M164.5 290.9h0M167.0 290.9h0M169.8 292.8h0M168.5 291.7h0M168.0 292.7h0M167.1 293.0h0M168.0 295.0h0M169.2 293.1h0M168.1 292.9h0M168.6 293.1h0M169.9 291.1h0M166.7 293.1h0M170.8 289.2h0M169.2 294.0h0M170.6 290.8h0M169.8 294.8h0M169.5 292.1h0M167.0 291.7h0M166.7 295.2h0M168.8 291.5h0M165.4 293.6h0M166.7 292.0h0M170.8 291.6h0M173.5 287.8h0M166.8 292.9h0M162.6 298.4h0M169.0 293.4h0M169.9 291.7h0M169.3 292.5h0M169.8 289.0h0M166.5 292.3h0M172.0 290.4h0M168.6 290.2h0M168.5 292.0h0M168.4 292.2h0M168.9 291.2h0M157.9 285.1h0M157.5 284.8h0M157.4 285.6h0M157.5 285.2h0M157.5 283.7h0M157.9 284.1h0M157.3 291.9h0M156.6 291.5h0M164.2 287.2h0M164.0 287.6h0"/>
<path stroke="#7f7f7f" stroke-width="1.3" stroke-linecap="square" d="M74.0 190.6h0M73.7 189.1h0M73.5 188.9h0M74.1 192.0h0M73.4 189.4h0M74.6 190.7h0M74.2 189.0h0M74.0 191.1h0M72.4 189.6h0M71.7 188.5h0M71.8 189.9h0M72.5 190.6h0M74.2 190.0h0M71.0 189.5h0M74.0 190.4h0M72.2 189.6h0M69.8 196.1h0M71.5 196.1h0M70.6 197.4h0M70.2 196.6h0M70.7 196.8h0M69.6 196.8h0M71.7 195.5h0M71.3 196.8h0M70.1 198.3h0M71.2 195.8h0M70.7 197.2h0M70.5 197.3h0M70.6 197.3h0M71.8 196.2h0M73.1 193.4h0M73.3 192.2h0M72.0 193.5h0M73.3 196.1h0M71.3 192.3h0M74.3 191.2h0M72.1 193.7h0M73.9 195.5h0M72.4 193.3h0M71.7 196.3h0M72.2 193.4h0M73.1 194.0h0M72.8 192.2h0M72.8 193.3h0M73.8 195.4h0M72.3 195.1h0M75.5 198.9h0M76.1 198.8h0M74.9 197.6h0M75.7 195.6h0M76.6 197.4h0M75.4 200.1h0M75.9 197.3h0M76.4 198.9h0M76.4 198.1h0M76.9 199.2h0"/>
<rect x="171.3" y="183.4" width="2" height="1.4" fill="#1f77b4" fill-opacity="0.75"/>
<text x="176.7" y="184.8" class="lg" text-anchor="middle">−1</text>
<rect x="171.3" y="186.0" width="2" height="1.4" fill="#ff7f0e" fill-opacity="0.75"/>
<text x="176.7" y="187.4" class="lg" text-anchor="middle">0</text>
<rect x="171.3" y="188.5" width="2" height="1.4" fill="#2ca02c" fill-opacity="0.75"/>
<text x="176.7" y="189.9" class="lg" text-anchor="middle">1</text>
<rect x="171.3" y="191.1" width="2" height="1.4" fill="#d62728" fill-opacity="0.75"/>
<text x="176.7" y="192.5" class="lg" text-anchor="middle">2</text>
<rect x="171.3" y="193.6" width="2" height="1.4" fill="#9467bd" fill-opacity="0.75"/>
<text x="176.7" y="195.0" class="lg" text-anchor="middle">3</text>
<rect x="171.3" y="196.2" width="2" height="1.4" fill="#8c564b" fill-opacity="0.75"/>
<text x="176.7" y="197.6" class="lg" text-anchor="middle">4</text>
<rect x="171.3" y="198.7" width="2" height="1.4" fill="#e377c2" fill-opacity="0.75"/>
<text x="176.7" y="200.2" class="lg" text-anchor="middle">5</text>
<rect x="171.3" y="201.2" width="2" height="1.4" fill="#7f7f7f" fill-opacity="0.75"/>
<text x="176.7" y="202.7" class="lg" text-anchor="middle">6</text>
</g>
<g id="pe">
<rect x="194.5" y="181.5" width="166" height="141" fill="none" stroke="#c2c2c2" stroke-width="1"/>
<line x1="212.5" y1="323" x2="212.5" y2="324" stroke="#999" stroke-width="0.6"/>
<text x="212.5" y="325.3" class="tk" text-anchor="middle">−20</text>
<line x1="238.1" y1="323" x2="238.1" y2="324" stroke="#999" stroke-width="0.6"/>
<text x="238.1" y="325.3" class="tk" text-anchor="middle">−10</text>
<line x1="263.7" y1="323" x2="263.7" y2="324" stroke="#999" stroke-width="0.6"/>
<text x="263.7" y="325.3" class="tk" text-anchor="middle">0</text>
<line x1="289.3" y1="323" x2="289.3" y2="324" stroke="#999" stroke-width="0.6"/>
<text x="289.3" y="325.3" class="tk" text-anchor="middle">10</text>
<line x1="314.9" y1="323" x2="314.9" y2="324" stroke="#999" stroke-width="0.6"/>
<text x="314.9" y="325.3" class="tk" text-anchor="middle">20</text>
<line x1="340.5" y1="323" x2="340.5" y2="324" stroke="#999" stroke-width="0.6"/>
<text x="340.5" y="325.3" class="tk" text-anchor="middle">30</text>
<line x1="193" y1="205.3" x2="194" y2="205.3" stroke="#999" stroke-width="0.6"/>
<text x="192.7" y="206.0" class="tk" text-anchor="end">20</text>
<line x1="193" y1="233.2" x2="194" y2="233.2" stroke="#999" stroke-width="0.6"/>
<text x="192.7" y="233.9" class="tk" text-anchor="end">10</text>
<line x1="193" y1="261.1" x2="194" y2="261.1" stroke="#999" stroke-width="0.6"/>
<text x="192.7" y="261.8" class="tk" text-anchor="end">0</text>
<line x1="193" y1="289.0" x2="194" y2="289.0" stroke="#999" stroke-width="0.6"/>
<text x="192.7" y="289.7" class="tk" text-anchor="end">−10</text>
<line x1="193" y1="316.9" x2="194" y2="316.9" stroke="#999" stroke-width="0.6"/>
<text x="192.7" y="317.6" class="tk" text-anchor="end">−20</text>
<path stroke="#1f77b4" stroke-width="1.3" stroke-linecap="square" d="M343.2 295.0h0M341.5 294.4h0M341.5 295.5h0M340.6 295.0h0M344.5 294.8h0M340.1 295.0h0M343.5 296.6h0M342.2 295.0h0M341.1 296.0h0M340.3 296.2h0M343.8 295.5h0M342.7 295.8h0M344.0 294.8h0M343.5 295.2h0M340.5 295.5h0M341.4 294.9h0M339.3 294.9h0M343.9 296.5h0M342.7 296.1h0M340.9 295.4h0M342.1 294.8h0M340.2 295.5h0M341.2 294.8h0M342.3 295.3h0M343.2 295.4h0M341.2 295.5h0M341.4 295.1h0M341.1 295.8h0M342.7 296.1h0M339.2 295.2h0M341.1 295.5h0M341.0 295.1h0M342.9 295.5h0M339.9 296.2h0M350.8 290.3h0M350.4 290.5h0M351.3 290.3h0M348.2 293.7h0M348.7 294.1h0M350.0 292.2h0M345.8 290.9h0M348.3 291.0h0M351.1 292.9h0M349.8 291.7h0M349.3 292.8h0M348.4 293.1h0M349.3 295.1h0M350.5 293.2h0M349.4 293.0h0M349.8 293.2h0M351.2 291.2h0M348.0 293.2h0M352.0 289.3h0M350.5 294.1h0M351.9 290.9h0M351.1 294.9h0M350.8 292.2h0M348.3 291.8h0M348.0 295.3h0M350.1 291.6h0M346.7 293.7h0M348.0 292.1h0M352.1 291.7h0M354.8 287.9h0M348.1 293.0h0M343.9 298.5h0M350.3 293.5h0M351.2 291.8h0M350.6 292.6h0M351.1 289.1h0M347.8 292.4h0M353.3 290.5h0M349.9 290.3h0M349.8 292.0h0M349.7 292.2h0M350.2 291.3h0M339.2 285.2h0M338.8 284.9h0M338.7 285.6h0M338.8 285.2h0M338.8 283.8h0M339.2 284.1h0M338.6 291.9h0M337.9 291.5h0M345.5 287.3h0M345.3 287.7h0"/>
<path stroke="#ff7f0e" stroke-width="1.3" stroke-linecap="square" d="M284.8 215.6h0M284.9 214.6h0M286.0 245.6h0M286.9 237.4h0M283.3 239.1h0M279.6 233.2h0M282.1 233.6h0M281.7 237.3h0M281.5 236.4h0M283.6 240.6h0M280.1 234.1h0M275.7 233.7h0M284.0 237.1h0M278.1 235.6h0M282.1 238.7h0M279.7 236.1h0M275.0 232.9h0M288.1 229.3h0M280.6 237.7h0M280.5 234.1h0M281.7 236.9h0M281.6 230.4h0M281.4 234.0h0M279.8 237.8h0M284.4 240.1h0M280.0 240.2h0M286.4 240.9h0M287.2 236.4h0M281.3 239.9h0M276.7 237.7h0M279.9 235.7h0M275.3 233.8h0M281.9 240.1h0M285.7 236.7h0M281.2 234.0h0M283.5 236.1h0M284.2 243.1h0M281.8 231.7h0M278.7 231.8h0M277.4 241.5h0M282.8 231.6h0M284.4 241.4h0M280.6 234.6h0M280.6 238.0h0M284.4 241.1h0M286.6 241.1h0M289.6 241.8h0M276.5 236.2h0M284.9 234.5h0M287.6 234.6h0M279.3 247.3h0M286.4 238.7h0M287.6 244.6h0M285.0 219.9h0M280.4 234.0h0M279.0 238.6h0M288.8 233.8h0M278.3 251.4h0M281.4 228.5h0M284.5 240.1h0M280.3 242.7h0M281.2 230.7h0M284.2 242.6h0M280.6 239.5h0M283.0 257.0h0M280.2 246.9h0M283.2 236.3h0M286.7 243.4h0M289.2 239.5h0M280.7 233.4h0M285.7 241.2h0M289.7 240.1h0M288.2 247.8h0M284.2 226.7h0M289.0 241.3h0M283.0 235.8h0M283.8 238.4h0M281.0 236.9h0M284.6 230.8h0M284.3 243.1h0M283.2 242.6h0M276.3 244.9h0M280.7 241.5h0M284.3 219.0h0M280.0 238.7h0M284.6 227.2h0M283.6 235.6h0M276.1 243.4h0M289.1 241.0h0M279.0 246.5h0M277.9 235.7h0M284.7 243.4h0M285.3 239.9h0M277.2 261.2h0M272.2 264.7h0M274.3 259.8h0M273.1 260.6h0M274.7 262.6h0M276.7 264.0h0M270.4 263.3h0M276.1 263.4h0M276.4 261.1h0M271.8 264.5h0M271.6 257.3h0M276.4 260.7h0M273.3 259.1h0M271.0 259.7h0M273.2 263.2h0M268.7 264.1h0M271.3 259.9h0M275.6 262.2h0M270.5 266.6h0M272.0 262.9h0M274.5 265.6h0M273.0 264.7h0M272.3 264.9h0M272.3 261.5h0M278.4 263.1h0M274.3 267.5h0M274.8 260.4h0M275.7 259.6h0M276.6 265.1h0M272.7 260.9h0M274.4 262.4h0M271.8 263.6h0M269.3 261.3h0M273.1 261.7h0M274.7 259.5h0M275.4 261.9h0M272.5 259.2h0M271.3 263.2h0M271.8 262.5h0M276.5 264.7h0M277.6 261.6h0M271.5 264.7h0M274.7 264.9h0M274.0 265.1h0M276.0 264.0h0M275.7 268.8h0M274.2 267.7h0M278.4 262.9h0M278.3 265.7h0M271.6 279.5h0M271.2 257.9h0M269.0 264.2h0M278.1 259.7h0M274.9 270.6h0M276.2 268.2h0M267.3 266.1h0M271.5 251.1h0M276.2 269.8h0M270.5 257.5h0M270.0 271.5h0M271.6 265.8h0M272.4 266.2h0M279.1 267.0h0M272.1 264.4h0M274.8 260.4h0M270.1 265.9h0M269.8 265.5h0M269.5 279.3h0M272.6 280.5h0M274.7 265.7h0M274.6 268.2h0M276.7 259.7h0M272.6 272.3h0M279.8 259.0h0M271.0 257.1h0M273.7 265.6h0M271.0 261.8h0M270.8 261.4h0M275.8 276.1h0M270.6 269.5h0M267.7 265.3h0M267.2 270.8h0M273.5 265.2h0M275.0 264.6h0M264.3 270.1h0M274.5 265.2h0M266.9 261.1h0M268.8 258.5h0M269.4 263.0h0M264.2 266.4h0M278.0 261.8h0M272.5 270.3h0M277.4 264.0h0M273.2 260.9h0M266.8 266.3h0M276.8 269.4h0M269.9 265.7h0M265.8 267.9h0M273.7 283.9h0M273.4 252.6h0M269.2 267.0h0M270.9 268.5h0M272.0 260.4h0M277.3 262.7h0M270.2 257.2h0M268.6 270.5h0M276.9 263.8h0M274.2 259.0h0M274.2 254.8h0M267.1 272.6h0M279.8 262.3h0M271.9 266.2h0M275.2 256.3h0M274.8 262.0h0M262.8 286.6h0M265.9 285.0h0M268.2 285.8h0M264.8 285.7h0M264.4 284.7h0M266.2 284.9h0M265.1 287.6h0M266.7 286.6h0M266.3 286.2h0M267.4 285.6h0M267.9 284.5h0M265.4 283.9h0M271.7 290.4h0M256.6 292.6h0M255.7 291.4h0M254.8 294.9h0M254.9 294.5h0M257.2 292.2h0M255.1 293.9h0M258.5 291.5h0M256.1 293.9h0M256.9 295.0h0M255.8 293.3h0M255.0 295.1h0M255.6 290.0h0M255.9 307.1h0M256.8 308.4h0M256.5 308.0h0M255.1 305.7h0M258.0 309.4h0M269.8 281.8h0M284.9 217.8h0M274.5 254.3h0M288.2 239.5h0M274.3 256.5h0M275.3 281.3h0M275.3 240.0h0M263.9 273.5h0M275.9 278.0h0M274.8 243.2h0M280.5 252.5h0M286.4 247.8h0M264.6 273.2h0M267.7 286.0h0M283.2 244.9h0M260.4 283.0h0M260.6 287.6h0M281.5 243.5h0M276.3 255.6h0M269.0 277.0h0M271.4 282.7h0M285.1 236.1h0M271.4 275.0h0M265.6 283.7h0M280.0 246.6h0M270.1 287.4h0M265.6 277.8h0M273.1 273.1h0M287.8 218.3h0M264.8 282.2h0M274.5 242.8h0M277.2 246.0h0M268.7 257.1h0M288.8 237.8h0M270.0 288.1h0M278.7 258.5h0M274.7 277.0h0M279.4 252.4h0M271.3 261.3h0M289.0 245.5h0M269.7 279.4h0M266.3 285.7h0M262.7 291.8h0M287.7 231.1h0M284.2 252.2h0M268.4 275.9h0M268.5 274.1h0M265.8 268.8h0M280.5 238.3h0M288.8 222.6h0M285.7 226.8h0M274.2 255.7h0M276.4 247.2h0M268.7 282.5h0M270.0 253.0h0M275.3 241.1h0M275.9 248.7h0M259.9 283.2h0M285.0 223.0h0M285.3 242.1h0M275.3 240.8h0M274.1 258.3h0M274.8 255.6h0M286.8 231.8h0M270.6 257.0h0M271.1 254.9h0M274.5 235.4h0M266.4 286.0h0M286.1 242.0h0M272.7 247.5h0M276.5 266.1h0M269.9 282.3h0M266.4 273.4h0M288.6 229.6h0M273.1 259.0h0M267.7 277.3h0M285.6 236.6h0M289.8 225.1h0M264.9 268.6h0M261.7 292.5h0M283.9 255.9h0M289.8 230.8h0M286.4 248.2h0M260.0 282.3h0M280.3 238.2h0M280.3 246.8h0M265.5 274.6h0M279.3 234.1h0M278.6 252.5h0M269.9 277.5h0M282.7 237.1h0M284.7 252.7h0M283.9 249.8h0M272.1 284.8h0M267.4 286.4h0M265.4 289.3h0M264.7 266.2h0M268.7 268.3h0M263.6 272.1h0M273.4 272.0h0M267.6 267.8h0M263.4 279.1h0M268.1 270.4h0M264.9 273.1h0M270.7 268.2h0M268.0 270.4h0M275.3 266.9h0M266.2 266.6h0M261.2 274.8h0M267.3 276.2h0M266.3 282.5h0M264.0 280.0h0M265.0 277.0h0M268.0 274.7h0M269.8 276.5h0M266.7 269.6h0M272.2 283.0h0M267.5 271.0h0M266.5 265.7h0M266.0 283.0h0M262.6 275.1h0M275.8 267.5h0M262.4 280.0h0M264.5 268.8h0M277.8 268.7h0M275.7 270.8h0M270.7 270.9h0M266.3 282.1h0M277.4 259.3h0M278.8 262.5h0M276.7 267.1h0M276.4 270.5h0M279.1 265.5h0M274.5 279.3h0M277.5 270.7h0M272.7 285.3h0M276.1 274.9h0M276.1 269.4h0M283.5 253.2h0M287.7 250.6h0M288.8 250.9h0M282.5 256.6h0"/>
<path stroke="#2ca02c" stroke-width="1.3" stroke-linecap="square" d="M290.9 234.0h0M290.6 231.2h0M291.2 244.2h0M290.7 225.2h0M290.5 239.2h0M295.6 242.2h0M307.1 225.4h0M301.7 223.1h0M304.9 220.6h0M301.5 221.5h0M307.6 230.2h0M315.0 222.1h0M304.2 232.3h0M306.0 227.1h0M313.8 227.0h0M302.3 222.9h0M308.2 229.7h0M301.4 224.3h0M309.0 230.9h0M304.3 231.1h0M309.2 220.9h0M305.7 230.2h0M304.6 219.4h0M305.8 231.6h0M313.2 219.2h0M317.4 223.7h0M310.7 233.6h0M310.8 229.1h0M302.2 231.1h0M304.0 217.8h0M318.2 231.4h0M314.2 224.6h0M312.8 235.1h0M313.1 228.3h0M302.1 227.7h0M298.1 221.3h0M307.3 224.3h0M306.2 228.0h0M314.6 233.9h0M306.7 233.5h0M303.8 227.0h0M310.6 223.2h0M305.8 222.9h0M307.4 235.3h0M301.7 230.7h0M300.7 219.9h0M298.6 240.3h0M321.7 232.7h0M301.9 234.4h0M304.4 235.2h0M308.4 231.1h0M310.4 224.4h0M303.9 215.5h0M303.7 217.8h0M305.6 221.4h0M307.2 232.5h0M297.4 222.6h0M300.4 234.8h0M317.5 235.6h0M304.3 240.4h0M296.8 240.7h0M299.9 230.3h0M305.1 229.7h0M297.0 223.6h0M309.5 230.7h0M314.2 229.6h0M321.6 223.3h0M298.5 239.3h0M300.5 233.1h0M306.1 220.8h0M304.3 224.9h0M303.4 234.8h0M310.7 224.4h0M300.7 231.1h0M305.9 237.0h0M306.3 227.6h0M301.0 221.8h0M300.1 225.8h0M303.8 234.8h0M303.9 227.4h0M298.7 241.8h0M309.8 242.9h0M311.6 240.6h0M304.9 234.5h0M314.1 242.2h0M309.2 234.9h0M314.7 223.7h0M309.2 222.0h0M302.1 224.0h0M305.6 230.1h0M309.5 217.6h0M319.5 238.2h0M311.3 226.1h0M305.9 233.3h0M309.2 215.5h0M294.4 236.9h0M308.9 228.0h0M315.5 219.4h0M307.6 240.7h0M305.2 225.6h0M307.3 225.4h0M316.7 221.6h0M312.3 218.9h0M310.9 228.1h0M289.5 228.9h0M299.5 225.4h0M316.7 220.0h0M299.5 240.5h0M307.3 241.3h0M308.6 221.8h0M306.1 238.8h0M312.7 228.9h0M306.8 228.0h0M302.7 244.5h0M306.5 219.8h0M303.4 234.8h0M310.7 227.8h0M302.1 229.1h0M295.5 218.5h0M311.8 225.1h0M309.0 238.7h0M310.8 229.1h0M320.5 234.3h0M304.2 234.8h0M309.2 222.1h0M307.0 227.6h0M293.5 227.5h0M304.6 225.4h0M295.6 226.1h0M306.2 229.8h0M299.0 234.0h0M298.5 227.1h0M315.1 223.4h0M303.1 237.6h0M304.0 226.5h0M308.0 237.4h0M292.0 222.3h0M299.9 220.2h0M300.9 222.2h0M308.5 221.8h0M307.3 232.2h0M301.7 230.0h0M317.3 231.5h0M302.3 228.4h0M300.5 231.1h0M312.2 222.4h0M305.1 237.8h0M303.2 230.4h0M299.8 222.4h0M303.1 246.0h0M303.9 224.8h0M302.9 227.6h0M310.7 230.4h0M319.7 230.6h0M315.8 231.1h0M310.4 217.6h0M305.7 228.4h0M312.2 225.9h0M303.7 226.9h0M305.0 232.1h0M298.3 221.7h0M308.4 230.1h0M304.1 224.4h0M301.1 228.5h0M314.1 220.7h0M316.3 235.5h0M303.6 235.1h0M297.1 215.4h0M298.2 225.7h0M304.4 224.9h0M309.7 217.8h0M302.3 225.7h0M299.1 218.2h0M300.0 228.8h0M310.3 233.3h0M300.1 222.7h0M300.6 232.5h0M293.4 238.6h0M303.4 222.8h0M308.7 237.0h0M308.7 237.2h0M307.4 238.6h0M314.5 228.2h0M315.7 230.2h0M307.1 221.7h0M304.6 235.0h0M298.1 234.0h0M308.7 231.1h0M292.3 228.1h0M310.7 223.0h0M310.8 223.8h0M312.1 214.5h0M310.9 227.1h0M316.7 238.4h0M314.6 243.1h0M314.3 238.7h0M315.1 238.2h0M317.3 242.4h0M314.5 237.2h0M317.3 241.4h0M316.8 241.5h0M314.2 239.5h0M313.4 237.6h0M317.0 238.8h0M319.0 239.9h0M314.6 241.0h0M318.2 240.5h0M313.7 240.3h0M295.0 215.1h0M295.4 248.3h0M315.1 232.4h0M310.1 238.7h0M301.6 235.6h0M299.6 234.4h0M316.0 220.9h0M307.9 219.2h0M310.7 247.4h0M307.4 245.9h0M310.8 248.7h0M290.6 222.4h0M302.7 223.3h0M318.5 224.0h0M313.4 221.6h0M316.2 222.3h0M295.4 243.9h0M307.0 219.3h0M311.5 243.8h0M296.2 221.7h0M293.7 223.8h0M300.6 234.7h0M299.3 218.8h0M312.5 238.1h0M306.9 226.3h0M295.7 225.1h0M318.2 228.0h0M311.4 217.6h0M306.6 234.7h0M310.7 235.0h0M307.1 230.8h0M306.0 230.4h0M308.7 232.2h0M311.7 249.2h0M300.8 223.9h0M294.1 227.8h0M315.7 217.7h0M297.0 237.7h0M290.6 247.8h0M298.7 240.6h0M314.7 241.7h0M311.1 228.0h0M294.1 226.8h0M319.8 223.2h0M305.5 238.3h0M303.4 234.1h0M317.9 224.4h0M314.6 227.1h0M311.1 230.9h0M291.6 240.8h0M314.2 226.7h0M301.2 236.2h0M296.2 245.8h0M306.9 231.2h0M320.4 232.6h0M317.1 229.5h0M300.8 221.8h0M316.7 234.1h0M293.7 222.5h0M315.2 248.1h0M311.0 230.2h0M315.9 239.1h0M319.5 220.1h0M300.7 238.7h0M317.1 228.9h0M314.7 218.8h0M306.0 239.7h0M307.6 237.8h0M298.7 222.9h0M316.1 230.2h0M293.9 241.0h0M318.8 244.4h0M309.7 235.7h0M319.5 237.9h0M307.4 235.6h0M291.8 244.3h0M315.7 231.8h0M296.4 219.2h0M298.8 247.4h0M302.2 233.8h0M296.8 217.1h0M309.5 225.0h0M307.3 227.3h0M301.9 230.6h0M307.7 235.1h0M311.2 237.3h0M299.4 225.5h0M306.2 237.0h0M293.6 239.7h0M301.4 221.8h0M308.6 229.6h0M314.7 218.8h0M297.9 241.4h0M300.0 219.1h0M315.3 235.5h0M318.6 230.6h0M307.6 243.3h0M315.1 243.7h0M304.4 216.1h0"/>
<path stroke="#d62728" stroke-width="1.3" stroke-linecap="square" d="M293.3 263.8h0M292.3 263.6h0M289.9 249.8h0M311.4 252.3h0M282.5 265.5h0M284.8 267.6h0M282.8 261.7h0M281.1 268.0h0M278.5 275.4h0M280.2 269.2h0M280.7 266.1h0M284.5 260.5h0M282.9 264.1h0M278.3 274.2h0M281.4 275.5h0M282.5 270.5h0M283.0 275.2h0M280.1 273.4h0M282.4 268.2h0M278.1 274.9h0M272.0 291.7h0M273.5 290.8h0M272.3 291.0h0M272.4 289.9h0M268.2 303.2h0M272.3 302.8h0M268.5 304.9h0M271.7 303.4h0M270.6 304.7h0M267.9 303.7h0M268.6 301.5h0M270.9 300.5h0M270.8 305.7h0M268.3 301.9h0M268.0 304.6h0M270.0 304.2h0M270.5 302.3h0M269.0 300.1h0M270.0 303.9h0M267.7 306.1h0M269.9 297.3h0M268.6 300.3h0M270.6 309.0h0M267.5 303.7h0M270.8 311.4h0M272.3 313.2h0M269.5 313.8h0M269.6 311.2h0M273.2 312.1h0M269.6 309.3h0M270.4 310.6h0M273.2 308.1h0M272.0 311.9h0M272.2 311.6h0M273.8 311.6h0M272.7 311.8h0M274.3 306.9h0M273.4 310.1h0M270.7 308.7h0M268.0 309.9h0M270.0 311.7h0M268.7 313.5h0M271.7 310.2h0M270.0 309.1h0M269.3 309.6h0M271.2 310.3h0M268.8 310.1h0M269.7 311.0h0M274.4 311.9h0M270.7 307.4h0M268.8 307.3h0M272.4 309.1h0M271.3 309.4h0M271.4 313.5h0M270.0 310.0h0M269.8 312.4h0M269.5 308.4h0M268.8 307.8h0M272.0 315.8h0M269.5 312.6h0M271.6 308.5h0M270.7 310.2h0M270.0 314.5h0M268.0 311.4h0M294.5 254.5h0M298.5 252.6h0M280.4 282.2h0M281.2 270.1h0M280.2 277.8h0M278.5 271.0h0M282.6 273.8h0M286.2 263.7h0M286.3 258.1h0M307.0 250.7h0M279.9 283.5h0M289.7 253.3h0M279.8 282.9h0M303.7 251.5h0M279.0 268.4h0M293.8 253.0h0M284.8 277.3h0M278.4 281.1h0M287.1 256.2h0M285.9 257.6h0M282.2 261.7h0M284.7 263.5h0M305.2 250.7h0M276.6 285.4h0M284.3 276.1h0M283.7 271.0h0M287.1 257.7h0M305.0 251.2h0M277.9 271.7h0M278.7 281.1h0M278.8 269.5h0M277.3 280.2h0M278.4 269.8h0M286.6 262.5h0M283.8 261.4h0M282.7 279.1h0M284.1 280.5h0M286.9 270.7h0M282.2 284.8h0M285.9 279.5h0M281.8 264.2h0M284.2 269.8h0M283.5 263.9h0M287.1 262.2h0M275.2 283.2h0M282.6 275.4h0M282.7 279.1h0M283.5 267.6h0M278.0 280.2h0M287.6 263.9h0M287.6 257.7h0M286.3 280.3h0M277.9 277.7h0M278.5 276.4h0M279.3 284.7h0M279.8 281.7h0M281.6 268.4h0M287.5 263.1h0M285.7 275.6h0M279.4 282.0h0M284.6 283.0h0M279.5 276.8h0M278.3 284.5h0M285.5 269.8h0M276.2 280.7h0M276.4 286.5h0M277.0 283.0h0M280.1 285.4h0M277.4 285.0h0M282.4 273.9h0M283.0 278.2h0M283.0 280.9h0M280.1 278.2h0M286.7 273.0h0M286.4 269.6h0M277.7 283.5h0M275.0 290.0h0M282.0 275.1h0M282.9 276.8h0M274.0 288.7h0M278.1 273.4h0M273.8 288.1h0M282.6 283.3h0M284.4 271.5h0M283.1 267.1h0M281.9 273.6h0M281.8 271.1h0M276.3 282.7h0M286.9 274.1h0M273.0 290.1h0M283.9 268.2h0M277.3 278.8h0M284.0 279.4h0M290.1 256.6h0M291.2 267.8h0M285.6 257.2h0M284.1 262.3h0M287.9 253.0h0M293.3 256.2h0M287.2 263.2h0M295.7 255.0h0M293.9 265.4h0M288.6 259.1h0M285.2 267.6h0M283.9 266.5h0M290.8 258.8h0M293.5 264.5h0"/>
<path stroke="#9467bd" stroke-width="1.3" stroke-linecap="square" d="M255.3 190.6h0M254.9 189.1h0M254.7 188.9h0M255.3 192.0h0M254.7 189.4h0M255.9 190.7h0M255.4 189.0h0M255.2 191.1h0M253.6 189.6h0M253.0 188.5h0M253.0 189.9h0M253.7 190.6h0M255.5 190.0h0M252.2 189.5h0M255.2 190.4h0M253.4 189.6h0M251.1 196.1h0M252.7 196.1h0M251.8 197.5h0M251.4 196.7h0M251.9 196.8h0M250.9 196.8h0M252.9 195.5h0M252.5 196.8h0M251.3 198.3h0M252.5 195.8h0M251.9 197.2h0M251.7 197.3h0M251.8 197.3h0M253.0 196.2h0M254.3 193.4h0M254.5 192.2h0M253.2 193.5h0M254.5 196.1h0M252.5 192.4h0M255.5 191.2h0M253.3 193.7h0M255.2 195.5h0M253.6 193.4h0M252.9 196.3h0M253.4 193.4h0M254.4 194.0h0M254.1 192.2h0M254.0 193.3h0M255.1 195.4h0M253.6 195.1h0M256.8 198.9h0M257.4 198.8h0M256.1 197.6h0M256.9 195.6h0M257.8 197.5h0M256.7 200.1h0M257.1 197.3h0M257.6 198.9h0M257.6 198.1h0M258.2 199.3h0M256.3 207.1h0M256.0 205.8h0M256.2 206.0h0M257.1 207.2h0M272.2 212.9h0M271.8 209.2h0M269.7 215.3h0M267.7 216.6h0M268.5 216.4h0M270.3 216.4h0M272.3 210.4h0M274.5 218.2h0M271.9 213.7h0M271.7 211.9h0M274.2 213.0h0M271.9 212.3h0M270.8 211.1h0M274.5 214.0h0M273.9 214.4h0M270.6 213.5h0M270.9 214.4h0M271.3 213.6h0M269.2 212.3h0M275.3 212.6h0M269.9 215.3h0M274.8 210.6h0M271.6 212.7h0M268.5 216.3h0M272.0 214.6h0M270.5 215.6h0M270.9 214.0h0M269.8 211.2h0M274.7 213.1h0M272.6 214.3h0M271.1 213.1h0M273.3 213.6h0M271.7 214.5h0M274.4 216.2h0M272.8 212.9h0M269.2 216.9h0M273.9 214.0h0M273.1 216.4h0M273.7 216.8h0M271.1 218.3h0M269.5 216.6h0M273.0 216.7h0M275.8 218.3h0M269.7 210.0h0M273.6 211.7h0M272.0 216.6h0M268.7 208.9h0M272.5 214.5h0M271.0 215.3h0M268.9 209.0h0M271.3 211.2h0M266.1 217.1h0M271.7 216.7h0M268.4 212.5h0M268.4 211.5h0M272.6 212.0h0M273.2 216.5h0M279.0 209.5h0M275.0 214.7h0M271.9 209.3h0M270.3 218.1h0M271.6 215.4h0M278.1 227.1h0M280.0 228.1h0M279.1 222.2h0"/>
<path stroke="#8c564b" stroke-width="1.3" stroke-linecap="square" d="M220.4 237.6h0M219.4 238.0h0M234.0 230.1h0M233.2 230.4h0M234.0 231.4h0M233.7 230.5h0M233.1 231.5h0M233.8 232.0h0M232.4 230.8h0M232.0 228.9h0M235.5 231.4h0M233.7 231.6h0M231.0 227.2h0M233.3 230.3h0M232.3 229.1h0M232.9 230.3h0M220.1 256.0h0M216.0 259.5h0M214.2 253.9h0M209.9 259.6h0M219.3 257.7h0M218.3 255.3h0M216.8 254.3h0M215.4 255.2h0M221.2 256.6h0M215.9 253.3h0M213.9 259.7h0M217.8 255.2h0M214.9 251.8h0M215.8 257.5h0M214.7 254.3h0M215.3 255.3h0M210.6 254.3h0M213.1 257.6h0M213.4 256.7h0M221.3 254.1h0M214.0 255.6h0M216.0 252.1h0M217.6 260.9h0M215.2 254.4h0M212.5 255.9h0M211.8 251.8h0M220.4 252.4h0M219.7 259.4h0M216.9 256.6h0M222.7 254.4h0M214.0 251.1h0M216.2 259.3h0M219.3 252.3h0M213.1 253.5h0M217.1 254.4h0M216.8 255.9h0M215.0 254.9h0M216.8 254.8h0M217.8 260.4h0M218.1 255.2h0M210.3 256.1h0M209.4 250.9h0M219.0 257.1h0M215.5 250.0h0M214.8 253.0h0M218.2 261.6h0M216.8 252.7h0M212.1 254.8h0M215.5 251.7h0M216.5 251.7h0M219.8 258.1h0M219.8 253.6h0M217.8 254.6h0M214.7 254.0h0M211.6 250.8h0M218.8 254.5h0M216.8 257.9h0M210.1 252.7h0M216.7 256.1h0M214.8 258.0h0M216.8 251.5h0M212.9 257.4h0M217.6 249.5h0M220.7 256.7h0M220.6 253.9h0M215.0 251.7h0M224.7 254.5h0M221.5 253.1h0M216.6 250.1h0M214.8 257.9h0M211.8 258.1h0M217.2 252.0h0M214.3 253.7h0M215.9 253.4h0M213.2 254.1h0M228.7 243.8h0M230.7 248.2h0M227.7 246.4h0M229.5 244.4h0M232.5 245.3h0M233.8 244.8h0M231.6 245.9h0M229.3 247.6h0M230.5 247.6h0M230.7 244.2h0M230.6 246.5h0M232.7 244.6h0M230.7 242.9h0M232.1 244.2h0M227.2 246.3h0M233.0 243.3h0M228.6 244.9h0M228.5 247.1h0M229.2 244.9h0M232.0 244.9h0M231.7 244.4h0M228.4 242.7h0M234.5 245.7h0M231.3 246.3h0M231.1 246.5h0M234.6 244.3h0M227.7 244.4h0M228.1 247.9h0M232.5 247.8h0M232.0 251.0h0M228.7 241.3h0M232.0 247.6h0M232.4 247.3h0M230.3 246.6h0M236.4 256.5h0M233.8 249.6h0M228.9 245.7h0M233.6 251.5h0M233.7 251.1h0M232.9 251.8h0M236.9 255.7h0M235.2 249.9h0M233.2 251.6h0M231.8 249.3h0M213.5 273.5h0M215.2 275.4h0M214.3 275.2h0M211.8 273.7h0M213.1 274.5h0M214.2 275.6h0M210.2 275.7h0M210.3 274.3h0M212.9 271.4h0M213.9 275.9h0M213.3 274.7h0M212.7 273.6h0M213.0 274.5h0M213.9 273.2h0M214.2 275.9h0M213.3 274.7h0M215.0 272.2h0M214.8 276.1h0M214.4 276.3h0M212.0 275.0h0M215.2 276.4h0M214.2 272.5h0M215.0 277.9h0M216.2 276.0h0M209.7 277.5h0M213.3 270.5h0M214.6 272.6h0M210.4 274.3h0M216.8 274.8h0M214.3 279.1h0M217.6 275.4h0M213.0 273.0h0M211.9 276.4h0M214.6 275.8h0M216.1 274.0h0M216.1 283.3h0M216.9 283.9h0M216.6 281.2h0M216.6 279.8h0M214.2 282.9h0M216.1 282.4h0M214.1 281.1h0M215.4 280.1h0M213.4 281.1h0M217.2 282.5h0M228.4 257.4h0M207.6 282.2h0M216.0 274.5h0M219.9 255.2h0M224.8 267.9h0M232.9 257.8h0M227.3 257.8h0M223.5 246.7h0M219.8 273.6h0M234.2 238.2h0M214.1 270.2h0M215.0 268.0h0M219.3 266.6h0M214.3 259.8h0M226.1 254.6h0M210.1 257.1h0M227.8 276.0h0M234.0 270.7h0M234.5 245.3h0M212.2 258.6h0M237.3 254.8h0M216.3 267.7h0M223.7 281.8h0M210.2 274.5h0M230.6 253.4h0M222.4 244.9h0M229.0 270.1h0M232.0 262.6h0M221.5 263.8h0M233.5 242.0h0M214.0 277.9h0M230.9 240.2h0M218.4 281.6h0M233.9 238.6h0M221.7 280.5h0M227.0 270.3h0M217.5 250.5h0M223.3 265.7h0M231.4 268.8h0M217.5 256.0h0M212.8 256.7h0M213.3 263.2h0M221.8 250.7h0M222.6 249.5h0M236.8 244.7h0M219.6 275.2h0M214.5 267.8h0M235.1 247.7h0M216.6 259.3h0M225.3 260.9h0M215.3 278.5h0M237.8 256.5h0M217.4 247.6h0M215.6 265.1h0M236.4 249.0h0M236.0 257.9h0M239.0 248.1h0M231.9 264.2h0M227.3 243.7h0M223.2 262.0h0M220.4 262.8h0M210.5 268.7h0M209.5 268.7h0M213.0 280.9h0M232.7 240.4h0M218.2 270.9h0M233.5 250.3h0M221.2 248.0h0M214.4 280.5h0M211.9 253.3h0M213.8 251.9h0M220.0 268.0h0M225.7 251.0h0M218.6 261.7h0M237.4 259.5h0M231.3 239.7h0M216.0 283.3h0M225.8 283.9h0M228.6 258.7h0M237.4 253.4h0M226.4 243.1h0M230.7 258.6h0M209.7 250.6h0M226.9 242.8h0M234.8 267.9h0M229.5 250.3h0M238.7 255.3h0M204.9 284.7h0M222.2 267.5h0M235.4 255.1h0M212.2 266.1h0M232.7 256.8h0M218.0 255.5h0M236.8 242.0h0M216.8 279.9h0M215.6 270.8h0M238.4 242.6h0M233.4 243.9h0M224.3 268.7h0M239.5 249.9h0M232.6 268.8h0M209.6 270.0h0M230.3 245.9h0M222.7 245.9h0M209.1 284.0h0M213.6 281.7h0M213.2 280.4h0M209.1 284.3h0M213.1 283.4h0M209.5 282.7h0M214.4 281.1h0M215.2 281.8h0M213.5 280.0h0"/>
<path stroke="#e377c2" stroke-width="1.3" stroke-linecap="square" d="M206.0 302.6h0M211.2 293.2h0M207.9 304.5h0M210.9 308.4h0M212.7 303.7h0M209.5 305.3h0M206.3 302.5h0M211.8 309.3h0M207.7 302.5h0M209.1 307.2h0M208.2 307.7h0M204.7 302.0h0M207.6 305.3h0M212.3 297.5h0M204.8 303.8h0M205.8 297.5h0M212.3 304.3h0M210.2 301.0h0M212.3 301.8h0M212.5 299.5h0M205.1 303.3h0M205.7 304.9h0M209.3 299.5h0M208.6 301.4h0M211.8 300.5h0M206.7 306.8h0M216.9 309.5h0M208.6 303.4h0M214.2 302.2h0M204.6 303.0h0M210.1 299.8h0M202.1 297.7h0M210.9 300.1h0M207.8 303.4h0M210.7 301.5h0M210.2 299.6h0M207.0 299.2h0M212.6 302.6h0M205.5 301.4h0M207.5 305.0h0M202.3 299.1h0M206.9 311.3h0M212.0 302.3h0M211.0 309.7h0M207.4 301.4h0M213.0 304.3h0M210.9 300.9h0M215.7 308.5h0M210.5 305.0h0M207.6 304.1h0M210.9 301.5h0M205.5 301.5h0M206.0 301.5h0M209.3 306.4h0M215.9 302.7h0M203.7 300.9h0M208.6 295.8h0M209.6 297.5h0M209.5 302.3h0M207.1 302.4h0M206.3 300.6h0M215.4 309.4h0M213.4 305.1h0M205.8 307.6h0M208.1 302.4h0M207.2 303.0h0M206.7 302.4h0M204.2 301.4h0M217.0 302.4h0M207.4 304.5h0M211.0 298.8h0M207.5 305.8h0M209.4 303.1h0M214.3 300.3h0M208.7 300.9h0M214.0 296.0h0M205.8 300.8h0M210.9 304.7h0M213.7 297.3h0M211.2 301.6h0M205.8 304.5h0M204.8 295.6h0M206.9 297.5h0M205.9 303.9h0M209.5 308.1h0M216.9 292.7h0M215.7 294.0h0M214.8 296.7h0M216.0 291.9h0M218.7 295.6h0M218.0 296.0h0M218.5 295.9h0M219.7 296.7h0M218.0 296.6h0M214.3 295.5h0M216.7 296.2h0M214.5 299.1h0M217.5 293.4h0M213.8 295.3h0M217.1 294.4h0M217.4 294.5h0M218.4 294.4h0M217.2 297.8h0M222.4 293.8h0M216.3 294.1h0M218.8 293.5h0M216.3 295.8h0M222.0 304.9h0M222.1 306.6h0M221.3 305.7h0M222.6 305.0h0M222.2 305.0h0M223.0 307.7h0M222.9 313.3h0M221.9 313.6h0M221.4 315.0h0M220.2 314.5h0M221.2 314.9h0M221.4 312.8h0M221.0 289.5h0M209.4 303.2h0M208.8 304.4h0M205.0 288.4h0M217.9 303.7h0M208.6 294.0h0M221.1 298.0h0M208.6 301.5h0M213.6 288.9h0M212.4 303.9h0M226.0 296.6h0M214.6 298.9h0M223.9 308.6h0M213.5 304.4h0M212.0 302.9h0M225.9 305.9h0M221.6 299.6h0M213.2 289.1h0M223.5 300.4h0M219.1 310.0h0M207.2 307.5h0M212.9 301.3h0M211.5 293.4h0M214.2 295.7h0M213.6 306.5h0M211.7 307.9h0M215.1 302.1h0M219.7 300.7h0M212.1 295.6h0M213.9 304.8h0M219.5 288.6h0M207.0 303.1h0M203.2 298.3h0M208.1 305.8h0M221.0 295.0h0M204.2 299.4h0M209.0 309.8h0M209.2 299.6h0M217.1 304.5h0M209.9 293.2h0M216.0 293.5h0M207.1 296.0h0M211.1 303.8h0M211.4 303.0h0M224.3 310.6h0M211.4 307.8h0M214.3 289.0h0M213.8 293.0h0M222.3 295.3h0M212.6 292.0h0M210.2 291.4h0M220.1 294.2h0M210.6 295.7h0M212.5 294.8h0M215.8 296.1h0M219.5 296.2h0M221.3 296.9h0M213.2 286.4h0M218.8 291.0h0M221.2 295.5h0M220.6 293.1h0M212.1 288.1h0M222.3 296.8h0M213.1 292.8h0M215.3 290.7h0M220.6 292.5h0M217.1 291.6h0"/>
<path stroke="#7f7f7f" stroke-width="1.3" stroke-linecap="square" d="M230.1 290.0h0M230.8 288.6h0M229.5 290.6h0M231.7 290.9h0M229.0 290.6h0M232.6 291.8h0M231.4 290.0h0M232.4 290.4h0M229.9 290.1h0M233.5 291.4h0M233.1 290.5h0M232.8 290.4h0M231.3 294.1h0M232.6 290.5h0M231.4 291.5h0M233.9 306.2h0M230.3 306.4h0M232.4 306.9h0M234.0 307.1h0M233.4 305.4h0M233.4 309.3h0M233.3 307.1h0M232.6 308.9h0M231.3 306.6h0M233.0 307.7h0M231.9 307.1h0M232.1 306.9h0M244.8 297.1h0M244.3 296.7h0M243.2 292.2h0M245.9 297.0h0M244.5 295.9h0M246.2 295.0h0M242.9 295.5h0M246.5 293.5h0M246.5 294.7h0M242.1 298.0h0M244.0 293.6h0M243.5 297.4h0M246.5 295.1h0M245.0 297.0h0M243.0 296.4h0M244.2 294.9h0M243.3 295.9h0M244.3 294.9h0M243.4 297.7h0M244.6 297.3h0M246.5 296.8h0M248.6 294.4h0M245.8 295.3h0M247.8 298.7h0M240.5 294.2h0M245.5 297.2h0M250.7 277.8h0M249.8 280.2h0M248.1 281.4h0M241.1 280.1h0M245.0 281.2h0M247.6 275.2h0M249.5 275.1h0M245.4 273.0h0M248.3 279.7h0M251.6 277.6h0M251.7 278.1h0M248.0 279.9h0M251.7 277.0h0M247.6 277.6h0M248.6 275.2h0M251.6 276.8h0M249.8 275.4h0M249.5 279.3h0M247.0 284.6h0M249.5 283.8h0M251.4 275.9h0M247.1 279.5h0M248.5 278.2h0M247.4 272.3h0M247.6 271.0h0M249.5 275.7h0M246.0 277.4h0M249.2 273.5h0M242.7 274.7h0M241.8 275.0h0M253.4 274.7h0M250.4 273.7h0M249.3 277.0h0M248.2 279.9h0M254.0 278.7h0M248.7 275.0h0M250.2 277.3h0M251.0 277.9h0M253.9 271.7h0M247.4 280.9h0M247.2 275.5h0M247.5 273.6h0M248.7 285.9h0M252.0 274.5h0M245.5 276.8h0M251.6 275.4h0M246.1 280.9h0M251.1 276.9h0M244.8 273.1h0M246.1 270.9h0M250.8 276.1h0M249.9 284.1h0M252.1 274.4h0M251.1 281.8h0M245.9 275.0h0M243.1 263.3h0M245.1 262.3h0M241.8 264.9h0M242.9 265.4h0M243.6 265.0h0M244.7 262.7h0M243.2 264.4h0M243.4 265.5h0M242.0 264.5h0M244.3 265.7h0M242.3 267.7h0M246.2 263.5h0M243.6 268.3h0M244.3 265.5h0M243.0 264.6h0M243.0 264.6h0M265.3 235.6h0M263.5 234.3h0M264.1 234.8h0M263.9 237.7h0M264.7 236.9h0M264.7 236.2h0M264.0 235.7h0M265.3 234.5h0M266.2 236.2h0M263.1 235.4h0M263.2 236.4h0M263.1 237.9h0M263.0 232.7h0M263.1 233.1h0M264.1 237.7h0M265.2 234.1h0M263.0 238.8h0M264.7 236.2h0M262.3 265.5h0M265.9 258.4h0M266.0 260.6h0M264.0 265.8h0M266.6 257.4h0M255.6 227.5h0M265.0 231.6h0M263.2 233.8h0M244.3 263.7h0M248.9 242.9h0M254.9 282.0h0M227.6 286.5h0M253.2 285.5h0M266.4 240.4h0M229.1 277.1h0M268.8 232.2h0M263.2 260.6h0M252.4 254.8h0M240.6 260.4h0M228.0 312.2h0M249.2 239.2h0M263.8 261.4h0M259.2 276.3h0M260.7 236.6h0M240.2 258.6h0M255.3 269.6h0M233.7 311.5h0M246.1 266.4h0M227.1 289.2h0M255.1 241.8h0M258.5 275.4h0M246.3 261.6h0M242.2 242.2h0M239.8 247.9h0M263.4 254.3h0M250.5 241.3h0M255.2 286.3h0M247.8 281.0h0M255.2 278.0h0M254.6 252.5h0M247.3 295.3h0M256.4 265.3h0M253.2 252.1h0M250.3 251.0h0M253.9 286.0h0M257.4 250.6h0M245.9 292.1h0M268.4 255.9h0M227.4 306.8h0M240.9 273.3h0M248.4 266.2h0M254.8 261.8h0M252.5 285.2h0M255.3 264.2h0M249.3 293.2h0M242.2 298.8h0M247.9 291.7h0M247.6 284.1h0M266.6 245.2h0M243.5 276.0h0M228.6 306.8h0M262.7 231.3h0M252.5 282.2h0M248.0 289.5h0M241.3 251.2h0M230.6 303.9h0M252.2 265.0h0M250.0 244.7h0M229.0 306.5h0M254.0 291.6h0M252.1 276.8h0M256.6 279.5h0M252.8 258.7h0M258.5 239.9h0M247.7 292.4h0M259.7 244.6h0M252.4 262.6h0M236.2 280.3h0M249.7 286.8h0M240.1 259.5h0M267.9 236.2h0M241.7 287.9h0M243.9 277.5h0M270.6 233.0h0M254.2 283.9h0M269.9 250.9h0M261.8 252.3h0M246.7 266.5h0M231.5 306.5h0M252.1 263.5h0M249.1 240.7h0M248.9 285.4h0M245.0 295.8h0M244.0 298.3h0M231.6 292.8h0M242.9 276.8h0M251.0 289.5h0M247.6 254.8h0M265.6 246.9h0M231.6 293.7h0M260.6 241.8h0M240.4 256.7h0M252.1 261.6h0M274.2 229.9h0M248.5 233.9h0M237.7 269.0h0M248.0 241.5h0M260.0 232.2h0M271.1 244.4h0M243.2 267.4h0M254.5 277.6h0M256.5 242.8h0M250.9 253.1h0M251.0 285.9h0M252.2 254.3h0M272.3 225.1h0M239.2 260.3h0M245.1 247.7h0M256.0 290.4h0M258.8 251.1h0M259.0 233.2h0M252.3 292.6h0M239.5 265.2h0M261.0 250.4h0M244.3 250.7h0M241.0 239.9h0M262.1 245.6h0M252.8 262.8h0M242.7 297.8h0M243.0 293.6h0M244.9 279.8h0M245.8 269.2h0M245.0 280.4h0M266.9 258.4h0M265.2 261.4h0M239.2 266.4h0M268.1 249.9h0M242.8 254.9h0M261.7 245.7h0M234.1 307.2h0M265.3 235.7h0M246.2 233.1h0M242.9 239.3h0M241.5 247.1h0M256.7 275.7h0M261.4 243.6h0M256.3 283.8h0M240.2 281.5h0M238.0 275.0h0M236.1 302.7h0M251.7 264.8h0M263.1 243.9h0M267.2 258.7h0M250.2 268.6h0M247.6 261.1h0M232.8 307.1h0M270.4 232.4h0M235.4 273.8h0M269.9 240.3h0M228.6 282.2h0M268.5 231.9h0M238.1 267.5h0M259.7 269.6h0M245.1 262.2h0M260.4 235.4h0M254.1 252.2h0M260.3 275.0h0M261.7 244.4h0M248.7 251.8h0M231.4 296.1h0M246.5 285.1h0M255.8 282.3h0M257.7 232.7h0M260.4 260.3h0M253.4 272.4h0M253.2 250.0h0M236.0 292.4h0M243.6 269.6h0M255.2 255.6h0M233.9 308.0h0M259.2 238.2h0M257.5 245.5h0M243.4 246.1h0M270.1 236.6h0M266.9 254.4h0M263.8 243.4h0M233.2 288.7h0M265.3 255.7h0M256.4 276.5h0M246.9 263.8h0M247.1 278.9h0M250.2 285.7h0M248.7 289.4h0M259.4 268.3h0M261.2 266.3h0M261.6 266.1h0M263.8 265.9h0"/>
<rect x="352.8" y="183.3" width="2" height="1.4" fill="#1f77b4" fill-opacity="0.75"/>
<text x="358.2" y="184.8" class="lg" text-anchor="middle">0</text>
<rect x="352.8" y="185.9" width="2" height="1.4" fill="#ff7f0e" fill-opacity="0.75"/>
<text x="358.2" y="187.3" class="lg" text-anchor="middle">1</text>
<rect x="352.8" y="188.4" width="2" height="1.4" fill="#2ca02c" fill-opacity="0.75"/>
<text x="358.2" y="189.8" class="lg" text-anchor="middle">2</text>
<rect x="352.8" y="191.0" width="2" height="1.4" fill="#d62728" fill-opacity="0.75"/>
<text x="358.2" y="192.4" class="lg" text-anchor="middle">3</text>
<rect x="352.8" y="193.5" width="2" height="1.4" fill="#9467bd" fill-opacity="0.75"/>
<text x="358.2" y="194.9" class="lg" text-anchor="middle">4</text>
<rect x="352.8" y="196.1" width="2" height="1.4" fill="#8c564b" fill-opacity="0.75"/>
<text x="358.2" y="197.5" class="lg" text-anchor="middle">5</text>
<rect x="352.8" y="198.6" width="2" height="1.4" fill="#e377c2" fill-opacity="0.75"/>
<text x="358.2" y="200.1" class="lg" text-anchor="middle">6</text>
<rect x="352.8" y="201.2" width="2" height="1.4" fill="#7f7f7f" fill-opacity="0.75"/>
<text x="358.2" y="202.6" class="lg" text-anchor="middle">7</text>
</g>
<g id="pf">
<rect x="376.5" y="181.5" width="164" height="140" fill="none" stroke="#c2c2c2" stroke-width="1"/>
<line x1="393.7" y1="322" x2="393.7" y2="323" stroke="#999" stroke-width="0.6"/>
<text x="393.7" y="324.3" class="tk" text-anchor="middle">−20</text>
<line x1="419.1" y1="322" x2="419.1" y2="323" stroke="#999" stroke-width="0.6"/>
<text x="419.1" y="324.3" class="tk" text-anchor="middle">−10</text>
<line x1="444.5" y1="322" x2="444.5" y2="323" stroke="#999" stroke-width="0.6"/>
<text x="444.5" y="324.3" class="tk" text-anchor="middle">0</text>
<line x1="469.9" y1="322" x2="469.9" y2="323" stroke="#999" stroke-width="0.6"/>
<text x="469.9" y="324.3" class="tk" text-anchor="middle">10</text>
<line x1="495.3" y1="322" x2="495.3" y2="323" stroke="#999" stroke-width="0.6"/>
<text x="495.3" y="324.3" class="tk" text-anchor="middle">20</text>
<line x1="520.7" y1="322" x2="520.7" y2="323" stroke="#999" stroke-width="0.6"/>
<text x="520.7" y="324.3" class="tk" text-anchor="middle">30</text>
<line x1="375" y1="204.5" x2="376" y2="204.5" stroke="#999" stroke-width="0.6"/>
<text x="374.7" y="205.2" class="tk" text-anchor="end">20</text>
<line x1="375" y1="232.4" x2="376" y2="232.4" stroke="#999" stroke-width="0.6"/>
<text x="374.7" y="233.1" class="tk" text-anchor="end">10</text>
<line x1="375" y1="260.3" x2="376" y2="260.3" stroke="#999" stroke-width="0.6"/>
<text x="374.7" y="261.0" class="tk" text-anchor="end">0</text>
<line x1="375" y1="288.2" x2="376" y2="288.2" stroke="#999" stroke-width="0.6"/>
<text x="374.7" y="288.9" class="tk" text-anchor="end">−10</text>
<line x1="375" y1="316.1" x2="376" y2="316.1" stroke="#999" stroke-width="0.6"/>
<text x="374.7" y="316.8" class="tk" text-anchor="end">−20</text>
<path stroke="#1f77b4" stroke-width="1.3" stroke-linecap="square" d="M465.6 215.7h0M465.7 214.7h0M401.7 237.5h0M400.7 237.9h0M474.0 263.6h0M473.0 263.3h0"/>
<path stroke="#ff7f0e" stroke-width="1.3" stroke-linecap="square" d="M453.0 212.9h0M452.6 209.3h0M450.6 215.4h0M448.6 216.7h0M449.4 216.4h0M451.2 216.5h0M453.1 210.5h0M455.3 218.2h0M452.7 213.8h0M452.5 211.9h0M455.0 213.1h0M452.8 212.4h0M451.6 211.2h0M455.4 214.1h0M454.8 214.5h0M451.5 213.6h0M451.8 214.5h0M452.1 213.7h0M450.1 212.4h0M456.2 212.7h0M450.8 215.3h0M455.7 210.7h0M452.5 212.8h0M449.4 216.4h0M452.8 214.6h0M451.4 215.6h0M451.8 214.1h0M450.7 211.3h0M455.5 213.1h0M453.4 214.4h0M452.0 213.1h0M454.1 213.7h0M452.6 214.5h0M455.2 216.2h0M453.6 213.0h0M450.1 216.9h0M454.8 214.1h0M453.9 216.5h0M454.5 216.8h0M452.0 218.4h0M450.4 216.7h0M453.8 216.7h0M456.6 218.3h0M450.6 210.1h0M454.5 211.8h0M452.8 216.6h0M449.6 209.0h0M453.4 214.6h0M451.9 215.3h0M449.8 209.1h0M452.2 211.3h0M447.1 217.2h0M452.6 216.8h0M449.3 212.5h0M449.3 211.6h0M453.4 212.0h0M454.0 216.5h0M459.8 209.6h0M455.9 214.8h0M452.7 209.4h0M451.2 218.1h0M452.5 215.5h0M401.5 255.8h0M397.4 259.2h0M395.6 253.7h0M391.3 259.3h0M400.7 257.4h0M399.7 255.1h0M398.2 254.1h0M396.8 254.9h0M402.6 256.4h0M397.3 253.1h0M395.3 259.4h0M399.2 255.0h0M396.3 251.6h0M397.2 257.3h0M396.1 254.1h0M396.7 255.1h0M392.1 254.1h0M394.6 257.3h0M394.9 256.5h0M402.6 253.9h0M395.4 255.3h0M397.4 251.9h0M399.0 260.6h0M396.6 254.2h0M393.9 255.7h0M393.2 251.6h0M401.8 252.2h0M401.1 259.2h0M398.3 256.4h0M404.0 254.2h0M395.5 250.9h0M397.6 259.1h0M400.7 252.1h0M394.6 253.3h0M398.4 254.2h0M398.2 255.6h0M396.4 254.7h0M398.2 254.5h0M399.2 260.2h0M399.5 254.9h0M391.8 255.9h0M390.9 250.7h0M400.3 256.8h0M396.9 249.8h0M396.2 252.8h0M399.6 261.3h0M398.2 252.5h0M393.5 254.6h0M396.9 251.5h0M397.8 251.5h0M401.2 257.9h0M401.1 253.4h0M399.2 254.4h0M396.1 253.8h0M393.1 250.6h0M400.1 254.2h0M398.2 257.7h0M391.6 252.5h0M398.0 255.9h0M396.2 257.8h0M398.2 251.3h0M394.3 257.1h0M399.0 249.3h0M402.0 256.5h0M402.0 253.7h0M396.5 251.5h0M406.0 254.3h0M402.8 252.9h0M398.0 250.0h0M396.2 257.6h0M393.2 257.9h0M398.6 251.8h0M395.8 253.5h0M397.3 253.2h0M394.7 253.9h0M410.0 243.7h0M412.0 248.0h0M409.0 246.2h0M410.8 244.3h0M413.7 245.2h0M415.0 244.7h0M412.8 245.8h0M410.6 247.4h0M411.7 247.4h0M412.0 244.1h0M411.9 246.3h0M414.0 244.4h0M412.0 242.8h0M413.3 244.1h0M408.5 246.1h0M414.2 243.2h0M409.9 244.7h0M409.8 247.0h0M410.5 244.8h0M413.2 244.7h0M412.9 244.3h0M409.6 242.6h0M415.7 245.6h0M412.5 246.2h0M412.4 246.3h0M415.8 244.2h0M409.0 244.2h0M409.4 247.7h0M413.7 247.6h0M413.3 250.8h0M409.9 241.2h0M413.2 247.4h0M413.6 247.1h0M411.6 246.5h0M417.6 256.3h0M415.0 249.4h0M410.2 245.5h0M414.8 251.3h0M414.9 250.9h0M414.2 251.6h0M418.1 255.4h0M416.4 249.7h0M414.5 251.4h0M413.0 249.1h0M394.9 273.1h0M396.6 275.0h0M395.7 274.8h0M393.3 273.3h0M394.5 274.1h0M395.7 275.2h0M391.7 275.3h0M391.7 274.0h0M394.3 271.1h0M395.3 275.5h0M394.7 274.4h0M394.1 273.3h0M394.4 274.1h0M395.3 272.8h0M395.7 275.5h0M394.7 274.3h0M396.4 271.9h0M396.2 275.7h0M395.8 276.0h0M393.4 274.7h0M396.7 276.1h0M395.6 272.2h0M396.4 277.5h0M397.6 275.7h0M391.2 277.1h0M394.7 270.2h0M396.0 272.2h0M391.9 273.9h0M398.2 274.5h0M395.7 278.7h0M399.0 275.0h0M394.5 272.7h0M393.3 276.0h0M396.1 275.4h0M397.5 273.7h0M397.5 282.8h0M398.3 283.5h0M398.0 280.8h0M398.0 279.4h0M395.6 282.5h0M397.5 282.0h0M395.5 280.6h0M396.8 279.7h0M394.9 280.7h0M398.6 282.1h0M387.5 302.0h0M392.7 292.7h0M389.3 303.9h0M392.4 307.8h0M394.1 303.1h0M390.9 304.7h0M387.8 301.9h0M393.2 308.7h0M389.2 301.9h0M390.6 306.6h0M389.7 307.1h0M386.2 301.5h0M389.1 304.7h0M393.8 297.0h0M386.4 303.2h0M387.3 296.9h0M393.7 303.8h0M391.7 300.5h0M393.7 301.3h0M393.9 299.0h0M386.6 302.8h0M387.2 304.4h0M390.8 299.0h0M390.1 300.9h0M393.3 299.9h0M388.2 306.2h0M398.3 308.9h0M390.0 302.8h0M395.6 301.7h0M386.1 302.5h0M391.5 299.3h0M383.6 297.2h0M392.3 299.5h0M389.3 302.8h0M392.1 301.0h0M391.7 299.1h0M388.4 298.6h0M394.1 302.0h0M387.0 300.9h0M389.0 304.5h0M383.8 298.6h0M388.4 310.7h0M393.4 301.7h0M392.5 309.0h0M388.9 300.8h0M394.4 303.8h0M392.3 300.4h0M397.1 307.9h0M391.9 304.4h0M389.1 303.6h0M392.4 300.9h0M387.0 301.0h0M387.5 300.9h0M390.8 305.8h0M397.3 302.2h0M385.3 300.4h0M390.1 295.3h0M391.1 297.0h0M390.9 301.7h0M388.6 301.8h0M387.8 300.0h0M396.8 308.8h0M394.8 304.5h0M387.3 307.0h0M389.6 301.9h0M388.7 302.4h0M388.2 301.8h0M385.7 300.8h0M398.4 301.8h0M388.9 303.9h0M392.5 298.3h0M389.0 305.2h0M390.8 302.5h0M395.7 299.8h0M390.1 300.3h0M395.4 295.5h0M387.3 300.3h0M392.3 304.1h0M395.1 296.8h0M392.6 301.1h0M387.3 303.9h0M386.3 295.1h0M388.4 297.0h0M387.4 303.3h0M391.0 307.5h0M398.3 292.3h0M397.1 293.5h0M396.2 296.2h0M397.4 291.4h0M400.0 295.1h0M399.4 295.5h0M399.9 295.4h0M401.1 296.2h0M399.4 296.1h0M395.8 295.0h0M398.1 295.7h0M395.9 298.6h0M398.9 292.9h0M395.3 294.8h0M398.5 293.9h0M398.8 294.0h0M399.7 293.9h0M398.6 297.3h0M403.8 293.3h0M397.7 293.6h0M400.2 293.0h0M397.7 295.3h0M411.4 289.5h0M412.1 288.1h0M410.7 290.1h0M413.0 290.4h0M410.3 290.1h0M413.9 291.3h0M412.6 289.6h0M413.6 289.9h0M411.1 289.7h0M414.8 290.9h0M414.4 290.1h0M414.1 289.9h0M412.5 293.6h0M413.8 290.0h0M412.6 291.0h0M415.1 305.6h0M411.6 305.8h0M413.7 306.3h0M415.2 306.5h0M414.6 304.9h0M414.7 308.7h0M414.6 306.5h0M413.8 308.3h0M412.5 306.0h0M414.2 307.1h0M413.1 306.5h0M413.3 306.3h0M403.3 304.4h0M403.4 306.0h0M402.6 305.1h0M403.9 304.4h0M403.6 304.4h0M404.3 307.1h0M404.2 312.6h0M403.2 313.0h0M402.7 314.4h0M401.6 313.9h0M402.6 314.2h0M402.8 312.2h0M425.9 296.6h0M425.4 296.1h0M424.4 291.7h0M427.1 296.5h0M425.6 295.4h0M427.3 294.5h0M424.0 295.0h0M427.6 293.0h0M427.6 294.2h0M423.3 297.4h0M425.2 293.1h0M424.7 296.9h0M427.6 294.6h0M426.1 296.5h0M424.1 295.9h0M425.3 294.4h0M424.4 295.4h0M425.4 294.4h0M424.6 297.2h0M425.8 296.8h0M427.6 296.3h0M429.6 293.9h0M426.9 294.8h0M428.9 298.2h0M421.7 293.7h0M426.6 296.7h0M431.8 277.5h0M430.9 279.8h0M429.2 281.0h0M422.3 279.7h0M426.1 280.7h0M428.7 274.9h0M430.6 274.8h0M426.5 272.7h0M429.3 279.3h0M432.7 277.2h0M432.8 277.7h0M429.1 279.5h0M432.8 276.6h0M428.7 277.2h0M429.7 274.8h0M432.7 276.4h0M430.9 275.1h0M430.6 278.9h0M428.1 284.1h0M430.6 283.4h0M432.5 275.6h0M428.2 279.1h0M429.6 277.8h0M428.5 271.9h0M428.7 270.6h0M430.6 275.4h0M427.2 277.0h0M430.3 273.1h0M423.9 274.3h0M422.9 274.6h0M434.5 274.3h0M431.5 273.3h0M430.4 276.7h0M429.2 279.5h0M435.0 278.3h0M429.8 274.6h0M431.3 276.9h0M432.1 277.5h0M435.0 271.4h0M428.5 280.5h0M428.3 275.2h0M428.6 273.3h0M429.8 285.5h0M433.1 274.2h0M426.7 276.4h0M432.6 275.1h0M427.2 280.5h0M432.2 276.5h0M425.9 272.8h0M427.2 270.6h0M431.8 275.7h0M431.0 283.6h0M433.2 274.0h0M432.2 281.4h0M427.1 274.7h0M424.2 263.0h0M426.3 262.1h0M422.9 264.6h0M424.1 265.1h0M424.7 264.7h0M425.8 262.4h0M424.4 264.1h0M424.5 265.2h0M423.2 264.2h0M425.4 265.4h0M423.5 267.4h0M427.3 263.2h0M424.8 267.9h0M425.4 265.2h0M424.1 264.3h0M424.1 264.3h0M446.2 235.5h0M444.5 234.3h0M445.0 234.7h0M444.9 237.6h0M445.7 236.8h0M445.7 236.2h0M444.9 235.6h0M446.3 234.4h0M447.1 236.1h0M444.0 235.3h0M444.1 236.3h0M444.1 237.8h0M444.0 232.7h0M444.0 233.1h0M445.1 237.6h0M446.1 234.1h0M444.0 238.7h0M445.6 236.1h0M466.7 245.4h0M467.6 237.3h0M464.0 239.0h0M460.4 233.2h0M462.9 233.6h0M462.5 237.2h0M471.5 233.9h0M462.2 236.3h0M464.3 240.5h0M460.8 234.0h0M456.5 233.6h0M464.7 237.0h0M458.9 235.6h0M462.8 238.6h0M460.5 236.0h0M455.8 232.9h0M468.8 229.2h0M461.4 237.6h0M461.3 234.0h0M462.5 236.8h0M462.4 230.3h0M462.1 233.9h0M460.6 237.7h0M465.1 240.0h0M460.8 240.1h0M467.1 240.8h0M467.9 236.4h0M462.0 239.7h0M457.5 237.6h0M460.7 235.6h0M456.1 233.8h0M462.6 240.0h0M466.4 236.6h0M462.0 234.0h0M464.2 236.0h0M465.0 243.0h0M462.6 231.6h0M459.4 231.8h0M458.2 241.4h0M463.6 231.6h0M465.2 241.3h0M461.3 234.5h0M461.4 237.9h0M465.1 241.0h0M467.3 241.0h0M470.3 241.7h0M457.3 236.2h0M465.6 234.4h0M468.3 234.6h0M460.1 247.1h0M467.2 238.6h0M468.3 244.5h0M465.7 219.9h0M461.2 233.9h0M459.8 238.4h0M469.5 233.7h0M459.1 251.2h0M462.2 228.5h0M465.3 240.0h0M461.0 242.6h0M462.0 230.6h0M465.0 242.4h0M461.4 239.4h0M463.8 256.7h0M461.0 246.7h0M464.0 236.2h0M467.4 243.3h0M469.8 239.4h0M461.5 233.3h0M466.5 241.1h0M470.4 240.0h0M468.9 247.6h0M464.9 226.7h0M458.9 227.0h0M471.3 231.2h0M469.7 241.1h0M471.9 244.1h0M463.7 235.7h0M464.6 238.3h0M461.8 236.8h0M471.4 225.2h0M465.3 230.7h0M465.0 242.9h0M463.9 242.5h0M457.1 244.8h0M461.5 241.4h0M465.0 219.0h0M460.8 238.6h0M471.1 239.1h0M465.3 227.2h0M470.6 249.7h0M464.3 235.5h0M457.0 243.2h0M476.3 242.1h0M469.8 240.8h0M459.8 246.4h0M458.7 235.6h0M465.4 243.2h0M466.0 239.8h0M460.8 228.1h0M487.7 225.4h0M482.2 223.1h0M485.5 220.7h0M482.1 221.6h0M488.1 230.1h0M495.4 222.1h0M484.7 232.2h0M486.6 227.0h0M494.2 227.0h0M482.8 222.9h0M488.8 229.7h0M482.0 224.3h0M489.5 230.8h0M484.9 231.0h0M489.7 220.9h0M486.2 230.1h0M485.1 219.5h0M486.3 231.5h0M493.7 219.2h0M497.8 223.7h0M491.2 233.6h0M491.3 229.0h0M482.8 231.0h0M484.6 217.8h0M498.7 231.4h0M494.6 224.6h0M493.3 235.0h0M493.6 228.3h0M482.6 227.7h0M478.7 221.3h0M487.8 224.3h0M486.8 227.9h0M495.1 233.8h0M487.2 233.5h0M484.3 227.0h0M491.0 223.2h0M486.3 222.9h0M487.9 235.2h0M482.2 230.7h0M481.3 220.0h0M479.2 240.2h0M502.0 232.6h0M482.5 234.4h0M484.9 235.1h0M488.9 231.1h0M490.9 224.4h0M484.5 215.5h0M484.2 217.9h0M486.1 221.5h0M487.7 232.4h0M478.0 222.6h0M481.0 234.7h0M497.9 235.5h0M484.8 240.3h0M477.4 240.5h0M480.5 230.2h0M485.7 229.7h0M477.6 223.6h0M490.0 230.6h0M494.6 229.5h0M502.0 223.3h0M479.1 239.2h0M481.0 233.0h0M486.6 220.8h0M484.8 224.9h0M483.9 234.8h0M491.2 224.4h0M481.3 231.1h0M486.4 236.9h0M486.8 227.6h0M481.6 221.9h0M480.7 225.8h0M484.3 234.7h0M484.5 227.4h0M479.3 241.7h0M490.2 242.8h0M492.1 240.5h0M485.4 234.5h0M494.5 242.1h0M489.7 234.8h0M495.2 223.7h0M489.7 222.0h0M482.6 224.0h0M486.1 230.1h0M490.0 217.6h0M499.9 238.1h0M491.8 226.1h0M486.4 233.3h0M489.7 215.5h0M491.9 252.1h0M475.0 236.8h0M489.4 228.0h0M496.0 219.5h0M488.1 240.6h0M485.7 225.6h0M487.8 225.4h0M497.1 221.7h0M492.7 218.9h0M491.4 228.1h0M470.2 228.9h0M480.1 225.4h0M497.1 220.0h0M480.1 240.4h0M487.8 241.2h0M489.1 221.9h0M486.6 238.7h0M493.2 228.9h0M487.3 228.0h0M483.2 244.3h0M487.1 219.9h0M483.9 234.7h0M491.2 227.8h0M482.7 229.1h0M476.1 218.5h0M492.2 225.1h0M489.5 238.6h0M491.3 229.1h0M500.9 234.2h0M484.7 234.7h0M489.7 222.1h0M487.5 227.6h0M474.2 227.5h0M485.2 225.4h0M476.3 226.1h0M486.8 229.7h0M479.6 233.9h0M479.1 227.1h0M495.6 223.4h0M483.7 237.5h0M484.5 226.5h0M488.5 237.3h0M472.6 222.3h0M480.5 220.2h0M481.4 222.2h0M489.0 221.8h0M487.8 232.1h0M482.3 229.9h0M497.7 231.5h0M482.9 228.4h0M481.1 231.1h0M492.6 222.4h0M485.7 237.7h0M483.8 230.4h0M480.4 222.4h0M483.7 245.8h0M484.4 224.8h0M483.4 227.6h0M491.2 230.4h0M500.1 230.6h0M496.2 231.0h0M490.9 217.7h0M486.2 228.4h0M492.6 225.9h0M484.2 226.9h0M485.6 232.1h0M478.9 221.7h0M488.9 230.0h0M484.6 224.4h0M481.7 228.4h0M494.5 220.7h0M496.7 235.5h0M484.1 235.0h0M477.7 215.4h0M478.8 225.7h0M485.0 224.9h0M490.2 217.9h0M482.8 225.7h0M479.7 218.2h0M480.6 228.8h0M490.8 233.3h0M480.7 222.7h0M481.2 232.4h0M474.1 238.5h0M483.9 222.8h0M489.2 236.9h0M489.2 237.1h0M487.9 238.4h0M494.9 228.1h0M496.2 230.2h0M487.6 221.7h0M485.2 234.9h0M478.7 233.9h0M489.2 231.1h0M473.0 228.1h0M491.1 223.0h0M491.3 223.8h0M492.6 214.6h0M491.4 227.1h0M497.2 238.3h0M495.0 243.0h0M494.7 238.6h0M495.6 238.1h0M497.7 242.2h0M494.9 237.1h0M497.7 241.3h0M497.2 241.4h0M494.7 239.4h0M493.9 237.5h0M497.4 238.6h0M499.4 239.8h0M495.0 240.8h0M498.6 240.4h0M494.2 240.2h0M458.0 260.9h0M453.1 264.4h0M455.2 259.5h0M454.0 260.3h0M455.5 262.3h0M457.5 263.7h0M451.3 263.0h0M456.9 263.1h0M457.2 260.8h0M452.7 264.2h0M452.4 257.1h0M457.2 260.4h0M454.2 258.9h0M451.8 259.4h0M454.0 262.9h0M449.6 263.8h0M452.2 259.6h0M456.4 261.9h0M451.3 266.3h0M452.9 262.6h0M455.3 265.3h0M453.8 264.4h0M453.2 264.6h0M453.1 261.2h0M459.2 262.8h0M455.1 267.2h0M455.7 260.2h0M456.5 259.3h0M457.4 264.8h0M453.5 260.6h0M455.3 262.1h0M452.6 263.4h0M450.2 261.1h0M453.9 261.4h0M455.6 259.2h0M456.2 261.6h0M453.4 258.9h0M452.2 262.9h0M452.7 262.2h0M457.3 264.4h0M458.4 261.4h0M452.4 264.4h0M455.6 264.6h0M454.9 264.8h0M456.8 263.7h0M456.5 268.5h0M455.0 267.4h0M459.2 262.6h0M463.2 265.3h0M459.1 265.4h0M452.4 279.1h0M452.1 257.7h0M449.9 263.9h0M465.5 267.3h0M458.9 259.5h0M455.7 270.3h0M463.6 261.4h0M457.1 267.9h0M448.2 265.8h0M452.3 250.9h0M457.0 269.4h0M451.4 257.3h0M461.8 267.7h0M459.3 275.1h0M450.9 271.2h0M452.4 265.5h0M453.3 265.9h0M459.8 266.7h0M452.9 264.1h0M455.6 260.1h0M451.0 265.6h0M450.7 265.2h0M450.4 278.9h0M461.0 268.9h0M453.5 280.1h0M455.5 265.4h0M455.4 267.9h0M461.5 265.8h0M465.2 260.2h0M457.6 259.5h0M463.7 263.8h0M453.4 271.9h0M460.6 258.7h0M451.9 256.9h0M454.5 265.3h0M451.9 261.5h0M451.7 261.1h0M456.7 275.8h0M443.2 265.2h0M451.5 269.1h0M448.6 265.0h0M448.1 270.4h0M454.3 264.9h0M455.8 264.3h0M445.3 269.8h0M455.3 264.9h0M459.1 273.8h0M447.8 260.9h0M462.2 275.1h0M449.7 258.3h0M450.3 262.7h0M445.1 266.1h0M446.8 258.1h0M458.8 261.5h0M453.4 270.0h0M458.2 263.8h0M454.0 260.6h0M463.3 270.1h0M447.7 266.0h0M457.7 269.0h0M463.8 274.8h0M450.8 265.4h0M446.8 267.6h0M454.6 283.4h0M454.3 252.4h0M450.1 266.7h0M446.9 260.3h0M451.8 268.2h0M452.9 260.2h0M458.1 262.4h0M451.0 257.0h0M449.5 270.2h0M444.9 265.5h0M457.7 263.5h0M455.1 258.7h0M460.9 273.1h0M455.0 254.6h0M448.0 272.3h0M463.1 267.9h0M460.6 262.0h0M452.7 265.9h0M456.1 256.0h0M458.9 274.5h0M447.5 257.2h0M455.7 261.7h0M443.8 286.1h0M446.8 284.6h0M449.1 285.3h0M445.7 285.3h0M445.4 284.2h0M447.1 284.5h0M446.1 287.2h0M447.6 286.1h0M447.2 285.7h0M448.3 285.1h0M448.8 284.0h0M446.3 283.5h0M452.9 291.2h0M454.3 290.3h0M453.2 290.5h0M452.6 289.9h0M453.2 289.5h0M437.6 292.2h0M436.7 290.9h0M435.8 294.4h0M435.9 294.0h0M438.2 291.7h0M436.1 293.4h0M439.5 291.0h0M437.1 293.4h0M437.9 294.5h0M436.8 292.8h0M436.0 294.6h0M436.6 289.5h0M436.6 227.5h0M475.6 215.1h0M475.1 254.3h0M450.7 281.4h0M479.1 252.4h0M445.9 231.6h0M402.3 289.1h0M465.6 217.8h0M476.0 248.1h0M444.2 233.7h0M455.3 254.1h0M468.9 239.4h0M390.8 302.7h0M455.1 256.3h0M425.5 263.4h0M409.7 257.2h0M430.0 242.8h0M456.2 280.9h0M456.1 239.9h0M495.5 232.4h0M490.6 238.6h0M436.0 281.6h0M408.8 286.0h0M390.3 303.8h0M434.2 285.1h0M447.3 240.3h0M482.2 235.5h0M444.9 273.1h0M410.4 276.7h0M480.2 234.4h0M456.8 277.6h0M449.7 232.1h0M455.6 243.1h0M444.1 260.4h0M461.3 252.3h0M433.4 254.6h0M389.1 281.8h0M421.7 260.1h0M496.4 220.9h0M409.3 311.5h0M430.3 239.0h0M444.8 261.1h0M488.4 219.3h0M440.2 275.9h0M441.7 236.5h0M421.4 258.3h0M436.3 269.3h0M414.9 310.9h0M386.5 288.0h0M467.1 247.6h0M427.2 266.1h0M491.2 247.2h0M487.9 245.7h0M397.4 274.1h0M401.3 255.0h0M399.2 303.2h0M445.6 272.8h0M491.3 248.6h0M461.1 281.8h0M461.9 269.7h0M471.2 222.4h0M408.4 288.7h0M406.1 267.5h0M414.1 257.5h0M436.1 241.7h0M448.6 285.6h0M483.2 223.3h0M439.5 275.1h0M390.1 293.5h0M427.4 261.3h0M423.3 242.0h0M408.6 257.5h0M402.4 297.4h0M498.9 224.0h0M493.9 221.6h0M464.0 244.7h0M461.0 277.5h0M421.0 247.8h0M459.3 270.7h0M441.4 282.6h0M441.6 287.2h0M404.9 246.6h0M462.3 243.4h0M457.1 255.3h0M401.1 273.2h0M496.6 222.4h0M444.4 254.0h0M431.5 241.2h0M415.4 238.1h0M395.5 269.9h0M436.2 285.9h0M428.9 280.6h0M436.2 277.6h0M396.4 267.6h0M400.6 266.3h0M435.6 252.3h0M449.9 276.7h0M452.3 282.2h0M395.7 259.6h0M476.0 243.8h0M407.4 254.4h0M391.6 256.8h0M428.4 294.8h0M409.1 275.6h0M415.2 270.4h0M415.8 245.1h0M487.5 219.3h0M390.1 301.0h0M465.8 236.0h0M491.9 243.6h0M476.8 221.7h0M437.4 265.0h0M434.3 251.9h0M431.3 250.9h0M474.3 223.8h0M434.9 285.6h0M393.6 258.3h0M481.2 234.6h0M463.4 273.4h0M452.3 274.6h0M438.4 250.4h0M427.1 291.6h0M449.2 255.7h0M418.5 254.5h0M395.0 288.4h0M446.5 283.2h0M479.9 218.8h0M397.7 267.4h0M393.8 303.4h0M405.0 281.4h0M460.8 246.4h0M408.7 306.2h0M422.0 272.9h0M450.9 287.0h0M466.9 263.4h0M446.5 277.4h0M407.3 296.0h0M493.0 238.0h0M453.9 272.8h0M391.7 274.2h0M411.9 253.2h0M403.8 244.8h0M487.4 226.3h0M429.5 265.9h0M435.9 261.5h0M433.6 284.7h0M436.3 263.9h0M476.3 225.1h0M430.4 292.7h0M423.4 298.3h0M468.5 218.4h0M429.0 291.2h0M445.7 281.8h0M455.3 242.7h0M410.3 269.8h0M498.6 227.9h0M413.3 262.4h0M458.0 245.8h0M396.0 298.3h0M402.8 263.5h0M449.6 256.8h0M469.5 237.7h0M405.2 308.0h0M394.9 303.9h0M428.7 283.7h0M467.0 257.8h0M447.6 245.0h0M414.8 241.8h0M487.5 250.6h0M395.4 277.6h0M424.7 275.6h0M491.9 217.7h0M409.9 306.2h0M443.6 231.3h0M450.9 287.6h0M459.5 258.3h0M393.4 302.3h0M455.6 276.6h0M433.6 281.7h0M412.2 240.1h0M487.1 234.7h0M429.1 289.1h0M422.4 251.0h0M491.1 234.9h0M411.9 303.3h0M433.2 264.7h0M399.7 281.2h0M460.2 252.2h0M431.1 244.5h0M460.7 283.1h0M415.2 238.5h0M410.3 305.9h0M435.0 291.2h0M403.0 280.1h0M487.6 230.8h0M433.1 276.4h0M408.3 269.9h0M398.9 250.3h0M437.6 279.1h0M486.5 230.4h0M404.7 265.4h0M433.8 258.5h0M439.5 239.8h0M489.2 232.1h0M428.8 291.9h0M452.2 261.0h0M407.2 305.3h0M440.7 244.5h0M433.4 262.3h0M492.2 249.0h0M417.4 279.9h0M430.8 286.4h0M470.3 253.1h0M412.7 268.5h0M398.9 255.8h0M421.3 259.3h0M481.4 223.9h0M448.8 236.1h0M394.2 256.5h0M394.7 263.0h0M469.7 245.4h0M403.1 250.5h0M403.0 299.0h0M394.7 288.7h0M422.9 287.4h0M474.7 227.7h0M450.5 279.0h0M425.1 277.1h0M496.1 217.7h0M451.5 233.0h0M477.6 237.6h0M471.3 247.6h0M460.6 282.4h0M435.2 283.5h0M450.8 250.7h0M484.2 251.3h0M442.8 252.1h0M427.8 266.2h0M404.8 299.9h0M447.2 285.3h0M400.5 309.3h0M479.3 240.5h0M459.8 268.1h0M474.5 252.8h0M412.7 305.9h0M433.1 263.2h0M465.5 276.9h0M443.6 291.3h0M430.2 240.5h0M468.5 231.1h0M388.7 306.9h0M495.1 241.6h0M430.0 285.0h0M426.1 295.3h0M491.6 228.0h0M464.9 252.0h0M403.9 249.3h0M449.3 275.5h0M425.1 297.8h0M449.4 273.8h0M412.9 292.3h0M418.0 244.5h0M401.0 274.8h0M474.7 226.8h0M446.8 268.4h0M395.9 267.5h0M500.2 223.2h0M424.0 276.4h0M486.1 238.2h0M432.0 289.0h0M483.9 234.0h0M498.3 224.4h0M461.3 238.2h0M495.1 227.1h0M491.5 230.8h0M394.3 300.8h0M472.3 240.7h0M494.7 226.7h0M428.7 254.6h0M446.6 246.7h0M412.9 293.2h0M416.4 247.6h0M441.5 241.7h0M469.5 222.6h0M421.6 256.5h0M433.2 261.3h0M481.8 236.2h0M476.9 245.6h0M466.4 226.8h0M455.1 229.8h0M398.0 259.0h0M429.6 233.8h0M418.9 268.7h0M455.0 255.4h0M487.4 231.2h0M406.6 260.7h0M457.2 247.0h0M500.8 232.5h0M449.6 282.0h0M429.1 241.4h0M450.9 252.8h0M441.0 232.1h0M497.5 229.5h0M396.7 278.1h0M481.4 221.8h0M456.1 241.0h0M393.0 292.9h0M418.9 256.3h0M398.7 247.4h0M451.9 244.2h0M497.2 234.1h0M424.3 267.1h0M456.7 248.6h0M435.5 277.2h0M437.5 242.7h0M432.0 252.9h0M432.1 285.5h0M395.6 295.2h0M433.2 254.1h0M397.1 264.8h0M474.3 222.5h0M417.6 248.8h0M417.2 257.6h0M453.2 225.1h0M495.7 247.9h0M459.2 280.7h0M420.4 260.0h0M420.2 247.9h0M440.9 282.8h0M395.0 306.0h0M465.7 223.0h0M426.2 247.5h0M437.0 290.0h0M393.2 307.3h0M439.8 250.9h0M466.0 242.0h0M467.8 256.0h0M440.0 233.2h0M433.4 292.1h0M491.5 230.1h0M456.1 240.7h0M413.2 263.9h0M455.0 258.1h0M455.6 255.4h0M420.7 264.9h0M467.5 231.7h0M496.4 239.0h0M499.9 220.2h0M451.5 256.8h0M452.0 254.6h0M441.9 250.2h0M408.6 243.5h0M425.4 250.5h0M404.5 261.8h0M396.5 301.5h0M422.2 239.8h0M401.8 262.5h0M466.6 257.4h0M463.0 261.4h0M443.1 245.4h0M433.8 262.5h0M423.9 297.3h0M424.1 293.1h0M426.1 279.4h0M481.3 238.6h0M455.3 235.3h0M426.9 268.9h0M497.5 228.9h0M392.0 268.4h0M495.2 218.8h0M426.1 280.0h0M447.8 258.2h0M447.3 285.6h0M391.0 268.4h0M401.0 300.2h0M394.4 280.5h0M466.8 241.8h0M453.6 247.3h0M414.0 240.3h0M393.6 295.0h0M446.1 261.2h0M457.3 265.8h0M420.4 266.1h0M399.6 270.6h0M486.5 239.6h0M449.0 249.7h0M424.0 254.7h0M414.7 250.1h0M402.6 247.8h0M488.2 237.7h0M395.9 280.1h0M442.6 245.5h0M393.3 253.0h0M415.4 306.6h0M395.3 304.2h0M479.3 222.9h0M446.3 235.6h0M395.2 251.7h0M427.3 233.1h0M424.1 239.2h0M496.5 230.2h0M450.8 281.9h0M401.4 267.6h0M407.0 250.8h0M447.3 273.1h0M422.7 247.0h0M465.4 263.2h0M469.3 229.5h0M400.8 288.2h0M485.7 250.5h0M474.6 240.9h0M499.2 244.3h0M388.5 302.5h0M454.0 258.7h0M400.0 261.4h0M437.7 275.3h0M448.6 276.9h0M384.7 297.8h0M490.2 235.6h0M442.3 243.5h0M437.3 283.3h0M421.4 281.1h0M499.9 237.8h0M418.6 259.2h0M466.3 236.6h0M488.0 235.5h0M419.2 274.6h0M470.5 225.1h0M417.3 302.2h0M432.7 264.5h0M412.6 239.5h0M389.5 305.2h0M444.0 243.8h0M402.4 294.5h0M472.5 244.1h0M496.1 231.8h0M445.9 268.3h0M442.6 292.0h0M477.0 219.3h0M448.1 258.5h0M431.3 268.2h0M457.4 284.9h0M397.4 282.9h0M465.1 275.7h0M428.7 260.8h0M414.0 306.5h0M451.2 232.3h0M416.6 273.5h0M479.4 247.3h0M450.8 240.2h0M409.9 281.8h0M407.1 283.5h0M449.3 231.9h0M419.2 267.2h0M385.7 298.9h0M464.7 255.7h0M482.7 233.8h0M440.7 269.3h0M477.4 217.1h0M426.3 261.9h0M409.9 258.5h0M418.6 253.1h0M407.7 243.0h0M490.0 225.0h0M412.0 258.4h0M391.1 250.4h0M390.5 309.2h0M441.3 235.3h0M435.1 252.0h0M487.8 227.2h0M408.2 242.6h0M390.7 299.0h0M441.2 274.7h0M416.0 267.6h0M442.6 244.2h0M410.8 250.1h0M470.5 230.8h0M429.8 251.6h0M412.7 295.6h0M419.8 255.1h0M398.5 303.9h0M427.6 284.6h0M386.4 284.3h0M436.8 281.9h0M403.5 267.2h0M482.4 230.6h0M438.7 232.7h0M441.4 260.1h0M467.1 248.0h0M440.9 281.9h0M416.6 254.9h0M488.2 235.0h0M491.7 237.2h0M393.6 265.8h0M480.0 225.5h0M461.1 238.1h0M486.7 236.9h0M434.4 272.1h0M413.9 256.6h0M391.4 292.7h0M474.3 239.6h0M399.3 255.3h0M482.0 221.8h0M434.2 249.8h0M489.2 229.5h0M461.1 246.6h0M418.0 241.9h0M397.4 293.0h0M388.6 295.4h0M417.2 291.9h0M464.4 270.7h0M446.4 274.2h0M424.7 269.3h0M436.2 255.4h0M415.1 307.4h0M495.2 218.9h0M440.2 238.1h0M398.2 279.5h0M392.6 303.3h0M478.5 241.2h0M397.1 270.5h0M438.5 245.4h0M460.0 234.0h0M424.6 246.0h0M451.0 236.5h0M459.3 252.3h0M447.8 254.2h0M392.9 302.4h0M419.6 242.5h0M414.7 243.7h0M480.5 219.2h0M405.6 310.0h0M444.7 243.3h0M405.6 268.4h0M495.8 235.5h0M450.8 277.1h0M467.8 257.4h0M420.7 249.7h0M392.8 307.2h0M413.9 268.5h0M391.1 269.7h0M459.9 222.2h0M499.0 230.6h0M414.5 288.2h0M411.5 245.7h0M488.1 243.1h0M446.3 255.5h0M463.5 237.0h0M404.0 245.7h0M437.4 276.1h0M495.5 243.5h0M465.4 252.5h0M464.6 249.6h0M452.9 284.4h0M428.0 263.5h0M448.3 285.9h0M428.2 278.5h0M431.3 285.3h0M446.3 288.8h0M485.0 216.1h0M429.7 289.0h0M485.6 251.0h0M440.4 268.0h0M395.7 288.5h0M395.2 292.5h0M403.7 294.8h0M394.0 291.5h0M391.6 290.9h0M401.5 293.7h0M392.0 295.2h0M390.6 283.5h0M394.0 294.3h0M397.2 295.6h0M400.8 295.7h0M402.7 296.4h0M394.6 286.0h0M400.2 290.5h0M402.6 295.0h0M395.1 281.3h0M402.0 292.6h0M394.6 280.0h0M390.6 283.8h0M394.6 283.0h0M391.0 282.3h0M395.8 280.7h0M393.5 287.6h0M403.7 296.2h0M396.6 281.4h0M394.5 292.3h0M396.7 290.2h0M401.9 292.0h0M394.9 279.6h0M398.5 291.1h0M445.6 265.9h0M449.6 267.9h0M444.5 271.8h0M458.7 271.4h0M454.2 271.6h0M448.5 267.5h0M444.3 278.8h0M449.0 270.1h0M459.5 280.7h0M445.8 272.7h0M451.5 267.9h0M448.9 270.0h0M456.1 266.6h0M459.6 269.2h0M447.1 266.3h0M458.1 279.8h0M442.1 274.4h0M448.2 275.8h0M447.2 282.1h0M445.0 279.6h0M445.9 276.6h0M448.9 274.4h0M450.7 276.2h0M442.1 266.0h0M459.2 269.5h0M447.6 269.2h0M453.0 282.6h0M448.4 270.7h0M447.4 265.4h0M442.5 265.8h0M447.0 282.6h0M443.5 274.8h0M444.8 265.6h0M456.6 267.2h0M443.4 279.6h0M445.5 268.5h0M458.6 268.4h0M456.5 270.4h0M451.5 270.5h0M447.3 281.7h0M467.3 262.2h0M464.6 261.1h0M458.2 259.1h0M463.4 278.7h0M464.9 280.1h0M459.6 262.3h0M467.7 270.4h0M462.9 284.4h0M466.6 279.1h0M462.6 263.9h0M464.9 269.5h0M464.3 263.7h0M467.8 261.9h0M456.0 282.8h0M463.4 275.0h0M457.5 266.8h0M457.3 270.2h0M463.4 278.7h0M464.3 267.3h0M458.8 279.8h0M468.3 263.6h0M459.9 265.2h0M468.3 257.5h0M467.1 279.9h0M458.7 277.3h0M459.3 276.0h0M460.1 284.3h0M460.6 281.2h0M462.3 268.1h0M468.2 262.8h0M466.4 275.2h0M460.2 281.6h0M465.3 282.6h0M460.3 276.5h0M455.4 278.9h0M459.1 284.1h0M466.2 269.5h0M457.0 280.3h0M457.3 286.1h0M457.9 282.6h0M460.9 284.9h0M458.2 284.6h0M458.3 270.4h0M463.2 273.5h0M463.8 277.8h0M463.7 280.5h0M460.9 277.8h0M467.4 272.6h0M467.1 269.3h0M453.5 284.9h0M458.5 283.0h0M455.8 289.5h0M456.9 274.5h0M462.8 274.7h0M463.7 276.4h0M456.9 269.1h0M454.9 288.3h0M458.9 273.1h0M454.7 287.6h0M463.4 282.9h0M465.2 271.2h0M463.8 266.8h0M462.7 273.3h0M462.6 270.8h0M457.1 282.3h0M467.6 273.8h0M453.8 289.7h0M464.6 267.9h0M458.1 278.4h0M464.7 279.0h0M470.8 256.4h0M464.2 253.0h0M471.9 267.5h0M466.3 257.0h0M464.8 262.0h0M468.6 252.8h0M473.9 256.0h0M467.9 263.0h0M476.3 254.8h0M468.4 250.4h0M474.6 265.2h0M469.3 258.8h0M465.9 267.3h0M469.5 250.7h0M463.3 256.4h0M464.6 266.2h0M471.4 258.5h0M474.2 264.2h0"/>
<path stroke="#2ca02c" stroke-width="1.3" stroke-linecap="square" d="M523.3 294.5h0M521.7 293.9h0M521.6 295.0h0M520.8 294.5h0M524.7 294.3h0M520.3 294.5h0M523.7 296.1h0M522.4 294.5h0M521.2 295.5h0M520.5 295.7h0M524.0 295.0h0M522.8 295.3h0M524.2 294.3h0M523.6 294.7h0M520.7 295.0h0M521.6 294.4h0M519.5 294.4h0M524.0 296.0h0M522.9 295.6h0M521.1 294.9h0M522.3 294.3h0M520.4 295.0h0M521.4 294.3h0M522.5 294.8h0M523.4 294.9h0M521.4 295.0h0M521.6 294.5h0M521.3 295.3h0M522.8 295.6h0M519.4 294.7h0M521.3 295.0h0M521.2 294.6h0M523.0 295.0h0M520.1 295.6h0M530.9 289.8h0M530.5 290.0h0M531.4 289.8h0M528.3 293.2h0M528.8 293.6h0M530.1 291.7h0M525.9 290.5h0M528.4 290.5h0M531.1 292.4h0M529.9 291.3h0M529.4 292.3h0M528.5 292.6h0M529.4 294.6h0M530.6 292.7h0M529.5 292.5h0M530.0 292.7h0M531.3 290.7h0M528.1 292.7h0M532.1 288.8h0M530.6 293.6h0M531.9 290.4h0M531.2 294.4h0M530.9 291.7h0M528.4 291.3h0M528.1 294.8h0M530.2 291.1h0M526.8 293.2h0M528.1 291.6h0M532.2 291.2h0M534.9 287.5h0M528.2 292.5h0M524.0 297.9h0M530.4 293.0h0M531.3 291.3h0M530.7 292.1h0M531.2 288.6h0M528.0 291.9h0M533.4 290.0h0M530.0 289.8h0M529.9 291.5h0M529.8 291.7h0M530.3 290.8h0M519.4 284.8h0M519.0 284.5h0M518.9 285.2h0M519.0 284.8h0M519.0 283.4h0M519.4 283.7h0M518.8 291.5h0M518.1 291.0h0M525.6 286.8h0M525.4 287.3h0"/>
<path stroke="#d62728" stroke-width="1.3" stroke-linecap="square" d="M436.3 190.8h0M436.0 189.3h0M435.7 189.2h0M436.4 192.2h0M435.7 189.7h0M436.9 190.9h0M436.4 189.3h0M436.2 191.4h0M434.7 189.9h0M434.0 188.8h0M434.1 190.2h0M434.8 190.8h0M436.5 190.2h0M433.3 189.8h0M436.2 190.6h0M434.5 189.8h0M432.1 196.3h0M433.8 196.3h0M432.9 197.6h0M432.4 196.8h0M433.0 197.0h0M431.9 197.0h0M434.0 195.7h0M433.6 197.0h0M432.4 198.5h0M433.5 196.0h0M433.0 197.4h0M432.8 197.5h0M432.9 197.5h0M434.1 196.4h0M435.3 193.6h0M435.5 192.5h0M434.3 193.8h0M435.5 196.3h0M433.6 192.6h0M436.5 191.4h0M434.4 193.9h0M436.2 195.7h0M434.6 193.6h0M434.0 196.5h0M434.5 193.6h0M435.4 194.2h0M435.1 192.5h0M435.1 193.6h0M436.1 195.6h0M434.6 195.3h0M437.8 199.0h0M438.4 199.0h0M437.1 197.8h0M437.9 195.8h0M438.8 197.6h0M437.7 200.3h0M438.1 197.5h0M438.6 199.0h0M438.6 198.2h0M439.1 199.4h0M437.3 207.3h0M437.0 205.9h0M437.2 206.1h0M438.1 207.3h0"/>
<path stroke="#9467bd" stroke-width="1.3" stroke-linecap="square" d="M449.1 302.7h0M453.2 302.2h0M449.4 304.3h0M452.5 302.8h0M451.5 304.1h0M448.8 303.2h0M449.4 301.0h0M451.8 299.9h0M451.7 305.1h0M449.2 301.3h0M448.9 304.0h0M450.9 303.6h0M451.4 301.8h0M449.9 299.5h0M450.9 303.3h0M448.6 305.5h0M450.8 296.8h0M449.5 299.8h0M451.5 308.4h0M448.4 303.1h0M451.6 310.7h0M453.2 312.6h0M450.4 313.2h0M450.5 310.6h0M454.0 311.5h0M450.5 308.7h0M451.3 309.9h0M454.0 307.5h0M452.9 311.3h0M453.0 311.0h0M454.6 311.0h0M453.5 311.2h0M455.1 306.3h0M454.2 309.5h0M451.6 308.1h0M448.9 309.3h0M450.9 311.0h0M449.6 312.9h0M452.5 309.6h0M450.9 308.5h0M450.2 309.0h0M452.1 309.7h0M449.7 309.5h0M450.6 310.4h0M455.2 311.3h0M451.5 306.8h0M449.7 306.7h0M453.3 308.5h0M452.2 308.8h0M452.2 312.8h0M450.9 309.4h0M450.7 311.8h0M450.3 307.8h0M449.7 307.2h0M452.9 315.2h0M450.4 311.9h0M452.5 307.9h0M451.6 309.6h0M450.9 313.9h0M448.9 310.8h0"/>
<path stroke="#8c564b" stroke-width="1.3" stroke-linecap="square" d="M415.2 230.1h0M414.4 230.3h0M415.2 231.3h0M414.9 230.4h0M414.3 231.4h0M415.1 232.0h0M413.6 230.8h0M413.2 228.8h0M416.7 231.4h0M414.9 231.5h0M412.2 227.2h0M414.5 230.2h0M413.5 229.1h0M414.1 230.3h0"/>
<path stroke="#e377c2" stroke-width="1.3" stroke-linecap="square" d="M436.9 306.5h0M437.8 307.8h0M437.5 307.4h0M436.1 305.1h0M439.0 308.8h0"/>
<rect x="532.5" y="182.9" width="2" height="1.4" fill="#1f77b4" fill-opacity="0.75"/>
<text x="537.9" y="184.3" class="lg" text-anchor="middle">0</text>
<rect x="532.5" y="185.5" width="2" height="1.4" fill="#ff7f0e" fill-opacity="0.75"/>
<text x="537.9" y="186.9" class="lg" text-anchor="middle">1</text>
<rect x="532.5" y="188.0" width="2" height="1.4" fill="#2ca02c" fill-opacity="0.75"/>
<text x="537.9" y="189.4" class="lg" text-anchor="middle">2</text>
<rect x="532.5" y="190.6" width="2" height="1.4" fill="#d62728" fill-opacity="0.75"/>
<text x="537.9" y="192.0" class="lg" text-anchor="middle">3</text>
<rect x="532.5" y="193.1" width="2" height="1.4" fill="#9467bd" fill-opacity="0.75"/>
<text x="537.9" y="194.5" class="lg" text-anchor="middle">4</text>
<rect x="532.5" y="195.7" width="2" height="1.4" fill="#8c564b" fill-opacity="0.75"/>
<text x="537.9" y="197.1" class="lg" text-anchor="middle">5</text>
<rect x="532.5" y="198.2" width="2" height="1.4" fill="#e377c2" fill-opacity="0.75"/>
<text x="537.9" y="199.7" class="lg" text-anchor="middle">6</text>
</g>
<g id="pg">
<rect x="193.5" y="353.5" width="167" height="142" fill="none" stroke="#c2c2c2" stroke-width="1"/>
<line x1="210.5" y1="496" x2="210.5" y2="497" stroke="#999" stroke-width="0.6"/>
<text x="210.5" y="498.3" class="tk" text-anchor="middle">−20</text>
<line x1="236.1" y1="496" x2="236.1" y2="497" stroke="#999" stroke-width="0.6"/>
<text x="236.1" y="498.3" class="tk" text-anchor="middle">−10</text>
<line x1="261.7" y1="496" x2="261.7" y2="497" stroke="#999" stroke-width="0.6"/>
<text x="261.7" y="498.3" class="tk" text-anchor="middle">0</text>
<line x1="287.3" y1="496" x2="287.3" y2="497" stroke="#999" stroke-width="0.6"/>
<text x="287.3" y="498.3" class="tk" text-anchor="middle">10</text>
<line x1="312.9" y1="496" x2="312.9" y2="497" stroke="#999" stroke-width="0.6"/>
<text x="312.9" y="498.3" class="tk" text-anchor="middle">20</text>
<line x1="338.5" y1="496" x2="338.5" y2="497" stroke="#999" stroke-width="0.6"/>
<text x="338.5" y="498.3" class="tk" text-anchor="middle">30</text>
<line x1="192" y1="376.9" x2="193" y2="376.9" stroke="#999" stroke-width="0.6"/>
<text x="191.7" y="377.6" class="tk" text-anchor="end">20</text>
<line x1="192" y1="404.8" x2="193" y2="404.8" stroke="#999" stroke-width="0.6"/>
<text x="191.7" y="405.5" class="tk" text-anchor="end">10</text>
<line x1="192" y1="432.7" x2="193" y2="432.7" stroke="#999" stroke-width="0.6"/>
<text x="191.7" y="433.4" class="tk" text-anchor="end">0</text>
<line x1="192" y1="460.6" x2="193" y2="460.6" stroke="#999" stroke-width="0.6"/>
<text x="191.7" y="461.3" class="tk" text-anchor="end">−10</text>
<line x1="192" y1="488.5" x2="193" y2="488.5" stroke="#999" stroke-width="0.6"/>
<text x="191.7" y="489.2" class="tk" text-anchor="end">−20</text>
<path stroke="#1f77b4" stroke-width="1.3" stroke-linecap="square" d="M254.4 363.0h0M254.1 361.5h0M253.9 361.3h0M254.5 364.4h0M253.8 361.8h0M255.0 363.1h0M254.6 361.4h0M254.4 363.5h0M252.8 362.0h0M252.1 361.0h0M252.2 362.3h0M252.9 363.0h0M254.6 362.4h0M251.4 361.9h0M254.4 362.8h0M252.6 362.0h0M250.2 368.5h0M251.9 368.5h0M251.0 369.9h0M250.5 369.1h0M251.1 369.2h0M250.0 369.2h0M252.1 367.9h0M251.7 369.3h0M250.5 370.8h0M251.6 368.2h0M251.1 369.6h0M250.8 369.7h0M250.9 369.7h0M252.2 368.6h0M253.5 365.8h0M253.7 364.7h0M252.4 366.0h0M253.7 368.5h0M251.7 364.8h0M254.7 363.6h0M252.5 366.1h0M254.3 367.9h0M252.8 365.8h0M252.1 368.7h0M252.6 365.8h0M253.5 366.4h0M253.2 364.7h0M253.2 365.8h0M254.2 367.9h0M252.7 367.5h0M255.9 371.3h0M256.5 371.2h0M255.3 370.1h0M256.1 368.0h0M257.0 369.9h0M255.9 372.6h0M256.3 369.7h0M256.8 371.3h0M256.8 370.5h0M257.3 371.7h0M255.5 379.6h0M255.2 378.2h0M255.4 378.4h0M256.3 379.6h0M271.5 385.3h0M271.1 381.6h0M269.0 387.8h0M267.0 389.1h0M267.8 388.8h0M269.6 388.9h0M271.6 382.8h0M273.8 390.6h0M271.2 386.1h0M271.0 384.3h0M273.5 385.4h0M271.2 384.8h0M270.0 383.5h0M273.9 386.4h0M273.3 386.9h0M269.9 386.0h0M270.2 386.9h0M270.6 386.1h0M268.5 384.7h0M274.7 385.1h0M269.2 387.7h0M274.2 383.0h0M270.9 385.2h0M267.8 388.8h0M271.3 387.0h0M269.8 388.0h0M270.2 386.5h0M269.1 383.7h0M274.0 385.5h0M271.9 386.8h0M270.4 385.5h0M272.6 386.1h0M271.0 386.9h0M273.7 388.6h0M272.1 385.4h0M268.5 389.3h0M273.3 386.5h0M272.4 388.9h0M273.0 389.2h0M270.4 390.8h0M268.8 389.1h0M272.3 389.1h0M275.1 390.7h0M269.0 382.4h0M273.0 384.2h0M271.3 389.0h0M268.0 381.3h0M271.8 387.0h0M270.3 387.7h0M268.2 381.5h0M270.6 383.6h0M265.4 389.6h0M271.0 389.2h0M267.7 384.9h0M267.7 384.0h0M271.9 384.4h0M272.5 388.9h0M278.4 381.9h0M274.4 387.2h0M271.2 381.7h0M269.6 390.5h0M270.9 387.9h0M219.0 428.5h0M214.9 432.0h0M213.0 426.4h0M208.7 432.1h0M218.2 430.2h0M217.2 427.8h0M215.7 426.8h0M214.2 427.7h0M220.1 429.1h0M214.7 425.8h0M212.7 432.2h0M216.7 427.7h0M213.7 424.3h0M214.7 430.1h0M213.6 426.9h0M214.2 427.8h0M209.4 426.8h0M212.0 430.1h0M212.3 429.2h0M220.2 426.6h0M212.9 428.1h0M214.9 424.6h0M216.5 433.4h0M214.0 426.9h0M211.3 428.4h0M210.6 424.3h0M219.3 424.9h0M218.6 432.0h0M215.8 429.1h0M221.6 426.9h0M212.9 423.6h0M215.1 431.8h0M218.2 424.8h0M212.0 426.0h0M215.9 426.9h0M215.7 428.4h0M213.9 427.4h0M215.6 427.3h0M216.6 433.0h0M217.0 427.7h0M209.1 428.6h0M208.2 423.4h0M217.9 429.6h0M214.4 422.5h0M213.6 425.5h0M217.1 434.1h0M215.7 425.2h0M210.9 427.3h0M214.3 424.2h0M215.3 424.2h0M218.7 430.6h0M218.6 426.1h0M216.7 427.1h0M213.6 426.5h0M210.5 423.3h0M217.6 427.0h0M215.7 430.4h0M209.0 425.2h0M215.5 428.7h0M213.6 430.5h0M215.6 424.0h0M211.7 429.9h0M216.5 422.0h0M219.6 429.3h0M219.5 426.4h0M213.9 424.2h0M223.6 427.0h0M220.4 425.6h0M215.5 422.6h0M213.6 430.4h0M210.6 430.6h0M216.1 424.5h0M213.2 426.2h0M214.7 426.0h0M212.1 426.6h0M227.7 416.3h0M229.7 420.6h0M226.7 418.9h0M228.5 416.9h0M231.5 417.8h0M232.8 417.3h0M230.6 418.4h0M228.3 420.1h0M229.5 420.1h0M229.7 416.7h0M229.6 419.0h0M231.7 417.1h0M229.7 415.4h0M231.1 416.7h0M226.1 418.8h0M232.0 415.8h0M227.6 417.4h0M227.5 419.6h0M228.1 417.4h0M231.0 417.4h0M230.6 416.9h0M227.3 415.2h0M233.5 418.2h0M230.3 418.8h0M230.1 419.0h0M233.6 416.8h0M226.6 416.8h0M227.1 420.4h0M231.5 420.3h0M231.0 423.5h0M227.6 413.8h0M231.0 420.1h0M231.4 419.8h0M229.3 419.1h0M235.4 429.0h0M232.8 422.1h0M227.9 418.2h0M232.6 424.0h0M232.7 423.6h0M231.9 424.3h0M236.0 428.2h0M234.2 422.4h0M232.2 424.1h0M230.8 421.8h0M212.3 446.0h0M214.0 447.9h0M213.1 447.7h0M210.7 446.2h0M211.9 447.0h0M213.1 448.1h0M209.1 448.2h0M209.1 446.9h0M211.8 443.9h0M212.7 448.4h0M212.1 447.2h0M211.6 446.1h0M211.8 447.0h0M212.7 445.7h0M213.1 448.4h0M212.1 447.2h0M213.9 444.8h0M213.7 448.6h0M213.2 448.9h0M210.8 447.6h0M214.1 449.0h0M213.0 445.1h0M213.9 450.4h0M215.0 448.6h0M208.6 450.0h0M212.1 443.0h0M213.4 445.1h0M209.2 446.8h0M215.7 447.4h0M213.2 451.6h0M216.5 447.9h0M211.9 445.6h0M210.7 449.0h0M213.5 448.3h0M215.0 446.5h0M215.0 455.8h0M215.7 456.5h0M215.5 453.7h0M215.5 452.3h0M213.0 455.5h0M215.0 454.9h0M213.0 453.6h0M214.3 452.6h0M212.3 453.7h0M216.1 455.1h0M204.8 475.2h0M210.0 465.8h0M206.7 477.1h0M209.8 481.0h0M211.5 476.3h0M208.3 477.9h0M205.1 475.1h0M210.6 481.9h0M206.5 475.1h0M207.9 479.8h0M207.0 480.2h0M203.4 474.6h0M206.4 477.9h0M211.2 470.1h0M203.6 476.4h0M204.6 470.0h0M211.1 476.9h0M209.0 473.6h0M211.1 474.4h0M211.3 472.1h0M203.9 475.9h0M204.4 477.5h0M208.1 472.1h0M207.4 474.0h0M210.7 473.1h0M205.5 479.4h0M215.7 482.0h0M207.4 476.0h0M213.0 474.8h0M203.4 475.6h0M208.9 472.4h0M200.8 470.3h0M209.7 472.6h0M206.6 475.9h0M209.5 474.1h0M209.1 472.2h0M205.7 471.7h0M211.5 475.1h0M204.3 474.0h0M206.3 477.6h0M201.0 471.7h0M205.7 483.9h0M210.8 474.8h0M209.9 482.2h0M206.2 474.0h0M211.8 476.9h0M209.7 473.5h0M214.5 481.1h0M209.3 477.6h0M206.4 476.7h0M209.8 474.1h0M204.3 474.1h0M204.8 474.0h0M208.1 479.0h0M214.7 475.3h0M202.5 473.5h0M207.4 468.4h0M208.5 470.1h0M208.3 474.8h0M205.9 475.0h0M205.1 473.1h0M214.2 482.0h0M212.2 477.6h0M204.5 480.1h0M206.9 475.0h0M206.0 475.5h0M205.5 474.9h0M203.0 473.9h0M215.9 475.0h0M206.2 477.0h0M209.9 471.4h0M206.3 478.4h0M208.2 475.6h0M213.1 472.9h0M207.5 473.4h0M212.9 468.6h0M204.6 473.4h0M209.7 477.3h0M212.5 469.8h0M210.0 474.2h0M204.6 477.1h0M203.6 468.1h0M205.7 470.1h0M204.6 476.5h0M208.3 480.6h0M215.7 465.3h0M214.6 466.5h0M213.7 469.3h0M214.8 464.4h0M217.5 468.2h0M216.9 468.6h0M217.4 468.5h0M218.6 469.2h0M216.9 469.2h0M213.2 468.1h0M215.6 468.8h0M213.4 471.7h0M216.3 466.0h0M212.7 467.8h0M216.0 466.9h0M216.3 467.1h0M217.2 466.9h0M216.1 470.4h0M221.3 466.4h0M215.2 466.7h0M217.7 466.1h0M215.2 468.3h0M229.1 462.5h0M229.8 461.1h0M228.4 463.2h0M230.7 463.4h0M228.0 463.1h0M231.6 464.3h0M230.4 462.6h0M231.4 463.0h0M228.8 462.7h0M232.5 463.9h0M232.1 463.1h0M231.8 462.9h0M230.3 466.7h0M231.6 463.1h0M230.4 464.1h0M220.9 477.5h0M221.0 479.1h0M220.2 478.2h0M221.5 477.6h0M221.1 477.6h0M221.9 480.3h0M249.8 450.4h0M248.9 452.7h0M247.2 453.9h0M240.2 452.6h0M244.1 453.7h0M246.7 447.8h0M248.7 447.7h0M244.5 445.6h0M247.4 452.2h0M250.8 450.2h0M250.8 450.7h0M247.2 452.5h0M250.9 449.5h0M246.7 450.1h0M247.7 447.7h0M250.8 449.3h0M249.0 448.0h0M248.6 451.9h0M246.1 457.1h0M248.7 456.3h0M250.6 448.5h0M246.2 452.0h0M247.7 450.8h0M246.5 444.8h0M246.7 443.5h0M248.7 448.3h0M245.1 449.9h0M248.3 446.0h0M241.8 447.2h0M240.9 447.5h0M252.6 447.2h0M249.6 446.2h0M248.4 449.6h0M247.3 452.4h0M253.1 451.2h0M247.9 447.5h0M249.3 449.8h0M250.2 450.5h0M253.1 444.2h0M246.5 453.4h0M246.3 448.1h0M246.6 446.2h0M247.8 458.5h0M251.2 447.0h0M244.6 449.3h0M250.7 448.0h0M245.2 453.5h0M250.3 449.4h0M243.8 445.6h0M245.2 443.4h0M249.9 448.6h0M249.0 456.6h0M251.3 446.9h0M250.3 454.3h0M245.0 447.5h0M242.2 435.8h0M244.2 434.9h0M240.9 437.4h0M242.0 438.0h0M242.7 437.5h0M243.8 435.2h0M242.3 436.9h0M242.5 438.0h0M241.1 437.0h0M243.3 438.2h0M241.4 440.2h0M245.3 436.0h0M242.7 440.8h0M243.3 438.0h0M242.0 437.1h0M242.0 437.1h0M264.6 408.0h0M262.8 406.8h0M263.4 407.3h0M263.2 410.2h0M264.0 409.4h0M264.0 408.7h0M263.2 408.2h0M264.6 407.0h0M265.5 408.7h0M262.3 407.9h0M262.4 408.9h0M262.3 410.4h0M262.2 405.2h0M262.3 405.6h0M263.4 410.2h0M264.4 406.6h0M262.3 411.3h0M263.9 408.6h0M285.4 418.1h0M286.3 409.9h0M282.7 411.6h0M279.0 405.7h0M281.5 406.1h0M281.1 409.8h0M290.3 406.4h0M280.8 408.9h0M283.0 413.1h0M279.4 406.5h0M275.0 406.2h0M283.4 409.6h0M277.4 408.1h0M281.4 411.2h0M279.0 408.6h0M274.3 405.4h0M287.5 401.7h0M280.0 410.2h0M279.9 406.6h0M281.1 409.4h0M281.0 402.8h0M280.7 406.4h0M279.2 410.2h0M283.8 412.6h0M279.4 412.7h0M285.8 413.4h0M286.7 408.9h0M280.6 412.3h0M276.1 410.2h0M279.3 408.1h0M274.6 406.3h0M281.2 412.6h0M285.1 409.2h0M280.6 406.5h0M282.9 408.6h0M283.6 415.6h0M281.2 404.2h0M278.0 404.3h0M276.7 414.0h0M282.2 404.1h0M283.8 413.9h0M279.9 407.1h0M280.0 410.4h0M283.8 413.6h0M286.0 413.6h0M289.0 414.3h0M275.9 408.7h0M284.3 406.9h0M287.0 407.1h0M278.6 419.8h0M285.9 411.2h0M287.0 417.1h0M284.4 392.4h0M279.8 406.4h0M278.4 411.0h0M288.3 406.2h0M277.7 423.9h0M280.8 401.0h0M283.9 412.6h0M279.6 415.2h0M280.6 403.1h0M283.6 415.1h0M279.9 412.0h0M282.4 429.5h0M279.6 419.4h0M282.6 408.7h0M286.1 415.9h0M288.6 411.9h0M280.1 405.9h0M285.1 413.7h0M289.2 412.6h0M287.7 420.3h0M283.6 399.2h0M277.5 399.5h0M290.1 403.7h0M288.4 413.8h0M290.6 416.7h0M282.4 408.2h0M283.2 410.9h0M280.4 409.4h0M290.2 397.7h0M284.0 403.3h0M283.7 415.5h0M282.6 415.1h0M275.6 417.4h0M280.1 414.0h0M283.7 391.5h0M279.4 411.2h0M289.9 411.7h0M284.0 399.7h0M289.3 422.3h0M283.0 408.1h0M275.5 415.8h0M295.1 414.7h0M288.6 413.4h0M278.4 419.0h0M277.2 408.2h0M284.1 415.8h0M284.7 412.4h0M279.4 400.6h0M306.7 397.9h0M301.2 395.6h0M304.5 393.1h0M301.0 394.0h0M307.2 402.6h0M314.6 394.6h0M303.7 404.7h0M305.6 399.5h0M313.4 399.5h0M301.8 395.3h0M307.8 402.2h0M300.9 396.7h0M308.6 403.3h0M303.9 403.5h0M308.8 393.4h0M305.2 402.7h0M304.2 391.9h0M305.3 404.1h0M312.9 391.7h0M317.0 396.1h0M310.3 406.1h0M310.5 401.5h0M301.8 403.5h0M303.6 390.3h0M317.9 403.9h0M313.8 397.1h0M312.4 407.6h0M312.8 400.8h0M301.6 400.2h0M297.6 393.7h0M306.9 396.7h0M305.8 400.4h0M314.3 406.4h0M306.3 406.0h0M303.3 399.5h0M310.2 395.7h0M305.4 395.3h0M307.0 407.8h0M301.2 403.2h0M300.3 392.4h0M298.1 412.8h0M321.4 405.2h0M301.4 406.9h0M303.9 407.7h0M308.0 403.6h0M310.0 396.9h0M303.5 387.9h0M303.2 390.3h0M305.1 393.9h0M306.7 405.0h0M296.9 395.0h0M300.0 407.2h0M317.1 408.1h0M303.8 412.9h0M296.3 413.1h0M299.4 402.7h0M304.7 402.2h0M296.5 396.1h0M309.1 403.1h0M313.8 402.0h0M321.3 395.8h0M298.0 411.8h0M300.0 405.6h0M305.7 393.2h0M303.8 397.4h0M302.9 407.3h0M310.3 396.9h0M300.2 403.6h0M305.4 409.5h0M305.9 400.1h0M300.5 394.3h0M299.6 398.3h0M303.3 407.2h0M303.5 399.9h0M298.2 414.3h0M309.4 415.4h0M311.2 413.1h0M304.5 407.0h0M313.7 414.7h0M308.8 407.4h0M314.4 396.2h0M308.8 394.4h0M301.6 396.5h0M305.1 402.6h0M309.1 390.0h0M319.2 410.7h0M310.9 398.5h0M305.5 405.8h0M308.8 387.9h0M311.0 424.8h0M293.8 409.4h0M308.5 400.5h0M315.2 391.9h0M307.2 413.2h0M304.8 398.0h0M306.8 397.8h0M316.4 394.1h0M311.9 391.3h0M310.5 400.6h0M288.9 401.4h0M299.0 397.8h0M316.3 392.4h0M299.0 413.0h0M306.8 413.8h0M308.2 394.3h0M305.6 411.3h0M312.3 401.4h0M306.4 400.5h0M302.2 417.0h0M306.1 392.3h0M302.9 407.3h0M310.3 400.3h0M301.6 401.6h0M294.9 390.9h0M311.4 397.5h0M308.6 411.2h0M310.4 401.6h0M320.2 406.8h0M303.7 407.3h0M308.8 394.5h0M306.6 400.1h0M293.0 400.0h0M304.2 397.9h0M295.1 398.5h0M305.8 402.2h0M298.5 406.5h0M298.0 399.6h0M314.8 395.8h0M302.7 410.0h0M303.5 399.0h0M307.5 409.8h0M291.4 394.7h0M299.4 392.7h0M300.4 394.7h0M308.1 394.3h0M306.9 404.6h0M301.2 402.5h0M316.9 404.0h0M301.9 400.9h0M300.0 403.6h0M311.8 394.8h0M304.7 410.3h0M302.8 402.9h0M299.3 394.8h0M302.7 418.4h0M303.4 397.3h0M302.4 400.1h0M310.3 402.9h0M319.4 403.1h0M315.4 403.6h0M310.0 390.1h0M305.3 400.9h0M311.8 398.4h0M303.2 399.4h0M304.6 404.6h0M297.9 394.1h0M308.0 402.5h0M303.6 396.9h0M300.7 400.9h0M313.7 393.1h0M315.9 408.0h0M303.1 407.5h0M296.6 387.8h0M297.7 398.2h0M304.0 397.4h0M309.3 390.3h0M301.8 398.2h0M298.6 390.7h0M299.6 401.3h0M309.9 405.8h0M299.6 395.2h0M300.1 404.9h0M292.9 411.1h0M302.9 395.3h0M308.3 409.5h0M308.3 409.6h0M306.9 411.0h0M314.1 400.6h0M315.4 402.7h0M306.6 394.2h0M304.2 407.5h0M297.6 406.5h0M308.3 403.6h0M291.8 400.6h0M310.3 395.4h0M310.4 396.2h0M311.7 387.0h0M310.6 399.5h0M316.4 410.9h0M314.2 415.6h0M313.9 411.2h0M314.8 410.7h0M317.0 414.8h0M314.1 409.6h0M316.9 413.9h0M316.4 414.0h0M313.9 412.0h0M313.1 410.1h0M316.7 411.2h0M318.6 412.4h0M314.2 413.5h0M317.9 413.0h0M313.3 412.8h0M276.5 433.7h0M271.5 437.2h0M273.7 432.3h0M272.4 433.1h0M274.0 435.1h0M276.0 436.5h0M269.7 435.8h0M275.4 435.9h0M275.7 433.6h0M271.1 437.0h0M270.9 429.9h0M275.7 433.2h0M272.6 431.6h0M270.3 432.2h0M272.5 435.7h0M268.0 436.6h0M270.6 432.4h0M274.9 434.7h0M269.8 439.1h0M271.3 435.4h0M273.8 438.1h0M272.3 437.2h0M271.6 437.4h0M271.6 434.0h0M277.7 435.6h0M273.6 440.0h0M274.2 433.0h0M275.0 432.1h0M276.0 437.6h0M272.0 433.4h0M273.7 434.9h0M271.1 436.2h0M268.6 433.8h0M272.4 434.2h0M274.0 432.0h0M274.7 434.4h0M271.8 431.7h0M270.6 435.7h0M271.1 435.0h0M275.8 437.2h0M277.0 434.2h0M270.8 437.2h0M274.1 437.4h0M273.4 437.6h0M275.3 436.5h0M275.0 441.4h0M273.5 440.2h0M277.7 435.4h0M281.9 438.1h0M277.7 438.2h0M270.8 452.0h0M270.5 430.4h0M268.3 436.7h0M284.2 440.1h0M277.4 432.2h0M274.2 443.1h0M282.2 434.2h0M275.6 440.7h0M266.5 438.6h0M270.8 423.6h0M275.5 442.3h0M269.8 430.0h0M280.4 440.5h0M277.9 448.0h0M269.3 444.1h0M270.9 438.4h0M271.7 438.8h0M278.4 439.6h0M271.4 437.0h0M274.1 432.9h0M269.4 438.4h0M269.1 438.0h0M268.8 451.8h0M279.6 441.7h0M271.9 453.1h0M274.0 438.2h0M273.9 440.8h0M280.1 438.6h0M283.9 433.0h0M276.1 432.2h0M282.3 436.6h0M271.9 444.8h0M279.2 431.5h0M270.3 429.7h0M273.0 438.1h0M270.3 434.3h0M270.1 433.9h0M275.2 448.7h0M261.5 438.0h0M269.9 442.0h0M266.9 437.8h0M266.4 443.3h0M272.8 437.7h0M274.3 437.2h0M263.6 442.6h0M273.8 437.8h0M277.7 446.7h0M266.1 433.7h0M280.8 448.0h0M268.1 431.1h0M268.7 435.5h0M263.4 439.0h0M265.1 430.9h0M277.3 434.3h0M271.8 442.9h0M276.7 436.6h0M272.5 433.4h0M281.9 443.0h0M266.1 438.8h0M276.2 441.9h0M282.4 447.7h0M269.2 438.2h0M265.1 440.4h0M273.1 456.4h0M272.8 425.1h0M268.5 439.5h0M265.2 433.1h0M270.2 441.0h0M271.3 433.0h0M276.6 435.2h0M269.4 429.8h0M267.9 443.0h0M263.2 438.3h0M276.2 436.3h0M273.6 431.5h0M279.5 445.9h0M273.5 427.3h0M266.4 445.1h0M281.7 440.7h0M279.2 434.8h0M271.2 438.8h0M274.6 428.8h0M277.4 447.4h0M265.8 429.9h0M274.2 434.5h0M262.1 459.1h0M265.1 457.6h0M267.5 458.3h0M264.0 458.3h0M263.7 457.2h0M265.4 457.5h0M264.4 460.2h0M266.0 459.1h0M265.6 458.7h0M266.7 458.1h0M267.2 457.0h0M264.6 456.5h0M267.5 475.8h0M271.6 475.4h0M267.7 477.4h0M271.0 476.0h0M269.9 477.3h0M267.2 476.3h0M267.8 474.1h0M270.2 473.1h0M270.1 478.2h0M267.6 474.4h0M267.3 477.2h0M269.3 476.8h0M269.8 474.9h0M268.2 472.7h0M269.3 476.5h0M266.9 478.7h0M269.2 469.9h0M267.9 472.9h0M269.9 481.6h0M266.7 476.3h0M270.1 484.0h0M271.6 485.8h0M268.8 486.4h0M268.9 483.8h0M272.5 484.7h0M268.9 481.8h0M269.7 483.1h0M272.5 480.7h0M271.3 484.5h0M271.5 484.2h0M273.1 484.2h0M272.0 484.4h0M273.6 479.4h0M272.7 482.7h0M270.0 481.3h0M267.3 482.5h0M269.3 484.2h0M268.0 486.1h0M271.0 482.8h0M269.3 481.7h0M268.6 482.2h0M270.5 482.9h0M268.1 482.7h0M269.0 483.6h0M273.7 484.5h0M270.0 480.0h0M268.1 479.9h0M271.7 481.7h0M270.6 482.0h0M270.7 486.1h0M269.3 482.6h0M269.1 485.0h0M268.7 481.0h0M268.1 480.4h0M271.3 488.4h0M268.8 485.2h0M270.9 481.0h0M270.0 482.8h0M269.3 487.1h0M267.2 484.0h0M269.1 454.4h0M298.0 425.1h0M264.3 404.1h0M219.9 462.1h0M284.3 390.2h0M294.9 420.8h0M262.5 406.3h0M273.8 426.8h0M287.6 412.0h0M208.2 475.8h0M273.6 429.0h0M243.4 436.2h0M227.3 429.9h0M248.0 415.4h0M274.7 453.9h0M274.6 412.5h0M314.7 404.9h0M309.7 411.2h0M254.1 454.6h0M226.5 459.0h0M207.6 477.0h0M252.3 458.0h0M265.7 412.9h0M301.2 408.1h0M263.2 446.0h0M228.1 449.6h0M299.1 406.9h0M275.3 450.5h0M268.0 404.7h0M274.1 415.7h0M262.4 433.1h0M279.9 425.0h0M251.5 427.3h0M206.4 454.8h0M239.6 432.9h0M315.6 393.3h0M227.0 484.7h0M248.4 411.6h0M263.1 433.9h0M307.5 391.7h0M258.4 448.8h0M259.9 409.1h0M239.3 431.1h0M254.5 442.2h0M232.7 484.1h0M203.8 461.0h0M285.8 420.3h0M245.2 439.0h0M310.3 419.8h0M306.9 418.4h0M214.9 447.0h0M218.8 427.7h0M216.7 476.3h0M263.9 445.7h0M310.4 421.2h0M279.7 454.8h0M280.5 442.6h0M290.0 394.8h0M226.0 461.7h0M223.7 440.4h0M231.9 430.3h0M254.2 414.3h0M266.9 458.6h0M302.2 395.7h0M257.7 448.0h0M207.4 466.6h0M245.4 434.1h0M241.3 414.7h0M226.3 430.3h0M220.0 470.5h0M318.1 396.4h0M313.0 394.0h0M282.6 417.4h0M279.5 450.4h0M238.9 420.4h0M277.9 443.6h0M259.6 455.6h0M259.8 460.2h0M222.5 419.2h0M280.9 416.0h0M275.6 428.1h0M218.6 446.1h0M315.8 394.8h0M262.7 426.8h0M249.6 413.8h0M233.2 410.7h0M212.9 442.7h0M254.3 458.9h0M246.9 453.6h0M254.3 450.6h0M213.8 440.5h0M218.1 439.1h0M253.8 425.0h0M268.3 449.6h0M270.7 455.2h0M213.1 432.4h0M294.9 416.4h0M225.1 427.1h0M208.9 429.6h0M246.4 467.9h0M226.7 448.5h0M233.0 443.3h0M233.5 417.8h0M306.6 391.7h0M207.4 474.1h0M284.5 408.5h0M311.1 416.3h0M295.7 394.1h0M255.5 437.8h0M252.4 424.6h0M249.4 423.5h0M293.2 396.3h0M253.0 458.6h0M211.0 431.1h0M300.1 407.2h0M282.0 446.3h0M270.7 447.5h0M256.6 423.1h0M245.0 464.6h0M267.6 428.4h0M236.3 427.3h0M212.4 461.5h0M264.8 456.2h0M298.8 391.3h0M215.2 440.2h0M211.2 476.5h0M222.6 454.3h0M279.4 419.1h0M226.4 479.4h0M239.9 445.8h0M269.3 460.0h0M285.6 436.2h0M264.8 450.3h0M224.9 469.1h0M312.1 410.5h0M272.4 445.7h0M209.0 447.1h0M229.6 425.9h0M221.3 417.4h0M306.4 398.7h0M247.6 438.7h0M254.0 434.3h0M251.7 457.7h0M254.5 436.7h0M295.2 397.6h0M248.4 465.7h0M241.3 471.4h0M287.2 390.8h0M247.0 464.3h0M264.1 454.8h0M273.8 415.3h0M228.0 442.6h0M317.9 400.4h0M231.0 435.2h0M276.6 418.5h0M213.5 471.4h0M220.4 436.3h0M268.0 429.6h0M288.2 410.3h0M222.8 481.2h0M212.3 477.0h0M246.8 456.7h0M285.7 430.6h0M265.9 417.7h0M232.5 414.4h0M306.6 423.2h0M212.8 450.5h0M242.6 448.5h0M311.0 390.1h0M227.6 479.3h0M261.9 403.8h0M269.3 460.6h0M278.1 431.0h0M210.8 475.4h0M274.0 449.5h0M251.7 454.7h0M229.9 412.7h0M306.1 407.2h0M247.1 462.1h0M240.3 423.7h0M310.3 407.5h0M229.6 476.5h0M251.3 437.5h0M217.2 454.1h0M278.7 424.9h0M249.2 417.2h0M279.2 456.1h0M232.9 411.0h0M228.0 479.1h0M253.1 464.2h0M220.6 453.1h0M306.7 403.3h0M251.2 449.3h0M226.0 442.8h0M216.4 423.0h0M255.8 452.1h0M305.5 402.9h0M222.3 438.2h0M251.9 431.2h0M257.7 412.4h0M308.3 404.7h0M246.8 464.9h0M270.6 433.8h0M224.8 478.4h0M258.9 417.1h0M251.5 435.1h0M311.4 421.7h0M235.2 452.9h0M248.8 459.4h0M289.1 425.8h0M230.4 441.3h0M216.4 428.5h0M239.2 432.0h0M300.4 396.4h0M267.2 408.7h0M211.6 429.2h0M212.1 435.8h0M288.5 418.0h0M220.7 423.2h0M220.5 472.1h0M212.1 461.7h0M240.8 460.4h0M293.6 400.2h0M268.9 452.0h0M243.0 450.0h0M315.3 390.2h0M269.9 405.5h0M296.5 410.1h0M290.0 420.3h0M279.1 455.4h0M253.3 456.4h0M269.2 423.4h0M303.2 424.0h0M261.0 424.8h0M245.8 439.0h0M222.4 473.0h0M265.6 458.3h0M218.0 482.5h0M298.2 413.1h0M278.4 440.9h0M293.3 425.5h0M230.4 479.1h0M251.2 436.0h0M284.2 449.8h0M261.9 464.3h0M248.3 413.2h0M287.2 403.6h0M206.0 480.1h0M314.3 414.2h0M248.0 457.9h0M244.1 468.4h0M310.7 400.5h0M283.6 424.7h0M221.5 422.0h0M267.7 448.4h0M243.1 470.9h0M267.7 446.6h0M230.6 465.3h0M235.9 417.2h0M218.5 447.7h0M293.6 399.3h0M265.1 441.3h0M213.4 440.3h0M319.5 395.7h0M241.9 449.3h0M305.1 410.8h0M250.1 462.0h0M302.9 406.5h0M317.5 396.8h0M279.9 410.8h0M314.2 399.6h0M310.7 403.3h0M211.7 473.9h0M291.1 413.3h0M313.9 399.2h0M246.8 427.3h0M264.9 419.4h0M230.6 466.2h0M234.2 420.2h0M259.8 414.3h0M288.2 395.1h0M239.5 429.2h0M251.3 434.1h0M300.7 408.7h0M295.7 418.3h0M285.1 399.3h0M273.5 402.4h0M215.5 431.8h0M247.7 406.4h0M236.7 441.5h0M273.5 428.2h0M306.4 403.7h0M224.3 433.5h0M275.7 419.7h0M320.1 405.1h0M268.0 455.0h0M247.1 414.0h0M269.3 425.5h0M259.2 404.6h0M316.7 402.0h0M214.2 451.1h0M300.4 394.3h0M274.6 413.6h0M210.4 465.9h0M236.8 429.0h0M216.2 420.1h0M270.4 416.9h0M316.4 406.6h0M242.3 439.9h0M275.2 421.2h0M253.7 450.1h0M255.7 415.3h0M250.1 425.6h0M250.2 458.5h0M213.1 468.2h0M251.3 426.8h0M214.5 437.6h0M293.2 394.9h0M235.4 421.5h0M235.0 430.4h0M271.6 397.6h0M314.9 420.6h0M277.7 453.6h0M238.3 432.8h0M238.1 420.6h0M259.2 455.8h0M212.4 479.1h0M284.4 395.4h0M244.1 420.2h0M255.2 463.0h0M210.6 480.5h0M258.0 423.6h0M284.7 414.6h0M286.5 428.7h0M258.2 405.7h0M251.5 465.1h0M310.6 402.7h0M274.6 413.3h0M230.9 436.7h0M273.4 430.8h0M274.1 428.2h0M238.6 437.7h0M286.2 404.2h0M315.6 411.6h0M319.2 392.6h0M269.9 429.5h0M270.4 427.4h0M260.2 422.8h0M226.3 416.2h0M243.3 423.2h0M222.1 434.5h0M214.0 474.6h0M240.1 412.4h0M219.3 435.3h0M285.3 430.1h0M281.6 434.2h0M261.3 418.1h0M252.0 435.3h0M241.8 470.3h0M242.0 466.2h0M244.0 452.3h0M300.3 411.2h0M273.8 407.9h0M244.9 441.8h0M316.7 401.4h0M209.4 441.2h0M314.4 391.2h0M244.1 452.9h0M266.2 430.9h0M265.6 458.6h0M208.3 441.3h0M218.6 473.3h0M211.9 453.4h0M285.5 414.5h0M272.1 420.0h0M231.7 412.9h0M211.0 468.1h0M264.4 433.9h0M275.8 438.6h0M238.3 439.0h0M217.1 443.5h0M305.5 412.2h0M267.4 422.4h0M241.9 427.5h0M232.5 422.8h0M220.1 420.5h0M307.2 410.3h0M213.3 453.0h0M260.9 418.2h0M210.7 425.8h0M233.2 479.8h0M212.7 477.4h0M298.2 395.3h0M264.6 408.2h0M212.6 424.4h0M245.3 405.6h0M242.0 411.8h0M315.7 402.7h0M269.2 454.9h0M218.9 440.5h0M224.6 423.5h0M265.7 445.9h0M240.6 419.6h0M284.1 436.0h0M288.0 402.0h0M218.4 461.2h0M304.7 423.2h0M293.4 413.5h0M318.4 416.9h0M205.8 475.6h0M272.4 431.5h0M217.5 434.2h0M255.9 448.2h0M267.0 449.8h0M202.0 470.9h0M309.3 408.2h0M260.6 416.1h0M255.5 456.3h0M239.3 454.0h0M319.2 410.4h0M236.4 432.0h0M285.0 409.1h0M307.0 408.0h0M237.0 447.5h0M289.2 397.6h0M235.1 475.3h0M250.8 437.3h0M230.3 412.1h0M206.9 478.4h0M262.3 416.4h0M219.9 467.6h0M291.3 416.8h0M315.4 404.3h0M264.2 441.1h0M260.9 465.1h0M295.8 391.7h0M266.4 431.2h0M249.3 441.1h0M275.9 457.9h0M214.9 455.9h0M283.7 448.6h0M246.7 433.6h0M231.8 479.7h0M269.6 404.9h0M234.4 446.3h0M298.3 419.9h0M269.2 412.8h0M227.6 454.8h0M224.7 456.5h0M267.7 404.4h0M237.1 440.0h0M203.0 472.0h0M283.3 428.4h0M301.7 406.3h0M258.9 442.2h0M296.3 389.5h0M244.2 434.7h0M227.6 431.2h0M236.5 425.9h0M225.3 415.6h0M309.1 397.4h0M229.7 431.1h0M208.5 423.1h0M207.8 482.4h0M259.6 407.9h0M253.2 424.7h0M306.9 399.7h0M225.9 415.3h0M208.0 472.2h0M259.5 447.6h0M233.8 440.4h0M260.9 416.8h0M228.5 422.8h0M289.2 403.3h0M247.8 424.3h0M230.4 468.6h0M237.7 427.8h0M216.0 477.1h0M245.6 457.6h0M203.7 457.2h0M255.0 454.9h0M221.1 440.0h0M301.4 403.1h0M256.9 405.2h0M259.6 432.9h0M285.8 420.7h0M259.2 454.9h0M234.4 427.6h0M307.3 407.6h0M310.8 409.8h0M211.0 438.6h0M298.9 398.0h0M279.6 410.7h0M305.8 409.5h0M252.5 445.0h0M231.7 429.4h0M208.7 465.8h0M293.1 412.2h0M216.8 428.0h0M301.0 394.3h0M252.4 422.5h0M308.2 402.1h0M279.6 419.3h0M235.8 414.5h0M214.9 466.1h0M205.9 468.5h0M235.0 465.0h0M283.1 443.5h0M264.7 447.1h0M242.7 442.1h0M254.4 428.1h0M232.9 480.6h0M314.3 391.3h0M258.4 410.7h0M215.6 452.4h0M209.9 476.4h0M297.4 413.8h0M214.5 443.3h0M256.7 418.0h0M278.6 406.6h0M242.5 418.6h0M269.4 409.1h0M277.9 425.0h0M266.1 426.9h0M210.3 475.6h0M237.5 415.1h0M232.4 416.4h0M299.5 391.6h0M223.2 483.2h0M263.0 415.9h0M223.2 441.2h0M315.0 408.0h0M269.2 450.1h0M286.6 430.2h0M238.5 422.4h0M210.2 480.4h0M231.6 441.3h0M208.5 442.5h0M278.5 394.6h0M318.3 403.1h0M232.2 461.2h0M229.2 418.4h0M307.2 415.8h0M264.6 428.2h0M282.1 409.6h0M221.6 418.4h0M255.5 449.0h0M314.7 416.2h0M284.1 425.2h0M283.3 422.3h0M271.4 457.3h0M246.0 436.3h0M266.6 458.9h0M246.2 451.5h0M249.4 458.3h0M264.6 461.8h0M304.0 388.5h0M247.8 462.0h0M304.6 423.7h0M258.7 440.8h0M213.1 461.5h0M212.6 465.6h0M221.3 467.8h0M211.4 464.5h0M209.0 463.9h0M219.0 466.8h0M209.4 468.2h0M208.0 456.5h0M211.4 467.4h0M214.7 468.6h0M218.3 468.7h0M220.3 469.5h0M212.0 459.0h0M217.7 463.5h0M220.1 468.1h0M212.5 454.2h0M219.5 465.6h0M212.0 453.0h0M207.9 456.8h0M212.0 456.0h0M208.4 455.2h0M213.2 453.7h0M210.9 460.6h0M221.3 469.3h0M214.1 454.3h0M211.9 465.4h0M214.1 463.3h0M219.5 465.0h0M212.3 452.5h0M216.0 464.2h0M264.0 438.8h0M268.0 440.8h0M262.8 444.6h0M277.2 444.3h0M272.7 444.5h0M266.9 440.3h0M262.6 451.7h0M267.3 442.9h0M278.0 453.6h0M264.2 445.6h0M270.0 440.8h0M267.3 442.9h0M274.6 439.5h0M278.1 442.0h0M265.4 439.1h0M276.6 452.7h0M260.4 447.3h0M266.6 448.7h0M265.5 455.0h0M263.3 452.6h0M264.2 449.5h0M267.3 447.3h0M269.1 449.1h0M260.4 438.8h0M277.7 442.3h0M265.9 442.1h0M271.5 455.5h0M266.8 443.6h0M265.8 438.2h0M260.8 438.6h0M265.3 455.6h0M261.8 447.7h0M263.1 438.4h0M275.2 440.1h0M261.7 452.5h0M263.8 441.4h0M277.2 441.3h0M275.1 443.3h0M269.9 443.4h0M265.6 454.6h0M286.0 435.0h0M283.2 433.9h0M276.8 431.9h0M282.0 451.6h0M283.5 453.1h0M278.2 435.1h0M286.4 443.2h0M281.6 457.3h0M285.3 452.0h0M281.2 436.7h0M283.6 442.3h0M282.9 436.5h0M286.5 434.7h0M274.5 455.8h0M282.0 447.9h0M276.1 439.6h0M275.8 443.0h0M282.0 451.7h0M282.9 440.2h0M277.3 452.7h0M287.0 436.4h0M278.5 438.0h0M287.0 430.2h0M285.7 452.8h0M277.3 450.2h0M277.8 448.9h0M278.7 457.3h0M279.2 454.2h0M281.0 440.9h0M286.9 435.6h0M285.1 448.1h0M278.8 454.6h0M284.0 455.6h0M278.9 449.4h0M273.8 451.9h0M277.6 457.1h0M284.9 442.3h0M275.6 453.3h0M275.8 459.1h0M276.4 455.6h0M279.5 457.9h0M276.7 457.6h0M276.8 443.2h0M281.8 446.4h0M282.4 450.7h0M282.3 453.4h0M279.4 450.7h0M286.1 445.5h0M285.8 442.1h0M272.0 457.9h0M277.0 456.0h0M274.3 462.6h0M275.4 447.4h0M281.4 447.6h0M282.3 449.3h0M275.4 441.9h0M273.3 461.3h0M277.5 445.9h0M273.2 460.6h0M282.0 455.9h0M283.8 444.1h0M282.5 439.6h0M281.3 446.2h0M281.2 443.7h0M275.6 455.3h0M286.3 446.7h0M272.3 462.7h0M283.3 440.7h0M276.6 451.3h0M283.4 451.9h0M289.6 429.1h0M282.9 425.7h0M290.7 440.3h0M285.0 429.7h0M283.5 434.8h0M287.4 425.5h0M292.7 428.7h0M286.6 435.8h0M295.1 427.5h0M287.1 423.1h0M293.4 438.0h0M288.0 431.6h0M284.6 440.2h0M288.2 423.4h0M281.9 429.1h0M283.3 439.0h0M290.2 431.3h0M293.0 437.0h0"/>
<path stroke="#ff7f0e" stroke-width="1.3" stroke-linecap="square" d="M255.1 479.6h0M255.9 481.0h0M255.7 480.6h0M254.2 478.3h0M257.2 482.0h0"/>
<path stroke="#2ca02c" stroke-width="1.3" stroke-linecap="square" d="M284.2 388.1h0M284.3 387.1h0"/>
<path stroke="#d62728" stroke-width="1.3" stroke-linecap="square" d="M292.8 436.4h0M291.8 436.1h0"/>
<path stroke="#9467bd" stroke-width="1.3" stroke-linecap="square" d="M243.8 469.6h0M243.4 469.2h0M242.3 464.7h0M245.0 469.6h0M243.6 468.5h0M245.3 467.6h0M242.0 468.1h0M245.6 466.0h0M245.6 467.3h0M241.2 470.5h0M243.1 466.2h0M242.6 470.0h0M245.6 467.7h0M244.1 469.6h0M242.1 469.0h0M243.3 467.5h0M242.4 468.5h0M243.4 467.4h0M242.5 470.3h0M243.7 469.9h0M245.6 469.4h0M247.7 467.0h0M244.9 467.8h0M246.9 471.3h0M239.6 466.7h0M244.6 469.7h0M271.3 464.3h0M272.8 463.3h0M271.6 463.6h0M271.0 462.9h0M271.7 462.5h0M255.8 465.2h0M254.8 464.0h0M254.0 467.4h0M254.0 467.1h0M256.4 464.7h0M254.2 466.4h0M257.7 464.0h0M255.3 466.4h0M256.1 467.6h0M255.0 465.8h0M254.1 467.7h0M254.8 462.5h0M294.5 387.5h0M294.0 427.0h0"/>
<path stroke="#8c564b" stroke-width="1.3" stroke-linecap="square" d="M219.3 410.0h0M218.3 410.5h0M232.9 478.7h0M229.3 479.0h0M231.4 479.5h0M233.0 479.7h0M232.4 478.0h0M232.4 481.9h0M232.3 479.6h0M231.6 481.5h0M230.3 479.2h0M232.0 480.2h0M230.9 479.7h0M231.1 479.5h0"/>
<path stroke="#e377c2" stroke-width="1.3" stroke-linecap="square" d="M221.8 485.8h0M220.8 486.2h0M220.3 487.6h0M219.1 487.1h0M220.1 487.5h0M220.3 485.4h0M254.7 400.0h0"/>
<path stroke="#7f7f7f" stroke-width="1.3" stroke-linecap="square" d="M233.0 402.6h0M232.2 402.8h0M233.0 403.8h0M232.7 402.9h0M232.1 404.0h0M232.8 404.5h0M231.4 403.3h0M231.0 401.3h0M234.5 403.9h0M232.7 404.0h0M230.0 399.6h0M232.3 402.7h0M231.2 401.6h0M231.9 402.8h0M343.0 467.5h0M341.3 466.9h0M341.3 468.0h0M340.5 467.6h0M344.4 467.3h0M340.0 467.5h0M343.4 469.1h0M342.1 467.6h0M340.9 468.6h0M340.2 468.8h0M343.7 468.0h0M342.5 468.4h0M343.9 467.4h0M343.3 467.8h0M340.4 468.0h0M341.2 467.4h0M339.1 467.5h0M343.7 469.1h0M342.5 468.6h0M340.8 467.9h0M342.0 467.4h0M340.0 468.0h0M341.1 467.4h0M342.1 467.8h0M343.1 468.0h0M341.1 468.1h0M341.3 467.6h0M340.9 468.4h0M342.5 468.7h0M339.0 467.8h0M340.9 468.1h0M340.9 467.7h0M342.7 468.1h0M339.8 468.7h0M350.7 462.8h0M350.3 463.0h0M351.2 462.8h0M348.1 466.3h0M348.6 466.6h0M349.9 464.8h0M345.6 463.5h0M348.2 463.6h0M351.0 465.4h0M349.7 464.3h0M349.2 465.3h0M348.3 465.7h0M349.2 467.6h0M350.4 465.8h0M349.3 465.6h0M349.8 465.7h0M351.1 463.7h0M347.9 465.8h0M352.0 461.8h0M350.4 466.7h0M351.8 463.4h0M351.0 467.5h0M350.7 464.7h0M348.2 464.4h0M347.9 467.8h0M350.0 464.2h0M346.6 466.2h0M347.9 464.6h0M352.0 464.2h0M354.8 460.5h0M348.0 465.5h0M343.7 471.0h0M350.2 466.1h0M351.1 464.4h0M350.5 465.1h0M351.0 461.6h0M347.7 464.9h0M353.3 463.0h0M349.8 462.8h0M349.7 464.6h0M349.6 464.8h0M350.1 463.8h0M339.0 457.7h0M338.6 457.5h0M338.6 458.2h0M338.6 457.8h0M338.6 456.3h0M339.0 456.7h0M338.4 464.5h0M337.7 464.1h0M345.3 459.8h0M345.1 460.3h0"/>
<rect x="353.2" y="355.4" width="2" height="1.4" fill="#1f77b4" fill-opacity="0.75"/>
<text x="358.6" y="356.9" class="lg" text-anchor="middle">0</text>
<rect x="353.2" y="358.0" width="2" height="1.4" fill="#ff7f0e" fill-opacity="0.75"/>
<text x="358.6" y="359.4" class="lg" text-anchor="middle">1</text>
<rect x="353.2" y="360.5" width="2" height="1.4" fill="#2ca02c" fill-opacity="0.75"/>
<text x="358.6" y="362.0" class="lg" text-anchor="middle">2</text>
<rect x="353.2" y="363.1" width="2" height="1.4" fill="#d62728" fill-opacity="0.75"/>
<text x="358.6" y="364.5" class="lg" text-anchor="middle">3</text>
<rect x="353.2" y="365.6" width="2" height="1.4" fill="#9467bd" fill-opacity="0.75"/>
<text x="358.6" y="367.1" class="lg" text-anchor="middle">4</text>
<rect x="353.2" y="368.2" width="2" height="1.4" fill="#8c564b" fill-opacity="0.75"/>
<text x="358.6" y="369.6" class="lg" text-anchor="middle">5</text>
<rect x="353.2" y="370.7" width="2" height="1.4" fill="#e377c2" fill-opacity="0.75"/>
<text x="358.6" y="372.2" class="lg" text-anchor="middle">6</text>
<rect x="353.2" y="373.3" width="2" height="1.4" fill="#7f7f7f" fill-opacity="0.75"/>
<text x="358.6" y="374.7" class="lg" text-anchor="middle">7</text>
</g>
<text x="72.2" y="165.6" class="cap" textLength="45.2" lengthAdjust="spacingAndGlyphs"><tspan font-weight="bold" font-size="9.8px">(a)</tspan> <tspan font-style="italic">k</tspan>-means</text>
<text x="234.2" y="165.6" class="cap" textLength="81.5" lengthAdjust="spacingAndGlyphs"><tspan font-weight="bold" font-size="9.8px">(b)</tspan> Bisecting <tspan font-style="italic">k</tspan>-means</text>
<text x="431.6" y="165.7" class="cap" textLength="48.0" lengthAdjust="spacingAndGlyphs"><tspan font-weight="bold" font-size="9.8px">(c)</tspan> <tspan font-size="7.9px">DBSCAN</tspan></text>
<text x="72.3" y="338.3" class="cap" textLength="45.3" lengthAdjust="spacingAndGlyphs"><tspan font-weight="bold" font-size="9.8px">(d)</tspan> <tspan font-size="7.9px">OPTICS</tspan></text>
<text x="222.9" y="338.4" class="cap" textLength="104.8" lengthAdjust="spacingAndGlyphs"><tspan font-weight="bold" font-size="9.8px">(e)</tspan> Gaussian Mixture Model</text>
<text x="406.8" y="338.3" class="cap" textLength="98.2" lengthAdjust="spacingAndGlyphs"><tspan font-weight="bold" font-size="9.8px">(f)</tspan> Hierarchical Clustering</text>
<text x="232.6" y="510.7" class="cap" textLength="85.0" lengthAdjust="spacingAndGlyphs"><tspan font-weight="bold" font-size="9.8px">(g)</tspan> Spectral Clustering</text>
</svg>
</body></html>
